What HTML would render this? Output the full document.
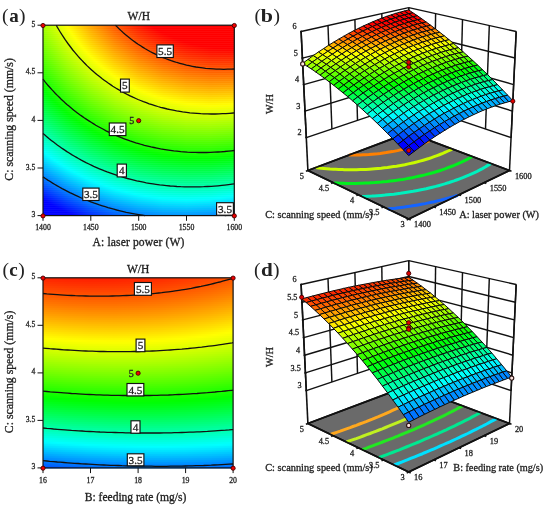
<!DOCTYPE html>
<html><head><meta charset="utf-8"><title>W/H response surfaces</title>
<style>html,body{margin:0;padding:0;background:#fff}svg{display:block}text{font-family:"Liberation Serif",serif;stroke:#222;stroke-width:.3px}text.p{stroke:none}</style>
</head><body>
<svg width="550" height="507" viewBox="0 0 550 507">
<defs><linearGradient id="ga1"><stop offset="0" stop-color="#a3ff00"/><stop offset="0.125" stop-color="#feff00"/><stop offset="0.1258" stop-color="#ffff00"/><stop offset="0.25" stop-color="#ffa600"/><stop offset="0.375" stop-color="#ff5a00"/><stop offset="0.5" stop-color="#ff1c00"/><stop offset="0.5667" stop-color="#ff0000"/><stop offset="0.625" stop-color="#ff0000"/><stop offset="0.75" stop-color="#ff0000"/><stop offset="0.875" stop-color="#ff0000"/><stop offset="1" stop-color="#ff0000"/></linearGradient><linearGradient id="ga2"><stop offset="0" stop-color="#9fff00"/><stop offset="0.125" stop-color="#faff00"/><stop offset="0.1323" stop-color="#ffff00"/><stop offset="0.25" stop-color="#ffab00"/><stop offset="0.375" stop-color="#ff6000"/><stop offset="0.5" stop-color="#ff2200"/><stop offset="0.5828" stop-color="#ff0000"/><stop offset="0.625" stop-color="#ff0000"/><stop offset="0.75" stop-color="#ff0000"/><stop offset="0.875" stop-color="#ff0000"/><stop offset="1" stop-color="#ff0000"/></linearGradient><linearGradient id="ga3"><stop offset="0" stop-color="#9bff00"/><stop offset="0.125" stop-color="#f6ff00"/><stop offset="0.139" stop-color="#ffff00"/><stop offset="0.25" stop-color="#ffb100"/><stop offset="0.375" stop-color="#ff6500"/><stop offset="0.5" stop-color="#ff2800"/><stop offset="0.6" stop-color="#ff0000"/><stop offset="0.625" stop-color="#ff0000"/><stop offset="0.75" stop-color="#ff0000"/><stop offset="0.875" stop-color="#ff0000"/><stop offset="1" stop-color="#ff0000"/></linearGradient><linearGradient id="ga4"><stop offset="0" stop-color="#97ff00"/><stop offset="0.125" stop-color="#f1ff00"/><stop offset="0.1459" stop-color="#ffff00"/><stop offset="0.25" stop-color="#ffb600"/><stop offset="0.375" stop-color="#ff6b00"/><stop offset="0.5" stop-color="#ff2e00"/><stop offset="0.6186" stop-color="#ff0000"/><stop offset="0.625" stop-color="#ff0000"/><stop offset="0.75" stop-color="#ff0000"/><stop offset="0.875" stop-color="#ff0000"/><stop offset="1" stop-color="#ff0000"/></linearGradient><linearGradient id="ga5"><stop offset="0" stop-color="#92ff00"/><stop offset="0.125" stop-color="#ecff00"/><stop offset="0.153" stop-color="#ffff00"/><stop offset="0.25" stop-color="#ffbc00"/><stop offset="0.375" stop-color="#ff7100"/><stop offset="0.5" stop-color="#ff3400"/><stop offset="0.625" stop-color="#ff0400"/><stop offset="0.6386" stop-color="#ff0000"/><stop offset="0.75" stop-color="#ff0000"/><stop offset="0.875" stop-color="#ff0000"/><stop offset="1" stop-color="#ff0000"/></linearGradient><linearGradient id="ga6"><stop offset="0" stop-color="#8eff00"/><stop offset="0.125" stop-color="#e8ff00"/><stop offset="0.1604" stop-color="#ffff00"/><stop offset="0.25" stop-color="#ffc100"/><stop offset="0.375" stop-color="#ff7700"/><stop offset="0.5" stop-color="#ff3a00"/><stop offset="0.625" stop-color="#ff0b00"/><stop offset="0.6604" stop-color="#ff0000"/><stop offset="0.75" stop-color="#ff0000"/><stop offset="0.875" stop-color="#ff0000"/><stop offset="1" stop-color="#ff0000"/></linearGradient><linearGradient id="ga7"><stop offset="0" stop-color="#8aff00"/><stop offset="0.125" stop-color="#e3ff00"/><stop offset="0.168" stop-color="#ffff00"/><stop offset="0.25" stop-color="#ffc700"/><stop offset="0.375" stop-color="#ff7d00"/><stop offset="0.5" stop-color="#ff4000"/><stop offset="0.625" stop-color="#ff1100"/><stop offset="0.6844" stop-color="#ff0000"/><stop offset="0.75" stop-color="#ff0000"/><stop offset="0.875" stop-color="#ff0000"/><stop offset="1" stop-color="#ff0000"/></linearGradient><linearGradient id="ga8"><stop offset="0" stop-color="#85ff00"/><stop offset="0.125" stop-color="#deff00"/><stop offset="0.1758" stop-color="#ffff00"/><stop offset="0.25" stop-color="#ffcd00"/><stop offset="0.375" stop-color="#ff8300"/><stop offset="0.5" stop-color="#ff4700"/><stop offset="0.625" stop-color="#ff1800"/><stop offset="0.7114" stop-color="#ff0000"/><stop offset="0.75" stop-color="#ff0000"/><stop offset="0.875" stop-color="#ff0000"/><stop offset="1" stop-color="#ff0000"/></linearGradient><linearGradient id="ga9"><stop offset="0" stop-color="#80ff00"/><stop offset="0.125" stop-color="#d9ff00"/><stop offset="0.1838" stop-color="#ffff00"/><stop offset="0.25" stop-color="#ffd300"/><stop offset="0.375" stop-color="#ff8900"/><stop offset="0.5" stop-color="#ff4d00"/><stop offset="0.625" stop-color="#ff1f00"/><stop offset="0.7422" stop-color="#ff0000"/><stop offset="0.75" stop-color="#ff0000"/><stop offset="0.875" stop-color="#ff0000"/><stop offset="1" stop-color="#ff0000"/></linearGradient><linearGradient id="ga10"><stop offset="0" stop-color="#7cff00"/><stop offset="0.125" stop-color="#d4ff00"/><stop offset="0.1921" stop-color="#ffff00"/><stop offset="0.25" stop-color="#ffd800"/><stop offset="0.375" stop-color="#ff8f00"/><stop offset="0.5" stop-color="#ff5400"/><stop offset="0.625" stop-color="#ff2600"/><stop offset="0.75" stop-color="#ff0600"/><stop offset="0.779" stop-color="#ff0000"/><stop offset="0.875" stop-color="#ff0000"/><stop offset="1" stop-color="#ff0000"/></linearGradient><linearGradient id="ga11"><stop offset="0" stop-color="#77ff00"/><stop offset="0.125" stop-color="#cfff00"/><stop offset="0.2007" stop-color="#ffff00"/><stop offset="0.25" stop-color="#ffdf00"/><stop offset="0.375" stop-color="#ff9600"/><stop offset="0.5" stop-color="#ff5a00"/><stop offset="0.625" stop-color="#ff2d00"/><stop offset="0.75" stop-color="#ff0d00"/><stop offset="0.8261" stop-color="#ff0000"/><stop offset="0.875" stop-color="#ff0000"/><stop offset="1" stop-color="#ff0000"/></linearGradient><linearGradient id="ga12"><stop offset="0" stop-color="#72ff00"/><stop offset="0.125" stop-color="#caff00"/><stop offset="0.2096" stop-color="#ffff00"/><stop offset="0.25" stop-color="#ffe500"/><stop offset="0.375" stop-color="#ff9c00"/><stop offset="0.5" stop-color="#ff6100"/><stop offset="0.625" stop-color="#ff3400"/><stop offset="0.75" stop-color="#ff1400"/><stop offset="0.875" stop-color="#ff0200"/><stop offset="0.9017" stop-color="#ff0000"/><stop offset="1" stop-color="#ff0000"/></linearGradient><linearGradient id="ga13"><stop offset="0" stop-color="#6dff00"/><stop offset="0.125" stop-color="#c5ff00"/><stop offset="0.2187" stop-color="#ffff00"/><stop offset="0.25" stop-color="#ffeb00"/><stop offset="0.375" stop-color="#ffa200"/><stop offset="0.5" stop-color="#ff6800"/><stop offset="0.625" stop-color="#ff3b00"/><stop offset="0.75" stop-color="#ff1c00"/><stop offset="0.875" stop-color="#ff0a00"/><stop offset="1" stop-color="#ff0600"/></linearGradient><linearGradient id="ga14"><stop offset="0" stop-color="#68ff00"/><stop offset="0.125" stop-color="#c0ff00"/><stop offset="0.2282" stop-color="#ffff00"/><stop offset="0.25" stop-color="#fff100"/><stop offset="0.375" stop-color="#ffa900"/><stop offset="0.5" stop-color="#ff6f00"/><stop offset="0.625" stop-color="#ff4200"/><stop offset="0.75" stop-color="#ff2300"/><stop offset="0.875" stop-color="#ff1200"/><stop offset="1" stop-color="#ff0e00"/></linearGradient><linearGradient id="ga15"><stop offset="0" stop-color="#63ff00"/><stop offset="0.125" stop-color="#baff00"/><stop offset="0.2379" stop-color="#ffff00"/><stop offset="0.25" stop-color="#fff700"/><stop offset="0.375" stop-color="#ffb000"/><stop offset="0.5" stop-color="#ff7600"/><stop offset="0.625" stop-color="#ff4900"/><stop offset="0.75" stop-color="#ff2b00"/><stop offset="0.875" stop-color="#ff1900"/><stop offset="1" stop-color="#ff1600"/></linearGradient><linearGradient id="ga16"><stop offset="0" stop-color="#5eff00"/><stop offset="0.125" stop-color="#b5ff00"/><stop offset="0.2481" stop-color="#ffff00"/><stop offset="0.25" stop-color="#fffe00"/><stop offset="0.375" stop-color="#ffb600"/><stop offset="0.5" stop-color="#ff7d00"/><stop offset="0.625" stop-color="#ff5100"/><stop offset="0.75" stop-color="#ff3200"/><stop offset="0.875" stop-color="#ff2100"/><stop offset="1" stop-color="#ff1e00"/></linearGradient><linearGradient id="ga17"><stop offset="0" stop-color="#59ff00"/><stop offset="0.125" stop-color="#b0ff00"/><stop offset="0.25" stop-color="#faff00"/><stop offset="0.2585" stop-color="#ffff00"/><stop offset="0.375" stop-color="#ffbd00"/><stop offset="0.5" stop-color="#ff8400"/><stop offset="0.625" stop-color="#ff5800"/><stop offset="0.75" stop-color="#ff3a00"/><stop offset="0.875" stop-color="#ff2900"/><stop offset="1" stop-color="#ff2700"/></linearGradient><linearGradient id="ga18"><stop offset="0" stop-color="#54ff00"/><stop offset="0.125" stop-color="#aaff00"/><stop offset="0.25" stop-color="#f5ff00"/><stop offset="0.2694" stop-color="#ffff00"/><stop offset="0.375" stop-color="#ffc400"/><stop offset="0.5" stop-color="#ff8b00"/><stop offset="0.625" stop-color="#ff6000"/><stop offset="0.75" stop-color="#ff4200"/><stop offset="0.875" stop-color="#ff3200"/><stop offset="1" stop-color="#ff2f00"/></linearGradient><linearGradient id="ga19"><stop offset="0" stop-color="#4eff00"/><stop offset="0.125" stop-color="#a4ff00"/><stop offset="0.25" stop-color="#efff00"/><stop offset="0.2806" stop-color="#ffff00"/><stop offset="0.375" stop-color="#ffcb00"/><stop offset="0.5" stop-color="#ff9200"/><stop offset="0.625" stop-color="#ff6700"/><stop offset="0.75" stop-color="#ff4a00"/><stop offset="0.875" stop-color="#ff3a00"/><stop offset="1" stop-color="#ff3800"/></linearGradient><linearGradient id="ga20"><stop offset="0" stop-color="#49ff00"/><stop offset="0.125" stop-color="#9fff00"/><stop offset="0.25" stop-color="#e9ff00"/><stop offset="0.2922" stop-color="#ffff00"/><stop offset="0.375" stop-color="#ffd200"/><stop offset="0.5" stop-color="#ff9a00"/><stop offset="0.625" stop-color="#ff6f00"/><stop offset="0.75" stop-color="#ff5200"/><stop offset="0.875" stop-color="#ff4200"/><stop offset="1" stop-color="#ff4000"/></linearGradient><linearGradient id="ga21"><stop offset="0" stop-color="#43ff00"/><stop offset="0.125" stop-color="#99ff00"/><stop offset="0.25" stop-color="#e3ff00"/><stop offset="0.3044" stop-color="#ffff00"/><stop offset="0.375" stop-color="#ffd900"/><stop offset="0.5" stop-color="#ffa100"/><stop offset="0.625" stop-color="#ff7700"/><stop offset="0.75" stop-color="#ff5a00"/><stop offset="0.875" stop-color="#ff4a00"/><stop offset="1" stop-color="#ff4900"/></linearGradient><linearGradient id="ga22"><stop offset="0" stop-color="#3eff00"/><stop offset="0.125" stop-color="#93ff00"/><stop offset="0.25" stop-color="#ddff00"/><stop offset="0.317" stop-color="#ffff00"/><stop offset="0.375" stop-color="#ffe000"/><stop offset="0.5" stop-color="#ffa900"/><stop offset="0.625" stop-color="#ff7e00"/><stop offset="0.75" stop-color="#ff6200"/><stop offset="0.875" stop-color="#ff5300"/><stop offset="1" stop-color="#ff5100"/></linearGradient><linearGradient id="ga23"><stop offset="0" stop-color="#38ff00"/><stop offset="0.125" stop-color="#8dff00"/><stop offset="0.25" stop-color="#d6ff00"/><stop offset="0.3301" stop-color="#ffff00"/><stop offset="0.375" stop-color="#ffe800"/><stop offset="0.5" stop-color="#ffb000"/><stop offset="0.625" stop-color="#ff8600"/><stop offset="0.75" stop-color="#ff6a00"/><stop offset="0.875" stop-color="#ff5b00"/><stop offset="1" stop-color="#ff5a00"/></linearGradient><linearGradient id="ga24"><stop offset="0" stop-color="#33ff00"/><stop offset="0.125" stop-color="#87ff00"/><stop offset="0.25" stop-color="#d0ff00"/><stop offset="0.3438" stop-color="#ffff00"/><stop offset="0.375" stop-color="#ffef00"/><stop offset="0.5" stop-color="#ffb800"/><stop offset="0.625" stop-color="#ff8e00"/><stop offset="0.75" stop-color="#ff7200"/><stop offset="0.875" stop-color="#ff6400"/><stop offset="1" stop-color="#ff6300"/></linearGradient><linearGradient id="ga25"><stop offset="0" stop-color="#2dff00"/><stop offset="0.125" stop-color="#81ff00"/><stop offset="0.25" stop-color="#caff00"/><stop offset="0.358" stop-color="#ffff00"/><stop offset="0.375" stop-color="#fff600"/><stop offset="0.5" stop-color="#ffc000"/><stop offset="0.625" stop-color="#ff9600"/><stop offset="0.75" stop-color="#ff7b00"/><stop offset="0.875" stop-color="#ff6d00"/><stop offset="1" stop-color="#ff6c00"/></linearGradient><linearGradient id="ga26"><stop offset="0" stop-color="#27ff00"/><stop offset="0.125" stop-color="#7bff00"/><stop offset="0.25" stop-color="#c4ff00"/><stop offset="0.373" stop-color="#ffff00"/><stop offset="0.375" stop-color="#fffe00"/><stop offset="0.5" stop-color="#ffc700"/><stop offset="0.625" stop-color="#ff9e00"/><stop offset="0.75" stop-color="#ff8300"/><stop offset="0.875" stop-color="#ff7500"/><stop offset="1" stop-color="#ff7500"/></linearGradient><linearGradient id="ga27"><stop offset="0" stop-color="#21ff00"/><stop offset="0.125" stop-color="#75ff00"/><stop offset="0.25" stop-color="#bdff00"/><stop offset="0.375" stop-color="#f9ff00"/><stop offset="0.3887" stop-color="#ffff00"/><stop offset="0.5" stop-color="#ffcf00"/><stop offset="0.625" stop-color="#ffa700"/><stop offset="0.75" stop-color="#ff8c00"/><stop offset="0.875" stop-color="#ff7e00"/><stop offset="1" stop-color="#ff7e00"/></linearGradient><linearGradient id="ga28"><stop offset="0" stop-color="#1bff00"/><stop offset="0.125" stop-color="#6fff00"/><stop offset="0.25" stop-color="#b7ff00"/><stop offset="0.375" stop-color="#f2ff00"/><stop offset="0.4052" stop-color="#ffff00"/><stop offset="0.5" stop-color="#ffd700"/><stop offset="0.625" stop-color="#ffaf00"/><stop offset="0.75" stop-color="#ff9400"/><stop offset="0.875" stop-color="#ff8700"/><stop offset="1" stop-color="#ff8800"/></linearGradient><linearGradient id="ga29"><stop offset="0" stop-color="#15ff00"/><stop offset="0.125" stop-color="#69ff00"/><stop offset="0.25" stop-color="#b0ff00"/><stop offset="0.375" stop-color="#ecff00"/><stop offset="0.4226" stop-color="#ffff00"/><stop offset="0.5" stop-color="#ffdf00"/><stop offset="0.625" stop-color="#ffb700"/><stop offset="0.75" stop-color="#ff9d00"/><stop offset="0.875" stop-color="#ff9000"/><stop offset="1" stop-color="#ff9100"/></linearGradient><linearGradient id="ga30"><stop offset="0" stop-color="#0fff00"/><stop offset="0.125" stop-color="#62ff00"/><stop offset="0.25" stop-color="#a9ff00"/><stop offset="0.375" stop-color="#e5ff00"/><stop offset="0.441" stop-color="#ffff00"/><stop offset="0.5" stop-color="#ffe700"/><stop offset="0.625" stop-color="#ffc000"/><stop offset="0.75" stop-color="#ffa600"/><stop offset="0.875" stop-color="#ff9900"/><stop offset="1" stop-color="#ff9a00"/></linearGradient><linearGradient id="ga31"><stop offset="0" stop-color="#09ff00"/><stop offset="0.125" stop-color="#5cff00"/><stop offset="0.25" stop-color="#a3ff00"/><stop offset="0.375" stop-color="#deff00"/><stop offset="0.4605" stop-color="#ffff00"/><stop offset="0.5" stop-color="#fff000"/><stop offset="0.625" stop-color="#ffc800"/><stop offset="0.75" stop-color="#ffae00"/><stop offset="0.875" stop-color="#ffa200"/><stop offset="1" stop-color="#ffa400"/></linearGradient><linearGradient id="ga32"><stop offset="0" stop-color="#03ff00"/><stop offset="0.125" stop-color="#55ff00"/><stop offset="0.25" stop-color="#9cff00"/><stop offset="0.375" stop-color="#d7ff00"/><stop offset="0.4814" stop-color="#ffff00"/><stop offset="0.5" stop-color="#fff800"/><stop offset="0.625" stop-color="#ffd100"/><stop offset="0.75" stop-color="#ffb700"/><stop offset="0.875" stop-color="#ffab00"/><stop offset="1" stop-color="#ffad00"/></linearGradient><linearGradient id="ga33"><stop offset="0" stop-color="#00ff04"/><stop offset="0.0052" stop-color="#00ff00"/><stop offset="0.125" stop-color="#4fff00"/><stop offset="0.25" stop-color="#95ff00"/><stop offset="0.375" stop-color="#cfff00"/><stop offset="0.5" stop-color="#feff00"/><stop offset="0.5038" stop-color="#ffff00"/><stop offset="0.625" stop-color="#ffda00"/><stop offset="0.75" stop-color="#ffc000"/><stop offset="0.875" stop-color="#ffb500"/><stop offset="1" stop-color="#ffb700"/></linearGradient><linearGradient id="ga34"><stop offset="0" stop-color="#00ff0b"/><stop offset="0.0144" stop-color="#00ff00"/><stop offset="0.125" stop-color="#48ff00"/><stop offset="0.25" stop-color="#8eff00"/><stop offset="0.375" stop-color="#c8ff00"/><stop offset="0.5" stop-color="#f6ff00"/><stop offset="0.5281" stop-color="#ffff00"/><stop offset="0.625" stop-color="#ffe200"/><stop offset="0.75" stop-color="#ffc900"/><stop offset="0.875" stop-color="#ffbe00"/><stop offset="1" stop-color="#ffc100"/></linearGradient><linearGradient id="ga35"><stop offset="0" stop-color="#00ff12"/><stop offset="0.0238" stop-color="#00ff00"/><stop offset="0.125" stop-color="#41ff00"/><stop offset="0.25" stop-color="#87ff00"/><stop offset="0.375" stop-color="#c1ff00"/><stop offset="0.5" stop-color="#efff00"/><stop offset="0.5547" stop-color="#ffff00"/><stop offset="0.625" stop-color="#ffeb00"/><stop offset="0.75" stop-color="#ffd300"/><stop offset="0.875" stop-color="#ffc800"/><stop offset="1" stop-color="#ffca00"/></linearGradient><linearGradient id="ga36"><stop offset="0" stop-color="#00ff19"/><stop offset="0.0335" stop-color="#00ff00"/><stop offset="0.125" stop-color="#3bff00"/><stop offset="0.25" stop-color="#80ff00"/><stop offset="0.375" stop-color="#baff00"/><stop offset="0.5" stop-color="#e7ff00"/><stop offset="0.5842" stop-color="#ffff00"/><stop offset="0.625" stop-color="#fff400"/><stop offset="0.75" stop-color="#ffdc00"/><stop offset="0.875" stop-color="#ffd100"/><stop offset="1" stop-color="#ffd400"/></linearGradient><linearGradient id="ga37"><stop offset="0" stop-color="#00ff21"/><stop offset="0.0435" stop-color="#00ff00"/><stop offset="0.125" stop-color="#34ff00"/><stop offset="0.25" stop-color="#79ff00"/><stop offset="0.375" stop-color="#b2ff00"/><stop offset="0.5" stop-color="#dfff00"/><stop offset="0.6175" stop-color="#ffff00"/><stop offset="0.625" stop-color="#fffd00"/><stop offset="0.75" stop-color="#ffe500"/><stop offset="0.875" stop-color="#ffdb00"/><stop offset="1" stop-color="#ffde00"/></linearGradient><linearGradient id="ga38"><stop offset="0" stop-color="#00ff28"/><stop offset="0.0537" stop-color="#00ff00"/><stop offset="0.125" stop-color="#2dff00"/><stop offset="0.25" stop-color="#72ff00"/><stop offset="0.375" stop-color="#abff00"/><stop offset="0.5" stop-color="#d8ff00"/><stop offset="0.625" stop-color="#f9ff00"/><stop offset="0.6563" stop-color="#ffff00"/><stop offset="0.75" stop-color="#ffef00"/><stop offset="0.875" stop-color="#ffe500"/><stop offset="1" stop-color="#ffe800"/></linearGradient><linearGradient id="ga39"><stop offset="0" stop-color="#00ff2f"/><stop offset="0.0643" stop-color="#00ff00"/><stop offset="0.125" stop-color="#26ff00"/><stop offset="0.25" stop-color="#6aff00"/><stop offset="0.375" stop-color="#a3ff00"/><stop offset="0.5" stop-color="#d0ff00"/><stop offset="0.625" stop-color="#f1ff00"/><stop offset="0.7042" stop-color="#ffff00"/><stop offset="0.75" stop-color="#fff800"/><stop offset="0.875" stop-color="#ffee00"/><stop offset="1" stop-color="#fff200"/></linearGradient><linearGradient id="ga40"><stop offset="0" stop-color="#00ff37"/><stop offset="0.0752" stop-color="#00ff00"/><stop offset="0.125" stop-color="#1fff00"/><stop offset="0.25" stop-color="#63ff00"/><stop offset="0.375" stop-color="#9cff00"/><stop offset="0.5" stop-color="#c8ff00"/><stop offset="0.625" stop-color="#e8ff00"/><stop offset="0.75" stop-color="#fdff00"/><stop offset="0.7715" stop-color="#ffff00"/><stop offset="0.875" stop-color="#fff800"/><stop offset="1" stop-color="#fffc00"/></linearGradient><linearGradient id="ga41"><stop offset="0" stop-color="#00ff3e"/><stop offset="0.0864" stop-color="#00ff00"/><stop offset="0.125" stop-color="#18ff00"/><stop offset="0.25" stop-color="#5cff00"/><stop offset="0.375" stop-color="#94ff00"/><stop offset="0.5" stop-color="#c0ff00"/><stop offset="0.625" stop-color="#e0ff00"/><stop offset="0.75" stop-color="#f4ff00"/><stop offset="0.875" stop-color="#fcff00"/><stop offset="1" stop-color="#f8ff00"/></linearGradient><linearGradient id="ga42"><stop offset="0" stop-color="#00ff46"/><stop offset="0.0979" stop-color="#00ff00"/><stop offset="0.125" stop-color="#10ff00"/><stop offset="0.25" stop-color="#54ff00"/><stop offset="0.375" stop-color="#8cff00"/><stop offset="0.5" stop-color="#b8ff00"/><stop offset="0.625" stop-color="#d8ff00"/><stop offset="0.75" stop-color="#ecff00"/><stop offset="0.875" stop-color="#f3ff00"/><stop offset="1" stop-color="#efff00"/></linearGradient><linearGradient id="ga43"><stop offset="0" stop-color="#00ff4e"/><stop offset="0.1099" stop-color="#00ff00"/><stop offset="0.125" stop-color="#09ff00"/><stop offset="0.25" stop-color="#4dff00"/><stop offset="0.375" stop-color="#84ff00"/><stop offset="0.5" stop-color="#b0ff00"/><stop offset="0.625" stop-color="#cfff00"/><stop offset="0.75" stop-color="#e3ff00"/><stop offset="0.875" stop-color="#eaff00"/><stop offset="1" stop-color="#e6ff00"/></linearGradient><linearGradient id="ga44"><stop offset="0" stop-color="#00ff55"/><stop offset="0.1222" stop-color="#00ff00"/><stop offset="0.125" stop-color="#02ff00"/><stop offset="0.25" stop-color="#45ff00"/><stop offset="0.375" stop-color="#7cff00"/><stop offset="0.5" stop-color="#a8ff00"/><stop offset="0.625" stop-color="#c7ff00"/><stop offset="0.75" stop-color="#daff00"/><stop offset="0.875" stop-color="#e1ff00"/><stop offset="1" stop-color="#ddff00"/></linearGradient><linearGradient id="ga45"><stop offset="0" stop-color="#00ff5d"/><stop offset="0.125" stop-color="#00ff06"/><stop offset="0.1349" stop-color="#00ff00"/><stop offset="0.25" stop-color="#3dff00"/><stop offset="0.375" stop-color="#74ff00"/><stop offset="0.5" stop-color="#9fff00"/><stop offset="0.625" stop-color="#bfff00"/><stop offset="0.75" stop-color="#d1ff00"/><stop offset="0.875" stop-color="#d8ff00"/><stop offset="1" stop-color="#d3ff00"/></linearGradient><linearGradient id="ga46"><stop offset="0" stop-color="#00ff65"/><stop offset="0.125" stop-color="#00ff0f"/><stop offset="0.1481" stop-color="#00ff00"/><stop offset="0.25" stop-color="#36ff00"/><stop offset="0.375" stop-color="#6cff00"/><stop offset="0.5" stop-color="#97ff00"/><stop offset="0.625" stop-color="#b6ff00"/><stop offset="0.75" stop-color="#c9ff00"/><stop offset="0.875" stop-color="#cfff00"/><stop offset="1" stop-color="#caff00"/></linearGradient><linearGradient id="ga47"><stop offset="0" stop-color="#00ff6d"/><stop offset="0.125" stop-color="#00ff17"/><stop offset="0.1618" stop-color="#00ff00"/><stop offset="0.25" stop-color="#2eff00"/><stop offset="0.375" stop-color="#64ff00"/><stop offset="0.5" stop-color="#8fff00"/><stop offset="0.625" stop-color="#adff00"/><stop offset="0.75" stop-color="#c0ff00"/><stop offset="0.875" stop-color="#c6ff00"/><stop offset="1" stop-color="#c0ff00"/></linearGradient><linearGradient id="ga48"><stop offset="0" stop-color="#00ff75"/><stop offset="0.125" stop-color="#00ff1f"/><stop offset="0.176" stop-color="#00ff00"/><stop offset="0.25" stop-color="#26ff00"/><stop offset="0.375" stop-color="#5cff00"/><stop offset="0.5" stop-color="#86ff00"/><stop offset="0.625" stop-color="#a5ff00"/><stop offset="0.75" stop-color="#b7ff00"/><stop offset="0.875" stop-color="#bdff00"/><stop offset="1" stop-color="#b7ff00"/></linearGradient><linearGradient id="ga49"><stop offset="0" stop-color="#00ff7d"/><stop offset="0.125" stop-color="#00ff28"/><stop offset="0.1907" stop-color="#00ff00"/><stop offset="0.25" stop-color="#1eff00"/><stop offset="0.375" stop-color="#54ff00"/><stop offset="0.5" stop-color="#7eff00"/><stop offset="0.625" stop-color="#9cff00"/><stop offset="0.75" stop-color="#aeff00"/><stop offset="0.875" stop-color="#b3ff00"/><stop offset="1" stop-color="#adff00"/></linearGradient><linearGradient id="ga50"><stop offset="0" stop-color="#00ff86"/><stop offset="0.125" stop-color="#00ff30"/><stop offset="0.206" stop-color="#00ff00"/><stop offset="0.25" stop-color="#16ff00"/><stop offset="0.375" stop-color="#4cff00"/><stop offset="0.5" stop-color="#75ff00"/><stop offset="0.625" stop-color="#93ff00"/><stop offset="0.75" stop-color="#a5ff00"/><stop offset="0.875" stop-color="#aaff00"/><stop offset="1" stop-color="#a4ff00"/></linearGradient><linearGradient id="ga51"><stop offset="0" stop-color="#00ff8e"/><stop offset="0.125" stop-color="#00ff39"/><stop offset="0.2219" stop-color="#00ff00"/><stop offset="0.25" stop-color="#0eff00"/><stop offset="0.375" stop-color="#43ff00"/><stop offset="0.5" stop-color="#6dff00"/><stop offset="0.625" stop-color="#8aff00"/><stop offset="0.75" stop-color="#9bff00"/><stop offset="0.875" stop-color="#a1ff00"/><stop offset="1" stop-color="#9aff00"/></linearGradient><linearGradient id="ga52"><stop offset="0" stop-color="#00ff96"/><stop offset="0.125" stop-color="#00ff42"/><stop offset="0.2386" stop-color="#00ff00"/><stop offset="0.25" stop-color="#05ff00"/><stop offset="0.375" stop-color="#3bff00"/><stop offset="0.5" stop-color="#64ff00"/><stop offset="0.625" stop-color="#81ff00"/><stop offset="0.75" stop-color="#92ff00"/><stop offset="0.875" stop-color="#97ff00"/><stop offset="1" stop-color="#90ff00"/></linearGradient><linearGradient id="ga53"><stop offset="0" stop-color="#00ff9f"/><stop offset="0.125" stop-color="#00ff4a"/><stop offset="0.25" stop-color="#00ff03"/><stop offset="0.256" stop-color="#00ff00"/><stop offset="0.375" stop-color="#32ff00"/><stop offset="0.5" stop-color="#5bff00"/><stop offset="0.625" stop-color="#78ff00"/><stop offset="0.75" stop-color="#89ff00"/><stop offset="0.875" stop-color="#8dff00"/><stop offset="1" stop-color="#86ff00"/></linearGradient><linearGradient id="ga54"><stop offset="0" stop-color="#00ffa7"/><stop offset="0.125" stop-color="#00ff53"/><stop offset="0.25" stop-color="#00ff0c"/><stop offset="0.2742" stop-color="#00ff00"/><stop offset="0.375" stop-color="#2aff00"/><stop offset="0.5" stop-color="#52ff00"/><stop offset="0.625" stop-color="#6fff00"/><stop offset="0.75" stop-color="#7fff00"/><stop offset="0.875" stop-color="#84ff00"/><stop offset="1" stop-color="#7cff00"/></linearGradient><linearGradient id="ga55"><stop offset="0" stop-color="#00ffb0"/><stop offset="0.125" stop-color="#00ff5c"/><stop offset="0.25" stop-color="#00ff15"/><stop offset="0.2934" stop-color="#00ff00"/><stop offset="0.375" stop-color="#21ff00"/><stop offset="0.5" stop-color="#49ff00"/><stop offset="0.625" stop-color="#65ff00"/><stop offset="0.75" stop-color="#76ff00"/><stop offset="0.875" stop-color="#7aff00"/><stop offset="1" stop-color="#72ff00"/></linearGradient><linearGradient id="ga56"><stop offset="0" stop-color="#00ffb9"/><stop offset="0.125" stop-color="#00ff65"/><stop offset="0.25" stop-color="#00ff1f"/><stop offset="0.3136" stop-color="#00ff00"/><stop offset="0.375" stop-color="#18ff00"/><stop offset="0.5" stop-color="#40ff00"/><stop offset="0.625" stop-color="#5cff00"/><stop offset="0.75" stop-color="#6cff00"/><stop offset="0.875" stop-color="#70ff00"/><stop offset="1" stop-color="#68ff00"/></linearGradient><linearGradient id="ga57"><stop offset="0" stop-color="#00ffc1"/><stop offset="0.125" stop-color="#00ff6e"/><stop offset="0.25" stop-color="#00ff28"/><stop offset="0.335" stop-color="#00ff00"/><stop offset="0.375" stop-color="#0fff00"/><stop offset="0.5" stop-color="#37ff00"/><stop offset="0.625" stop-color="#53ff00"/><stop offset="0.75" stop-color="#63ff00"/><stop offset="0.875" stop-color="#66ff00"/><stop offset="1" stop-color="#5eff00"/></linearGradient><linearGradient id="ga58"><stop offset="0" stop-color="#00ffca"/><stop offset="0.125" stop-color="#00ff77"/><stop offset="0.25" stop-color="#00ff32"/><stop offset="0.3578" stop-color="#00ff00"/><stop offset="0.375" stop-color="#06ff00"/><stop offset="0.5" stop-color="#2eff00"/><stop offset="0.625" stop-color="#49ff00"/><stop offset="0.75" stop-color="#59ff00"/><stop offset="0.875" stop-color="#5cff00"/><stop offset="1" stop-color="#54ff00"/></linearGradient><linearGradient id="ga59"><stop offset="0" stop-color="#00ffd3"/><stop offset="0.125" stop-color="#00ff81"/><stop offset="0.25" stop-color="#00ff3b"/><stop offset="0.375" stop-color="#00ff03"/><stop offset="0.3822" stop-color="#00ff00"/><stop offset="0.5" stop-color="#25ff00"/><stop offset="0.625" stop-color="#40ff00"/><stop offset="0.75" stop-color="#4fff00"/><stop offset="0.875" stop-color="#52ff00"/><stop offset="1" stop-color="#49ff00"/></linearGradient><linearGradient id="ga60"><stop offset="0" stop-color="#00ffdc"/><stop offset="0.125" stop-color="#00ff8a"/><stop offset="0.25" stop-color="#00ff45"/><stop offset="0.375" stop-color="#00ff0d"/><stop offset="0.4084" stop-color="#00ff00"/><stop offset="0.5" stop-color="#1bff00"/><stop offset="0.625" stop-color="#36ff00"/><stop offset="0.75" stop-color="#45ff00"/><stop offset="0.875" stop-color="#48ff00"/><stop offset="1" stop-color="#3fff00"/></linearGradient><linearGradient id="ga61"><stop offset="0" stop-color="#00ffe5"/><stop offset="0.125" stop-color="#00ff93"/><stop offset="0.25" stop-color="#00ff4e"/><stop offset="0.375" stop-color="#00ff17"/><stop offset="0.437" stop-color="#00ff00"/><stop offset="0.5" stop-color="#12ff00"/><stop offset="0.625" stop-color="#2dff00"/><stop offset="0.75" stop-color="#3bff00"/><stop offset="0.875" stop-color="#3eff00"/><stop offset="1" stop-color="#34ff00"/></linearGradient><linearGradient id="ga62"><stop offset="0" stop-color="#00ffee"/><stop offset="0.125" stop-color="#00ff9d"/><stop offset="0.25" stop-color="#00ff58"/><stop offset="0.375" stop-color="#00ff21"/><stop offset="0.4684" stop-color="#00ff00"/><stop offset="0.5" stop-color="#09ff00"/><stop offset="0.625" stop-color="#23ff00"/><stop offset="0.75" stop-color="#31ff00"/><stop offset="0.875" stop-color="#34ff00"/><stop offset="1" stop-color="#2aff00"/></linearGradient><linearGradient id="ga63"><stop offset="0" stop-color="#00fff8"/><stop offset="0.125" stop-color="#00ffa6"/><stop offset="0.25" stop-color="#00ff62"/><stop offset="0.375" stop-color="#00ff2b"/><stop offset="0.5" stop-color="#00ff01"/><stop offset="0.5037" stop-color="#00ff00"/><stop offset="0.625" stop-color="#19ff00"/><stop offset="0.75" stop-color="#27ff00"/><stop offset="0.875" stop-color="#29ff00"/><stop offset="1" stop-color="#1fff00"/></linearGradient><linearGradient id="ga64"><stop offset="0" stop-color="#00fdff"/><stop offset="0.0029" stop-color="#00ffff"/><stop offset="0.125" stop-color="#00ffb0"/><stop offset="0.25" stop-color="#00ff6c"/><stop offset="0.375" stop-color="#00ff35"/><stop offset="0.5" stop-color="#00ff0c"/><stop offset="0.5442" stop-color="#00ff00"/><stop offset="0.625" stop-color="#0fff00"/><stop offset="0.75" stop-color="#1dff00"/><stop offset="0.875" stop-color="#1fff00"/><stop offset="1" stop-color="#15ff00"/></linearGradient><linearGradient id="ga65"><stop offset="0" stop-color="#00f3ff"/><stop offset="0.0165" stop-color="#00ffff"/><stop offset="0.125" stop-color="#00ffba"/><stop offset="0.25" stop-color="#00ff76"/><stop offset="0.375" stop-color="#00ff3f"/><stop offset="0.5" stop-color="#00ff16"/><stop offset="0.5929" stop-color="#00ff00"/><stop offset="0.625" stop-color="#05ff00"/><stop offset="0.75" stop-color="#13ff00"/><stop offset="0.875" stop-color="#14ff00"/><stop offset="1" stop-color="#0aff00"/></linearGradient><linearGradient id="ga66"><stop offset="0" stop-color="#00e9ff"/><stop offset="0.0305" stop-color="#00ffff"/><stop offset="0.125" stop-color="#00ffc3"/><stop offset="0.25" stop-color="#00ff80"/><stop offset="0.375" stop-color="#00ff4a"/><stop offset="0.5" stop-color="#00ff21"/><stop offset="0.625" stop-color="#00ff05"/><stop offset="0.6572" stop-color="#00ff00"/><stop offset="0.75" stop-color="#09ff00"/><stop offset="0.875" stop-color="#0aff00"/><stop offset="0.9936" stop-color="#00ff00"/><stop offset="1" stop-color="#00ff01"/></linearGradient><linearGradient id="ga67"><stop offset="0" stop-color="#00e0ff"/><stop offset="0.045" stop-color="#00ffff"/><stop offset="0.125" stop-color="#00ffcd"/><stop offset="0.25" stop-color="#00ff8a"/><stop offset="0.375" stop-color="#00ff54"/><stop offset="0.5" stop-color="#00ff2c"/><stop offset="0.625" stop-color="#00ff10"/><stop offset="0.75" stop-color="#00ff02"/><stop offset="0.7905" stop-color="#00ff00"/><stop offset="0.8547" stop-color="#00ff00"/><stop offset="0.875" stop-color="#00ff01"/><stop offset="1" stop-color="#00ff0d"/></linearGradient><linearGradient id="ga68"><stop offset="0" stop-color="#00d6ff"/><stop offset="0.06" stop-color="#00ffff"/><stop offset="0.125" stop-color="#00ffd7"/><stop offset="0.25" stop-color="#00ff94"/><stop offset="0.375" stop-color="#00ff5f"/><stop offset="0.5" stop-color="#00ff36"/><stop offset="0.625" stop-color="#00ff1b"/><stop offset="0.75" stop-color="#00ff0d"/><stop offset="0.875" stop-color="#00ff0c"/><stop offset="1" stop-color="#00ff19"/></linearGradient><linearGradient id="ga69"><stop offset="0" stop-color="#00ccff"/><stop offset="0.0756" stop-color="#00ffff"/><stop offset="0.125" stop-color="#00ffe1"/><stop offset="0.25" stop-color="#00ff9f"/><stop offset="0.375" stop-color="#00ff69"/><stop offset="0.5" stop-color="#00ff41"/><stop offset="0.625" stop-color="#00ff26"/><stop offset="0.75" stop-color="#00ff19"/><stop offset="0.875" stop-color="#00ff18"/><stop offset="1" stop-color="#00ff25"/></linearGradient><linearGradient id="ga70"><stop offset="0" stop-color="#00c1ff"/><stop offset="0.0917" stop-color="#00ffff"/><stop offset="0.125" stop-color="#00ffeb"/><stop offset="0.25" stop-color="#00ffa9"/><stop offset="0.375" stop-color="#00ff74"/><stop offset="0.5" stop-color="#00ff4c"/><stop offset="0.625" stop-color="#00ff32"/><stop offset="0.75" stop-color="#00ff24"/><stop offset="0.875" stop-color="#00ff24"/><stop offset="1" stop-color="#00ff31"/></linearGradient><linearGradient id="ga71"><stop offset="0" stop-color="#00b7ff"/><stop offset="0.1085" stop-color="#00ffff"/><stop offset="0.125" stop-color="#00fff5"/><stop offset="0.25" stop-color="#00ffb3"/><stop offset="0.375" stop-color="#00ff7f"/><stop offset="0.5" stop-color="#00ff57"/><stop offset="0.625" stop-color="#00ff3d"/><stop offset="0.75" stop-color="#00ff30"/><stop offset="0.875" stop-color="#00ff30"/><stop offset="1" stop-color="#00ff3d"/></linearGradient><linearGradient id="ga72"><stop offset="0" stop-color="#00adff"/><stop offset="0.125" stop-color="#00feff"/><stop offset="0.126" stop-color="#00ffff"/><stop offset="0.25" stop-color="#00ffbe"/><stop offset="0.375" stop-color="#00ff8a"/><stop offset="0.5" stop-color="#00ff62"/><stop offset="0.625" stop-color="#00ff48"/><stop offset="0.75" stop-color="#00ff3c"/><stop offset="0.875" stop-color="#00ff3c"/><stop offset="1" stop-color="#00ff4a"/></linearGradient><linearGradient id="ga73"><stop offset="0" stop-color="#00a3ff"/><stop offset="0.125" stop-color="#00f4ff"/><stop offset="0.1442" stop-color="#00ffff"/><stop offset="0.25" stop-color="#00ffc9"/><stop offset="0.375" stop-color="#00ff94"/><stop offset="0.5" stop-color="#00ff6e"/><stop offset="0.625" stop-color="#00ff54"/><stop offset="0.75" stop-color="#00ff47"/><stop offset="0.875" stop-color="#00ff48"/><stop offset="1" stop-color="#00ff56"/></linearGradient><linearGradient id="ga74"><stop offset="0" stop-color="#0098ff"/><stop offset="0.125" stop-color="#00e9ff"/><stop offset="0.1632" stop-color="#00ffff"/><stop offset="0.25" stop-color="#00ffd3"/><stop offset="0.375" stop-color="#00ff9f"/><stop offset="0.5" stop-color="#00ff79"/><stop offset="0.625" stop-color="#00ff5f"/><stop offset="0.75" stop-color="#00ff53"/><stop offset="0.875" stop-color="#00ff54"/><stop offset="1" stop-color="#00ff63"/></linearGradient><linearGradient id="ga75"><stop offset="0" stop-color="#008eff"/><stop offset="0.125" stop-color="#00deff"/><stop offset="0.1831" stop-color="#00ffff"/><stop offset="0.25" stop-color="#00ffde"/><stop offset="0.375" stop-color="#00ffab"/><stop offset="0.5" stop-color="#00ff84"/><stop offset="0.625" stop-color="#00ff6b"/><stop offset="0.75" stop-color="#00ff5f"/><stop offset="0.875" stop-color="#00ff61"/><stop offset="1" stop-color="#00ff6f"/></linearGradient><linearGradient id="ga76"><stop offset="0" stop-color="#0083ff"/><stop offset="0.125" stop-color="#00d3ff"/><stop offset="0.204" stop-color="#00ffff"/><stop offset="0.25" stop-color="#00ffe9"/><stop offset="0.375" stop-color="#00ffb6"/><stop offset="0.5" stop-color="#00ff90"/><stop offset="0.625" stop-color="#00ff77"/><stop offset="0.75" stop-color="#00ff6b"/><stop offset="0.875" stop-color="#00ff6d"/><stop offset="1" stop-color="#00ff7c"/></linearGradient><linearGradient id="ga77"><stop offset="0" stop-color="#0078ff"/><stop offset="0.125" stop-color="#00c8ff"/><stop offset="0.2261" stop-color="#00ffff"/><stop offset="0.25" stop-color="#00fff4"/><stop offset="0.375" stop-color="#00ffc1"/><stop offset="0.5" stop-color="#00ff9b"/><stop offset="0.625" stop-color="#00ff83"/><stop offset="0.75" stop-color="#00ff77"/><stop offset="0.875" stop-color="#00ff79"/><stop offset="1" stop-color="#00ff88"/></linearGradient><linearGradient id="ga78"><stop offset="0" stop-color="#006eff"/><stop offset="0.125" stop-color="#00bdff"/><stop offset="0.2495" stop-color="#00ffff"/><stop offset="0.25" stop-color="#00ffff"/><stop offset="0.375" stop-color="#00ffcc"/><stop offset="0.5" stop-color="#00ffa7"/><stop offset="0.625" stop-color="#00ff8f"/><stop offset="0.75" stop-color="#00ff84"/><stop offset="0.875" stop-color="#00ff86"/><stop offset="1" stop-color="#00ff95"/></linearGradient><linearGradient id="ga79"><stop offset="0" stop-color="#0063ff"/><stop offset="0.125" stop-color="#00b2ff"/><stop offset="0.25" stop-color="#00f4ff"/><stop offset="0.2744" stop-color="#00ffff"/><stop offset="0.375" stop-color="#00ffd8"/><stop offset="0.5" stop-color="#00ffb2"/><stop offset="0.625" stop-color="#00ff9b"/><stop offset="0.75" stop-color="#00ff90"/><stop offset="0.875" stop-color="#00ff92"/><stop offset="1" stop-color="#00ffa2"/></linearGradient><linearGradient id="ga80"><stop offset="0" stop-color="#0058ff"/><stop offset="0.125" stop-color="#00a7ff"/><stop offset="0.25" stop-color="#00e8ff"/><stop offset="0.301" stop-color="#00ffff"/><stop offset="0.375" stop-color="#00ffe3"/><stop offset="0.5" stop-color="#00ffbe"/><stop offset="0.625" stop-color="#00ffa7"/><stop offset="0.75" stop-color="#00ff9c"/><stop offset="0.875" stop-color="#00ff9f"/><stop offset="1" stop-color="#00ffaf"/></linearGradient><linearGradient id="ga81"><stop offset="0" stop-color="#004dff"/><stop offset="0.125" stop-color="#009cff"/><stop offset="0.25" stop-color="#00ddff"/><stop offset="0.3297" stop-color="#00ffff"/><stop offset="0.375" stop-color="#00ffef"/><stop offset="0.5" stop-color="#00ffca"/><stop offset="0.625" stop-color="#00ffb3"/><stop offset="0.75" stop-color="#00ffa9"/><stop offset="0.875" stop-color="#00ffac"/><stop offset="1" stop-color="#00ffbc"/></linearGradient><linearGradient id="ga82"><stop offset="0" stop-color="#0042ff"/><stop offset="0.125" stop-color="#0090ff"/><stop offset="0.25" stop-color="#00d1ff"/><stop offset="0.361" stop-color="#00ffff"/><stop offset="0.375" stop-color="#00fffa"/><stop offset="0.5" stop-color="#00ffd6"/><stop offset="0.625" stop-color="#00ffbf"/><stop offset="0.75" stop-color="#00ffb5"/><stop offset="0.875" stop-color="#00ffb9"/><stop offset="1" stop-color="#00ffc9"/></linearGradient><linearGradient id="ga83"><stop offset="0" stop-color="#0037ff"/><stop offset="0.125" stop-color="#0085ff"/><stop offset="0.25" stop-color="#00c5ff"/><stop offset="0.375" stop-color="#00f8ff"/><stop offset="0.3955" stop-color="#00ffff"/><stop offset="0.5" stop-color="#00ffe2"/><stop offset="0.625" stop-color="#00ffcb"/><stop offset="0.75" stop-color="#00ffc2"/><stop offset="0.875" stop-color="#00ffc5"/><stop offset="1" stop-color="#00ffd6"/></linearGradient><linearGradient id="ga84"><stop offset="0" stop-color="#002cff"/><stop offset="0.125" stop-color="#0079ff"/><stop offset="0.25" stop-color="#00b9ff"/><stop offset="0.375" stop-color="#00ecff"/><stop offset="0.4344" stop-color="#00ffff"/><stop offset="0.5" stop-color="#00ffee"/><stop offset="0.625" stop-color="#00ffd8"/><stop offset="0.75" stop-color="#00ffce"/><stop offset="0.875" stop-color="#00ffd2"/><stop offset="1" stop-color="#00ffe4"/></linearGradient><linearGradient id="ga85"><stop offset="0" stop-color="#0020ff"/><stop offset="0.125" stop-color="#006eff"/><stop offset="0.25" stop-color="#00adff"/><stop offset="0.375" stop-color="#00e0ff"/><stop offset="0.4793" stop-color="#00ffff"/><stop offset="0.5" stop-color="#00fffa"/><stop offset="0.625" stop-color="#00ffe4"/><stop offset="0.75" stop-color="#00ffdb"/><stop offset="0.875" stop-color="#00ffdf"/><stop offset="1" stop-color="#00fff1"/></linearGradient><linearGradient id="ga86"><stop offset="0" stop-color="#0015ff"/><stop offset="0.125" stop-color="#0062ff"/><stop offset="0.25" stop-color="#00a1ff"/><stop offset="0.375" stop-color="#00d3ff"/><stop offset="0.5" stop-color="#00f7ff"/><stop offset="0.5342" stop-color="#00ffff"/><stop offset="0.625" stop-color="#00fff0"/><stop offset="0.75" stop-color="#00ffe8"/><stop offset="0.875" stop-color="#00ffec"/><stop offset="1" stop-color="#00fffe"/></linearGradient><linearGradient id="ga87"><stop offset="0" stop-color="#0009ff"/><stop offset="0.125" stop-color="#0056ff"/><stop offset="0.25" stop-color="#0095ff"/><stop offset="0.375" stop-color="#00c7ff"/><stop offset="0.5" stop-color="#00ebff"/><stop offset="0.6095" stop-color="#00ffff"/><stop offset="0.625" stop-color="#00fffd"/><stop offset="0.75" stop-color="#00fff5"/><stop offset="0.875" stop-color="#00fffa"/><stop offset="0.9229" stop-color="#00ffff"/><stop offset="1" stop-color="#00f2ff"/></linearGradient><linearGradient id="ga88"><stop offset="0" stop-color="#0000ff"/><stop offset="0.0032" stop-color="#0000ff"/><stop offset="0.125" stop-color="#004aff"/><stop offset="0.25" stop-color="#0089ff"/><stop offset="0.375" stop-color="#00baff"/><stop offset="0.5" stop-color="#00deff"/><stop offset="0.625" stop-color="#00f4ff"/><stop offset="0.75" stop-color="#00fcff"/><stop offset="0.875" stop-color="#00f7ff"/><stop offset="1" stop-color="#00e4ff"/></linearGradient><linearGradient id="ga89"><stop offset="0" stop-color="#0000ff"/><stop offset="0.021" stop-color="#0000ff"/><stop offset="0.125" stop-color="#003eff"/><stop offset="0.25" stop-color="#007dff"/><stop offset="0.375" stop-color="#00aeff"/><stop offset="0.5" stop-color="#00d1ff"/><stop offset="0.625" stop-color="#00e7ff"/><stop offset="0.75" stop-color="#00efff"/><stop offset="0.875" stop-color="#00e9ff"/><stop offset="1" stop-color="#00d6ff"/></linearGradient><linearGradient id="ga90"><stop offset="0" stop-color="#0000ff"/><stop offset="0.0395" stop-color="#0000ff"/><stop offset="0.125" stop-color="#0032ff"/><stop offset="0.25" stop-color="#0071ff"/><stop offset="0.375" stop-color="#00a1ff"/><stop offset="0.5" stop-color="#00c4ff"/><stop offset="0.625" stop-color="#00daff"/><stop offset="0.75" stop-color="#00e1ff"/><stop offset="0.875" stop-color="#00dbff"/><stop offset="1" stop-color="#00c8ff"/></linearGradient><linearGradient id="ga91"><stop offset="0" stop-color="#0000ff"/><stop offset="0.0588" stop-color="#0000ff"/><stop offset="0.125" stop-color="#0026ff"/><stop offset="0.25" stop-color="#0064ff"/><stop offset="0.375" stop-color="#0095ff"/><stop offset="0.5" stop-color="#00b7ff"/><stop offset="0.625" stop-color="#00ccff"/><stop offset="0.75" stop-color="#00d4ff"/><stop offset="0.875" stop-color="#00cdff"/><stop offset="1" stop-color="#00b9ff"/></linearGradient><linearGradient id="ga92"><stop offset="0" stop-color="#0000ff"/><stop offset="0.0789" stop-color="#0000ff"/><stop offset="0.125" stop-color="#001aff"/><stop offset="0.25" stop-color="#0058ff"/><stop offset="0.375" stop-color="#0088ff"/><stop offset="0.5" stop-color="#00aaff"/><stop offset="0.625" stop-color="#00bfff"/><stop offset="0.75" stop-color="#00c6ff"/><stop offset="0.875" stop-color="#00bfff"/><stop offset="1" stop-color="#00abff"/></linearGradient><linearGradient id="ga93"><stop offset="0" stop-color="#0000ff"/><stop offset="0.1" stop-color="#0000ff"/><stop offset="0.125" stop-color="#000eff"/><stop offset="0.25" stop-color="#004bff"/><stop offset="0.375" stop-color="#007bff"/><stop offset="0.5" stop-color="#009dff"/><stop offset="0.625" stop-color="#00b1ff"/><stop offset="0.75" stop-color="#00b8ff"/><stop offset="0.875" stop-color="#00b1ff"/><stop offset="1" stop-color="#009dff"/></linearGradient><linearGradient id="ga94"><stop offset="0" stop-color="#0000ff"/><stop offset="0.1221" stop-color="#0000ff"/><stop offset="0.125" stop-color="#0002ff"/><stop offset="0.25" stop-color="#003fff"/><stop offset="0.375" stop-color="#006eff"/><stop offset="0.5" stop-color="#0090ff"/><stop offset="0.625" stop-color="#00a4ff"/><stop offset="0.75" stop-color="#00aaff"/><stop offset="0.875" stop-color="#00a3ff"/><stop offset="1" stop-color="#008eff"/></linearGradient><linearGradient id="ga95"><stop offset="0" stop-color="#0000ff"/><stop offset="0.125" stop-color="#0000ff"/><stop offset="0.1454" stop-color="#0000ff"/><stop offset="0.25" stop-color="#0032ff"/><stop offset="0.375" stop-color="#0061ff"/><stop offset="0.5" stop-color="#0082ff"/><stop offset="0.625" stop-color="#0096ff"/><stop offset="0.75" stop-color="#009cff"/><stop offset="0.875" stop-color="#0095ff"/><stop offset="1" stop-color="#0080ff"/></linearGradient><linearGradient id="ga96"><stop offset="0" stop-color="#0000ff"/><stop offset="0.125" stop-color="#0000ff"/><stop offset="0.16" stop-color="#0000ff"/><stop offset="0.25" stop-color="#002aff"/><stop offset="0.375" stop-color="#0059ff"/><stop offset="0.5" stop-color="#007aff"/><stop offset="0.625" stop-color="#008eff"/><stop offset="0.75" stop-color="#0094ff"/><stop offset="0.875" stop-color="#008cff"/><stop offset="1" stop-color="#0077ff"/></linearGradient><linearGradient id="gc97"><stop offset="0" stop-color="#ff2600"/><stop offset="0.125" stop-color="#ff2100"/><stop offset="0.25" stop-color="#ff1f00"/><stop offset="0.375" stop-color="#ff2100"/><stop offset="0.5" stop-color="#ff2500"/><stop offset="0.625" stop-color="#ff2d00"/><stop offset="0.75" stop-color="#ff3700"/><stop offset="0.875" stop-color="#ff4500"/><stop offset="1" stop-color="#ff5600"/></linearGradient><linearGradient id="gc98"><stop offset="0" stop-color="#ff2c00"/><stop offset="0.125" stop-color="#ff2700"/><stop offset="0.25" stop-color="#ff2500"/><stop offset="0.375" stop-color="#ff2600"/><stop offset="0.5" stop-color="#ff2b00"/><stop offset="0.625" stop-color="#ff3200"/><stop offset="0.75" stop-color="#ff3d00"/><stop offset="0.875" stop-color="#ff4b00"/><stop offset="1" stop-color="#ff5c00"/></linearGradient><linearGradient id="gc99"><stop offset="0" stop-color="#ff3300"/><stop offset="0.125" stop-color="#ff2d00"/><stop offset="0.25" stop-color="#ff2b00"/><stop offset="0.375" stop-color="#ff2c00"/><stop offset="0.5" stop-color="#ff3000"/><stop offset="0.625" stop-color="#ff3800"/><stop offset="0.75" stop-color="#ff4200"/><stop offset="0.875" stop-color="#ff5000"/><stop offset="1" stop-color="#ff6100"/></linearGradient><linearGradient id="gc100"><stop offset="0" stop-color="#ff3900"/><stop offset="0.125" stop-color="#ff3300"/><stop offset="0.25" stop-color="#ff3100"/><stop offset="0.375" stop-color="#ff3200"/><stop offset="0.5" stop-color="#ff3600"/><stop offset="0.625" stop-color="#ff3e00"/><stop offset="0.75" stop-color="#ff4800"/><stop offset="0.875" stop-color="#ff5600"/><stop offset="1" stop-color="#ff6700"/></linearGradient><linearGradient id="gc101"><stop offset="0" stop-color="#ff3f00"/><stop offset="0.125" stop-color="#ff3a00"/><stop offset="0.25" stop-color="#ff3700"/><stop offset="0.375" stop-color="#ff3800"/><stop offset="0.5" stop-color="#ff3c00"/><stop offset="0.625" stop-color="#ff4300"/><stop offset="0.75" stop-color="#ff4e00"/><stop offset="0.875" stop-color="#ff5b00"/><stop offset="1" stop-color="#ff6c00"/></linearGradient><linearGradient id="gc102"><stop offset="0" stop-color="#ff4600"/><stop offset="0.125" stop-color="#ff4000"/><stop offset="0.25" stop-color="#ff3e00"/><stop offset="0.375" stop-color="#ff3e00"/><stop offset="0.5" stop-color="#ff4200"/><stop offset="0.625" stop-color="#ff4900"/><stop offset="0.75" stop-color="#ff5400"/><stop offset="0.875" stop-color="#ff6100"/><stop offset="1" stop-color="#ff7200"/></linearGradient><linearGradient id="gc103"><stop offset="0" stop-color="#ff4c00"/><stop offset="0.125" stop-color="#ff4600"/><stop offset="0.25" stop-color="#ff4400"/><stop offset="0.375" stop-color="#ff4400"/><stop offset="0.5" stop-color="#ff4800"/><stop offset="0.625" stop-color="#ff4f00"/><stop offset="0.75" stop-color="#ff5a00"/><stop offset="0.875" stop-color="#ff6700"/><stop offset="1" stop-color="#ff7800"/></linearGradient><linearGradient id="gc104"><stop offset="0" stop-color="#ff5300"/><stop offset="0.125" stop-color="#ff4d00"/><stop offset="0.25" stop-color="#ff4a00"/><stop offset="0.375" stop-color="#ff4b00"/><stop offset="0.5" stop-color="#ff4f00"/><stop offset="0.625" stop-color="#ff5500"/><stop offset="0.75" stop-color="#ff6000"/><stop offset="0.875" stop-color="#ff6d00"/><stop offset="1" stop-color="#ff7d00"/></linearGradient><linearGradient id="gc105"><stop offset="0" stop-color="#ff5900"/><stop offset="0.125" stop-color="#ff5300"/><stop offset="0.25" stop-color="#ff5100"/><stop offset="0.375" stop-color="#ff5100"/><stop offset="0.5" stop-color="#ff5500"/><stop offset="0.625" stop-color="#ff5c00"/><stop offset="0.75" stop-color="#ff6600"/><stop offset="0.875" stop-color="#ff7300"/><stop offset="1" stop-color="#ff8300"/></linearGradient><linearGradient id="gc106"><stop offset="0" stop-color="#ff6000"/><stop offset="0.125" stop-color="#ff5a00"/><stop offset="0.25" stop-color="#ff5700"/><stop offset="0.375" stop-color="#ff5800"/><stop offset="0.5" stop-color="#ff5b00"/><stop offset="0.625" stop-color="#ff6200"/><stop offset="0.75" stop-color="#ff6c00"/><stop offset="0.875" stop-color="#ff7900"/><stop offset="1" stop-color="#ff8900"/></linearGradient><linearGradient id="gc107"><stop offset="0" stop-color="#ff6700"/><stop offset="0.125" stop-color="#ff6100"/><stop offset="0.25" stop-color="#ff5e00"/><stop offset="0.375" stop-color="#ff5e00"/><stop offset="0.5" stop-color="#ff6200"/><stop offset="0.625" stop-color="#ff6800"/><stop offset="0.75" stop-color="#ff7200"/><stop offset="0.875" stop-color="#ff7f00"/><stop offset="1" stop-color="#ff8f00"/></linearGradient><linearGradient id="gc108"><stop offset="0" stop-color="#ff6e00"/><stop offset="0.125" stop-color="#ff6800"/><stop offset="0.25" stop-color="#ff6500"/><stop offset="0.375" stop-color="#ff6500"/><stop offset="0.5" stop-color="#ff6800"/><stop offset="0.625" stop-color="#ff6f00"/><stop offset="0.75" stop-color="#ff7800"/><stop offset="0.875" stop-color="#ff8500"/><stop offset="1" stop-color="#ff9500"/></linearGradient><linearGradient id="gc109"><stop offset="0" stop-color="#ff7500"/><stop offset="0.125" stop-color="#ff6e00"/><stop offset="0.25" stop-color="#ff6b00"/><stop offset="0.375" stop-color="#ff6b00"/><stop offset="0.5" stop-color="#ff6f00"/><stop offset="0.625" stop-color="#ff7500"/><stop offset="0.75" stop-color="#ff7f00"/><stop offset="0.875" stop-color="#ff8c00"/><stop offset="1" stop-color="#ff9c00"/></linearGradient><linearGradient id="gc110"><stop offset="0" stop-color="#ff7c00"/><stop offset="0.125" stop-color="#ff7500"/><stop offset="0.25" stop-color="#ff7200"/><stop offset="0.375" stop-color="#ff7200"/><stop offset="0.5" stop-color="#ff7500"/><stop offset="0.625" stop-color="#ff7c00"/><stop offset="0.75" stop-color="#ff8500"/><stop offset="0.875" stop-color="#ff9200"/><stop offset="1" stop-color="#ffa200"/></linearGradient><linearGradient id="gc111"><stop offset="0" stop-color="#ff8300"/><stop offset="0.125" stop-color="#ff7c00"/><stop offset="0.25" stop-color="#ff7900"/><stop offset="0.375" stop-color="#ff7900"/><stop offset="0.5" stop-color="#ff7c00"/><stop offset="0.625" stop-color="#ff8200"/><stop offset="0.75" stop-color="#ff8c00"/><stop offset="0.875" stop-color="#ff9900"/><stop offset="1" stop-color="#ffa800"/></linearGradient><linearGradient id="gc112"><stop offset="0" stop-color="#ff8a00"/><stop offset="0.125" stop-color="#ff8400"/><stop offset="0.25" stop-color="#ff8000"/><stop offset="0.375" stop-color="#ff8000"/><stop offset="0.5" stop-color="#ff8300"/><stop offset="0.625" stop-color="#ff8900"/><stop offset="0.75" stop-color="#ff9300"/><stop offset="0.875" stop-color="#ff9f00"/><stop offset="1" stop-color="#ffaf00"/></linearGradient><linearGradient id="gc113"><stop offset="0" stop-color="#ff9200"/><stop offset="0.125" stop-color="#ff8b00"/><stop offset="0.25" stop-color="#ff8700"/><stop offset="0.375" stop-color="#ff8700"/><stop offset="0.5" stop-color="#ff8a00"/><stop offset="0.625" stop-color="#ff9000"/><stop offset="0.75" stop-color="#ff9900"/><stop offset="0.875" stop-color="#ffa600"/><stop offset="1" stop-color="#ffb500"/></linearGradient><linearGradient id="gc114"><stop offset="0" stop-color="#ff9900"/><stop offset="0.125" stop-color="#ff9200"/><stop offset="0.25" stop-color="#ff8f00"/><stop offset="0.375" stop-color="#ff8e00"/><stop offset="0.5" stop-color="#ff9100"/><stop offset="0.625" stop-color="#ff9700"/><stop offset="0.75" stop-color="#ffa000"/><stop offset="0.875" stop-color="#ffac00"/><stop offset="1" stop-color="#ffbc00"/></linearGradient><linearGradient id="gc115"><stop offset="0" stop-color="#ffa000"/><stop offset="0.125" stop-color="#ff9a00"/><stop offset="0.25" stop-color="#ff9600"/><stop offset="0.375" stop-color="#ff9500"/><stop offset="0.5" stop-color="#ff9800"/><stop offset="0.625" stop-color="#ff9e00"/><stop offset="0.75" stop-color="#ffa700"/><stop offset="0.875" stop-color="#ffb300"/><stop offset="1" stop-color="#ffc300"/></linearGradient><linearGradient id="gc116"><stop offset="0" stop-color="#ffa800"/><stop offset="0.125" stop-color="#ffa100"/><stop offset="0.25" stop-color="#ff9d00"/><stop offset="0.375" stop-color="#ff9d00"/><stop offset="0.5" stop-color="#ff9f00"/><stop offset="0.625" stop-color="#ffa500"/><stop offset="0.75" stop-color="#ffae00"/><stop offset="0.875" stop-color="#ffba00"/><stop offset="1" stop-color="#ffca00"/></linearGradient><linearGradient id="gc117"><stop offset="0" stop-color="#ffb000"/><stop offset="0.125" stop-color="#ffa900"/><stop offset="0.25" stop-color="#ffa500"/><stop offset="0.375" stop-color="#ffa400"/><stop offset="0.5" stop-color="#ffa700"/><stop offset="0.625" stop-color="#ffac00"/><stop offset="0.75" stop-color="#ffb500"/><stop offset="0.875" stop-color="#ffc100"/><stop offset="1" stop-color="#ffd000"/></linearGradient><linearGradient id="gc118"><stop offset="0" stop-color="#ffb700"/><stop offset="0.125" stop-color="#ffb000"/><stop offset="0.25" stop-color="#ffac00"/><stop offset="0.375" stop-color="#ffac00"/><stop offset="0.5" stop-color="#ffae00"/><stop offset="0.625" stop-color="#ffb400"/><stop offset="0.75" stop-color="#ffbc00"/><stop offset="0.875" stop-color="#ffc800"/><stop offset="1" stop-color="#ffd700"/></linearGradient><linearGradient id="gc119"><stop offset="0" stop-color="#ffbf00"/><stop offset="0.125" stop-color="#ffb800"/><stop offset="0.25" stop-color="#ffb400"/><stop offset="0.375" stop-color="#ffb300"/><stop offset="0.5" stop-color="#ffb500"/><stop offset="0.625" stop-color="#ffbb00"/><stop offset="0.75" stop-color="#ffc400"/><stop offset="0.875" stop-color="#ffcf00"/><stop offset="1" stop-color="#ffdf00"/></linearGradient><linearGradient id="gc120"><stop offset="0" stop-color="#ffc700"/><stop offset="0.125" stop-color="#ffc000"/><stop offset="0.25" stop-color="#ffbc00"/><stop offset="0.375" stop-color="#ffbb00"/><stop offset="0.5" stop-color="#ffbd00"/><stop offset="0.625" stop-color="#ffc200"/><stop offset="0.75" stop-color="#ffcb00"/><stop offset="0.875" stop-color="#ffd700"/><stop offset="1" stop-color="#ffe600"/></linearGradient><linearGradient id="gc121"><stop offset="0" stop-color="#ffcf00"/><stop offset="0.125" stop-color="#ffc800"/><stop offset="0.25" stop-color="#ffc400"/><stop offset="0.375" stop-color="#ffc200"/><stop offset="0.5" stop-color="#ffc500"/><stop offset="0.625" stop-color="#ffca00"/><stop offset="0.75" stop-color="#ffd200"/><stop offset="0.875" stop-color="#ffde00"/><stop offset="1" stop-color="#ffed00"/></linearGradient><linearGradient id="gc122"><stop offset="0" stop-color="#ffd700"/><stop offset="0.125" stop-color="#ffd000"/><stop offset="0.25" stop-color="#ffcb00"/><stop offset="0.375" stop-color="#ffca00"/><stop offset="0.5" stop-color="#ffcc00"/><stop offset="0.625" stop-color="#ffd200"/><stop offset="0.75" stop-color="#ffda00"/><stop offset="0.875" stop-color="#ffe500"/><stop offset="1" stop-color="#fff400"/></linearGradient><linearGradient id="gc123"><stop offset="0" stop-color="#ffdf00"/><stop offset="0.125" stop-color="#ffd800"/><stop offset="0.25" stop-color="#ffd300"/><stop offset="0.375" stop-color="#ffd200"/><stop offset="0.5" stop-color="#ffd400"/><stop offset="0.625" stop-color="#ffd900"/><stop offset="0.75" stop-color="#ffe200"/><stop offset="0.875" stop-color="#ffed00"/><stop offset="1" stop-color="#fffc00"/></linearGradient><linearGradient id="gc124"><stop offset="0" stop-color="#ffe800"/><stop offset="0.125" stop-color="#ffe000"/><stop offset="0.25" stop-color="#ffdb00"/><stop offset="0.375" stop-color="#ffda00"/><stop offset="0.5" stop-color="#ffdc00"/><stop offset="0.625" stop-color="#ffe100"/><stop offset="0.75" stop-color="#ffe900"/><stop offset="0.875" stop-color="#fff500"/><stop offset="0.9671" stop-color="#ffff00"/><stop offset="1" stop-color="#fbff00"/></linearGradient><linearGradient id="gc125"><stop offset="0" stop-color="#fff000"/><stop offset="0.125" stop-color="#ffe800"/><stop offset="0.25" stop-color="#ffe400"/><stop offset="0.375" stop-color="#ffe200"/><stop offset="0.5" stop-color="#ffe400"/><stop offset="0.625" stop-color="#ffe900"/><stop offset="0.75" stop-color="#fff100"/><stop offset="0.875" stop-color="#fffc00"/><stop offset="0.9011" stop-color="#ffff00"/><stop offset="1" stop-color="#f5ff00"/></linearGradient><linearGradient id="gc126"><stop offset="0" stop-color="#fff800"/><stop offset="0.125" stop-color="#fff100"/><stop offset="0.25" stop-color="#ffec00"/><stop offset="0.375" stop-color="#ffea00"/><stop offset="0.5" stop-color="#ffec00"/><stop offset="0.625" stop-color="#fff100"/><stop offset="0.75" stop-color="#fff900"/><stop offset="0.8234" stop-color="#ffff00"/><stop offset="0.875" stop-color="#fbff00"/><stop offset="1" stop-color="#eeff00"/></linearGradient><linearGradient id="gc127"><stop offset="0" stop-color="#fdff00"/><stop offset="0.0268" stop-color="#ffff00"/><stop offset="0.125" stop-color="#fff900"/><stop offset="0.25" stop-color="#fff400"/><stop offset="0.375" stop-color="#fff300"/><stop offset="0.5" stop-color="#fff400"/><stop offset="0.625" stop-color="#fff900"/><stop offset="0.7263" stop-color="#ffff00"/><stop offset="0.75" stop-color="#fdff00"/><stop offset="0.875" stop-color="#f4ff00"/><stop offset="1" stop-color="#e7ff00"/></linearGradient><linearGradient id="gc128"><stop offset="0" stop-color="#f6ff00"/><stop offset="0.125" stop-color="#fdff00"/><stop offset="0.1784" stop-color="#ffff00"/><stop offset="0.25" stop-color="#fffd00"/><stop offset="0.375" stop-color="#fffb00"/><stop offset="0.5" stop-color="#fffc00"/><stop offset="0.5821" stop-color="#ffff00"/><stop offset="0.625" stop-color="#fdff00"/><stop offset="0.75" stop-color="#f6ff00"/><stop offset="0.875" stop-color="#edff00"/><stop offset="1" stop-color="#e0ff00"/></linearGradient><linearGradient id="gc129"><stop offset="0" stop-color="#eeff00"/><stop offset="0.125" stop-color="#f5ff00"/><stop offset="0.25" stop-color="#faff00"/><stop offset="0.375" stop-color="#fbff00"/><stop offset="0.5" stop-color="#faff00"/><stop offset="0.625" stop-color="#f6ff00"/><stop offset="0.75" stop-color="#efff00"/><stop offset="0.875" stop-color="#e6ff00"/><stop offset="1" stop-color="#d9ff00"/></linearGradient><linearGradient id="gc130"><stop offset="0" stop-color="#e6ff00"/><stop offset="0.125" stop-color="#eeff00"/><stop offset="0.25" stop-color="#f2ff00"/><stop offset="0.375" stop-color="#f4ff00"/><stop offset="0.5" stop-color="#f3ff00"/><stop offset="0.625" stop-color="#efff00"/><stop offset="0.75" stop-color="#e8ff00"/><stop offset="0.875" stop-color="#deff00"/><stop offset="1" stop-color="#d2ff00"/></linearGradient><linearGradient id="gc131"><stop offset="0" stop-color="#deff00"/><stop offset="0.125" stop-color="#e6ff00"/><stop offset="0.25" stop-color="#eaff00"/><stop offset="0.375" stop-color="#ecff00"/><stop offset="0.5" stop-color="#ebff00"/><stop offset="0.625" stop-color="#e7ff00"/><stop offset="0.75" stop-color="#e1ff00"/><stop offset="0.875" stop-color="#d7ff00"/><stop offset="1" stop-color="#cbff00"/></linearGradient><linearGradient id="gc132"><stop offset="0" stop-color="#d7ff00"/><stop offset="0.125" stop-color="#deff00"/><stop offset="0.25" stop-color="#e3ff00"/><stop offset="0.375" stop-color="#e5ff00"/><stop offset="0.5" stop-color="#e4ff00"/><stop offset="0.625" stop-color="#e0ff00"/><stop offset="0.75" stop-color="#d9ff00"/><stop offset="0.875" stop-color="#d0ff00"/><stop offset="1" stop-color="#c4ff00"/></linearGradient><linearGradient id="gc133"><stop offset="0" stop-color="#cfff00"/><stop offset="0.125" stop-color="#d6ff00"/><stop offset="0.25" stop-color="#dbff00"/><stop offset="0.375" stop-color="#ddff00"/><stop offset="0.5" stop-color="#dcff00"/><stop offset="0.625" stop-color="#d8ff00"/><stop offset="0.75" stop-color="#d2ff00"/><stop offset="0.875" stop-color="#c9ff00"/><stop offset="1" stop-color="#bcff00"/></linearGradient><linearGradient id="gc134"><stop offset="0" stop-color="#c7ff00"/><stop offset="0.125" stop-color="#ceff00"/><stop offset="0.25" stop-color="#d3ff00"/><stop offset="0.375" stop-color="#d5ff00"/><stop offset="0.5" stop-color="#d4ff00"/><stop offset="0.625" stop-color="#d1ff00"/><stop offset="0.75" stop-color="#caff00"/><stop offset="0.875" stop-color="#c1ff00"/><stop offset="1" stop-color="#b5ff00"/></linearGradient><linearGradient id="gc135"><stop offset="0" stop-color="#bfff00"/><stop offset="0.125" stop-color="#c6ff00"/><stop offset="0.25" stop-color="#cbff00"/><stop offset="0.375" stop-color="#cdff00"/><stop offset="0.5" stop-color="#cdff00"/><stop offset="0.625" stop-color="#c9ff00"/><stop offset="0.75" stop-color="#c3ff00"/><stop offset="0.875" stop-color="#baff00"/><stop offset="1" stop-color="#aeff00"/></linearGradient><linearGradient id="gc136"><stop offset="0" stop-color="#b6ff00"/><stop offset="0.125" stop-color="#beff00"/><stop offset="0.25" stop-color="#c3ff00"/><stop offset="0.375" stop-color="#c5ff00"/><stop offset="0.5" stop-color="#c5ff00"/><stop offset="0.625" stop-color="#c1ff00"/><stop offset="0.75" stop-color="#bbff00"/><stop offset="0.875" stop-color="#b2ff00"/><stop offset="1" stop-color="#a6ff00"/></linearGradient><linearGradient id="gc137"><stop offset="0" stop-color="#aeff00"/><stop offset="0.125" stop-color="#b6ff00"/><stop offset="0.25" stop-color="#bbff00"/><stop offset="0.375" stop-color="#bdff00"/><stop offset="0.5" stop-color="#bdff00"/><stop offset="0.625" stop-color="#b9ff00"/><stop offset="0.75" stop-color="#b3ff00"/><stop offset="0.875" stop-color="#aaff00"/><stop offset="1" stop-color="#9fff00"/></linearGradient><linearGradient id="gc138"><stop offset="0" stop-color="#a6ff00"/><stop offset="0.125" stop-color="#aeff00"/><stop offset="0.25" stop-color="#b3ff00"/><stop offset="0.375" stop-color="#b5ff00"/><stop offset="0.5" stop-color="#b5ff00"/><stop offset="0.625" stop-color="#b2ff00"/><stop offset="0.75" stop-color="#acff00"/><stop offset="0.875" stop-color="#a3ff00"/><stop offset="1" stop-color="#97ff00"/></linearGradient><linearGradient id="gc139"><stop offset="0" stop-color="#9dff00"/><stop offset="0.125" stop-color="#a5ff00"/><stop offset="0.25" stop-color="#abff00"/><stop offset="0.375" stop-color="#adff00"/><stop offset="0.5" stop-color="#adff00"/><stop offset="0.625" stop-color="#aaff00"/><stop offset="0.75" stop-color="#a4ff00"/><stop offset="0.875" stop-color="#9bff00"/><stop offset="1" stop-color="#8fff00"/></linearGradient><linearGradient id="gc140"><stop offset="0" stop-color="#95ff00"/><stop offset="0.125" stop-color="#9dff00"/><stop offset="0.25" stop-color="#a2ff00"/><stop offset="0.375" stop-color="#a5ff00"/><stop offset="0.5" stop-color="#a5ff00"/><stop offset="0.625" stop-color="#a2ff00"/><stop offset="0.75" stop-color="#9cff00"/><stop offset="0.875" stop-color="#93ff00"/><stop offset="1" stop-color="#87ff00"/></linearGradient><linearGradient id="gc141"><stop offset="0" stop-color="#8cff00"/><stop offset="0.125" stop-color="#95ff00"/><stop offset="0.25" stop-color="#9aff00"/><stop offset="0.375" stop-color="#9dff00"/><stop offset="0.5" stop-color="#9cff00"/><stop offset="0.625" stop-color="#99ff00"/><stop offset="0.75" stop-color="#94ff00"/><stop offset="0.875" stop-color="#8bff00"/><stop offset="1" stop-color="#80ff00"/></linearGradient><linearGradient id="gc142"><stop offset="0" stop-color="#84ff00"/><stop offset="0.125" stop-color="#8cff00"/><stop offset="0.25" stop-color="#92ff00"/><stop offset="0.375" stop-color="#94ff00"/><stop offset="0.5" stop-color="#94ff00"/><stop offset="0.625" stop-color="#91ff00"/><stop offset="0.75" stop-color="#8bff00"/><stop offset="0.875" stop-color="#83ff00"/><stop offset="1" stop-color="#78ff00"/></linearGradient><linearGradient id="gc143"><stop offset="0" stop-color="#7bff00"/><stop offset="0.125" stop-color="#83ff00"/><stop offset="0.25" stop-color="#89ff00"/><stop offset="0.375" stop-color="#8cff00"/><stop offset="0.5" stop-color="#8cff00"/><stop offset="0.625" stop-color="#89ff00"/><stop offset="0.75" stop-color="#83ff00"/><stop offset="0.875" stop-color="#7bff00"/><stop offset="1" stop-color="#70ff00"/></linearGradient><linearGradient id="gc144"><stop offset="0" stop-color="#72ff00"/><stop offset="0.125" stop-color="#7bff00"/><stop offset="0.25" stop-color="#80ff00"/><stop offset="0.375" stop-color="#83ff00"/><stop offset="0.5" stop-color="#83ff00"/><stop offset="0.625" stop-color="#81ff00"/><stop offset="0.75" stop-color="#7bff00"/><stop offset="0.875" stop-color="#73ff00"/><stop offset="1" stop-color="#67ff00"/></linearGradient><linearGradient id="gc145"><stop offset="0" stop-color="#69ff00"/><stop offset="0.125" stop-color="#72ff00"/><stop offset="0.25" stop-color="#78ff00"/><stop offset="0.375" stop-color="#7bff00"/><stop offset="0.5" stop-color="#7bff00"/><stop offset="0.625" stop-color="#78ff00"/><stop offset="0.75" stop-color="#73ff00"/><stop offset="0.875" stop-color="#6aff00"/><stop offset="1" stop-color="#5fff00"/></linearGradient><linearGradient id="gc146"><stop offset="0" stop-color="#60ff00"/><stop offset="0.125" stop-color="#69ff00"/><stop offset="0.25" stop-color="#6fff00"/><stop offset="0.375" stop-color="#72ff00"/><stop offset="0.5" stop-color="#72ff00"/><stop offset="0.625" stop-color="#70ff00"/><stop offset="0.75" stop-color="#6aff00"/><stop offset="0.875" stop-color="#62ff00"/><stop offset="1" stop-color="#57ff00"/></linearGradient><linearGradient id="gc147"><stop offset="0" stop-color="#57ff00"/><stop offset="0.125" stop-color="#60ff00"/><stop offset="0.25" stop-color="#66ff00"/><stop offset="0.375" stop-color="#69ff00"/><stop offset="0.5" stop-color="#6aff00"/><stop offset="0.625" stop-color="#67ff00"/><stop offset="0.75" stop-color="#62ff00"/><stop offset="0.875" stop-color="#5aff00"/><stop offset="1" stop-color="#4fff00"/></linearGradient><linearGradient id="gc148"><stop offset="0" stop-color="#4eff00"/><stop offset="0.125" stop-color="#57ff00"/><stop offset="0.25" stop-color="#5dff00"/><stop offset="0.375" stop-color="#60ff00"/><stop offset="0.5" stop-color="#61ff00"/><stop offset="0.625" stop-color="#5eff00"/><stop offset="0.75" stop-color="#59ff00"/><stop offset="0.875" stop-color="#51ff00"/><stop offset="1" stop-color="#46ff00"/></linearGradient><linearGradient id="gc149"><stop offset="0" stop-color="#45ff00"/><stop offset="0.125" stop-color="#4eff00"/><stop offset="0.25" stop-color="#54ff00"/><stop offset="0.375" stop-color="#58ff00"/><stop offset="0.5" stop-color="#58ff00"/><stop offset="0.625" stop-color="#56ff00"/><stop offset="0.75" stop-color="#51ff00"/><stop offset="0.875" stop-color="#49ff00"/><stop offset="1" stop-color="#3eff00"/></linearGradient><linearGradient id="gc150"><stop offset="0" stop-color="#3cff00"/><stop offset="0.125" stop-color="#45ff00"/><stop offset="0.25" stop-color="#4bff00"/><stop offset="0.375" stop-color="#4fff00"/><stop offset="0.5" stop-color="#4fff00"/><stop offset="0.625" stop-color="#4dff00"/><stop offset="0.75" stop-color="#48ff00"/><stop offset="0.875" stop-color="#40ff00"/><stop offset="1" stop-color="#35ff00"/></linearGradient><linearGradient id="gc151"><stop offset="0" stop-color="#33ff00"/><stop offset="0.125" stop-color="#3cff00"/><stop offset="0.25" stop-color="#42ff00"/><stop offset="0.375" stop-color="#45ff00"/><stop offset="0.5" stop-color="#46ff00"/><stop offset="0.625" stop-color="#44ff00"/><stop offset="0.75" stop-color="#3fff00"/><stop offset="0.875" stop-color="#37ff00"/><stop offset="1" stop-color="#2dff00"/></linearGradient><linearGradient id="gc152"><stop offset="0" stop-color="#29ff00"/><stop offset="0.125" stop-color="#32ff00"/><stop offset="0.25" stop-color="#39ff00"/><stop offset="0.375" stop-color="#3cff00"/><stop offset="0.5" stop-color="#3dff00"/><stop offset="0.625" stop-color="#3bff00"/><stop offset="0.75" stop-color="#36ff00"/><stop offset="0.875" stop-color="#2eff00"/><stop offset="1" stop-color="#24ff00"/></linearGradient><linearGradient id="gc153"><stop offset="0" stop-color="#20ff00"/><stop offset="0.125" stop-color="#29ff00"/><stop offset="0.25" stop-color="#30ff00"/><stop offset="0.375" stop-color="#33ff00"/><stop offset="0.5" stop-color="#34ff00"/><stop offset="0.625" stop-color="#32ff00"/><stop offset="0.75" stop-color="#2dff00"/><stop offset="0.875" stop-color="#26ff00"/><stop offset="1" stop-color="#1bff00"/></linearGradient><linearGradient id="gc154"><stop offset="0" stop-color="#16ff00"/><stop offset="0.125" stop-color="#20ff00"/><stop offset="0.25" stop-color="#26ff00"/><stop offset="0.375" stop-color="#2aff00"/><stop offset="0.5" stop-color="#2bff00"/><stop offset="0.625" stop-color="#29ff00"/><stop offset="0.75" stop-color="#24ff00"/><stop offset="0.875" stop-color="#1dff00"/><stop offset="1" stop-color="#12ff00"/></linearGradient><linearGradient id="gc155"><stop offset="0" stop-color="#0dff00"/><stop offset="0.125" stop-color="#16ff00"/><stop offset="0.25" stop-color="#1dff00"/><stop offset="0.375" stop-color="#21ff00"/><stop offset="0.5" stop-color="#22ff00"/><stop offset="0.625" stop-color="#20ff00"/><stop offset="0.75" stop-color="#1bff00"/><stop offset="0.875" stop-color="#14ff00"/><stop offset="1" stop-color="#09ff00"/></linearGradient><linearGradient id="gc156"><stop offset="0" stop-color="#03ff00"/><stop offset="0.125" stop-color="#0dff00"/><stop offset="0.25" stop-color="#13ff00"/><stop offset="0.375" stop-color="#17ff00"/><stop offset="0.5" stop-color="#18ff00"/><stop offset="0.625" stop-color="#16ff00"/><stop offset="0.75" stop-color="#12ff00"/><stop offset="0.875" stop-color="#0bff00"/><stop offset="1" stop-color="#00ff00"/></linearGradient><linearGradient id="gc157"><stop offset="0" stop-color="#00ff07"/><stop offset="0.0828" stop-color="#00ff00"/><stop offset="0.125" stop-color="#03ff00"/><stop offset="0.25" stop-color="#0aff00"/><stop offset="0.375" stop-color="#0eff00"/><stop offset="0.5" stop-color="#0fff00"/><stop offset="0.625" stop-color="#0dff00"/><stop offset="0.75" stop-color="#09ff00"/><stop offset="0.875" stop-color="#01ff00"/><stop offset="0.8954" stop-color="#00ff00"/><stop offset="1" stop-color="#00ff09"/></linearGradient><linearGradient id="gc158"><stop offset="0" stop-color="#00ff12"/><stop offset="0.125" stop-color="#00ff07"/><stop offset="0.249" stop-color="#00ff00"/><stop offset="0.25" stop-color="#00ff00"/><stop offset="0.375" stop-color="#04ff00"/><stop offset="0.5" stop-color="#05ff00"/><stop offset="0.625" stop-color="#04ff00"/><stop offset="0.7367" stop-color="#00ff00"/><stop offset="0.75" stop-color="#00ff01"/><stop offset="0.875" stop-color="#00ff09"/><stop offset="1" stop-color="#00ff13"/></linearGradient><linearGradient id="gc159"><stop offset="0" stop-color="#00ff1d"/><stop offset="0.125" stop-color="#00ff12"/><stop offset="0.25" stop-color="#00ff0b"/><stop offset="0.375" stop-color="#00ff06"/><stop offset="0.5" stop-color="#00ff05"/><stop offset="0.625" stop-color="#00ff06"/><stop offset="0.75" stop-color="#00ff0b"/><stop offset="0.875" stop-color="#00ff13"/><stop offset="1" stop-color="#00ff1e"/></linearGradient><linearGradient id="gc160"><stop offset="0" stop-color="#00ff28"/><stop offset="0.125" stop-color="#00ff1d"/><stop offset="0.25" stop-color="#00ff15"/><stop offset="0.375" stop-color="#00ff11"/><stop offset="0.5" stop-color="#00ff0f"/><stop offset="0.625" stop-color="#00ff11"/><stop offset="0.75" stop-color="#00ff15"/><stop offset="0.875" stop-color="#00ff1d"/><stop offset="1" stop-color="#00ff28"/></linearGradient><linearGradient id="gc161"><stop offset="0" stop-color="#00ff33"/><stop offset="0.125" stop-color="#00ff28"/><stop offset="0.25" stop-color="#00ff20"/><stop offset="0.375" stop-color="#00ff1b"/><stop offset="0.5" stop-color="#00ff1a"/><stop offset="0.625" stop-color="#00ff1b"/><stop offset="0.75" stop-color="#00ff20"/><stop offset="0.875" stop-color="#00ff27"/><stop offset="1" stop-color="#00ff32"/></linearGradient><linearGradient id="gc162"><stop offset="0" stop-color="#00ff3e"/><stop offset="0.125" stop-color="#00ff33"/><stop offset="0.25" stop-color="#00ff2b"/><stop offset="0.375" stop-color="#00ff26"/><stop offset="0.5" stop-color="#00ff25"/><stop offset="0.625" stop-color="#00ff26"/><stop offset="0.75" stop-color="#00ff2a"/><stop offset="0.875" stop-color="#00ff32"/><stop offset="1" stop-color="#00ff3c"/></linearGradient><linearGradient id="gc163"><stop offset="0" stop-color="#00ff49"/><stop offset="0.125" stop-color="#00ff3e"/><stop offset="0.25" stop-color="#00ff36"/><stop offset="0.375" stop-color="#00ff31"/><stop offset="0.5" stop-color="#00ff2f"/><stop offset="0.625" stop-color="#00ff31"/><stop offset="0.75" stop-color="#00ff35"/><stop offset="0.875" stop-color="#00ff3c"/><stop offset="1" stop-color="#00ff47"/></linearGradient><linearGradient id="gc164"><stop offset="0" stop-color="#00ff54"/><stop offset="0.125" stop-color="#00ff49"/><stop offset="0.25" stop-color="#00ff41"/><stop offset="0.375" stop-color="#00ff3c"/><stop offset="0.5" stop-color="#00ff3a"/><stop offset="0.625" stop-color="#00ff3b"/><stop offset="0.75" stop-color="#00ff40"/><stop offset="0.875" stop-color="#00ff47"/><stop offset="1" stop-color="#00ff51"/></linearGradient><linearGradient id="gc165"><stop offset="0" stop-color="#00ff60"/><stop offset="0.125" stop-color="#00ff54"/><stop offset="0.25" stop-color="#00ff4c"/><stop offset="0.375" stop-color="#00ff47"/><stop offset="0.5" stop-color="#00ff45"/><stop offset="0.625" stop-color="#00ff46"/><stop offset="0.75" stop-color="#00ff4a"/><stop offset="0.875" stop-color="#00ff52"/><stop offset="1" stop-color="#00ff5c"/></linearGradient><linearGradient id="gc166"><stop offset="0" stop-color="#00ff6b"/><stop offset="0.125" stop-color="#00ff60"/><stop offset="0.25" stop-color="#00ff58"/><stop offset="0.375" stop-color="#00ff52"/><stop offset="0.5" stop-color="#00ff50"/><stop offset="0.625" stop-color="#00ff51"/><stop offset="0.75" stop-color="#00ff55"/><stop offset="0.875" stop-color="#00ff5c"/><stop offset="1" stop-color="#00ff67"/></linearGradient><linearGradient id="gc167"><stop offset="0" stop-color="#00ff77"/><stop offset="0.125" stop-color="#00ff6b"/><stop offset="0.25" stop-color="#00ff63"/><stop offset="0.375" stop-color="#00ff5e"/><stop offset="0.5" stop-color="#00ff5b"/><stop offset="0.625" stop-color="#00ff5c"/><stop offset="0.75" stop-color="#00ff60"/><stop offset="0.875" stop-color="#00ff67"/><stop offset="1" stop-color="#00ff71"/></linearGradient><linearGradient id="gc168"><stop offset="0" stop-color="#00ff82"/><stop offset="0.125" stop-color="#00ff77"/><stop offset="0.25" stop-color="#00ff6e"/><stop offset="0.375" stop-color="#00ff69"/><stop offset="0.5" stop-color="#00ff67"/><stop offset="0.625" stop-color="#00ff67"/><stop offset="0.75" stop-color="#00ff6b"/><stop offset="0.875" stop-color="#00ff72"/><stop offset="1" stop-color="#00ff7c"/></linearGradient><linearGradient id="gc169"><stop offset="0" stop-color="#00ff8e"/><stop offset="0.125" stop-color="#00ff82"/><stop offset="0.25" stop-color="#00ff7a"/><stop offset="0.375" stop-color="#00ff74"/><stop offset="0.5" stop-color="#00ff72"/><stop offset="0.625" stop-color="#00ff73"/><stop offset="0.75" stop-color="#00ff76"/><stop offset="0.875" stop-color="#00ff7d"/><stop offset="1" stop-color="#00ff87"/></linearGradient><linearGradient id="gc170"><stop offset="0" stop-color="#00ff9a"/><stop offset="0.125" stop-color="#00ff8e"/><stop offset="0.25" stop-color="#00ff85"/><stop offset="0.375" stop-color="#00ff80"/><stop offset="0.5" stop-color="#00ff7d"/><stop offset="0.625" stop-color="#00ff7e"/><stop offset="0.75" stop-color="#00ff82"/><stop offset="0.875" stop-color="#00ff88"/><stop offset="1" stop-color="#00ff92"/></linearGradient><linearGradient id="gc171"><stop offset="0" stop-color="#00ffa6"/><stop offset="0.125" stop-color="#00ff9a"/><stop offset="0.25" stop-color="#00ff91"/><stop offset="0.375" stop-color="#00ff8b"/><stop offset="0.5" stop-color="#00ff89"/><stop offset="0.625" stop-color="#00ff89"/><stop offset="0.75" stop-color="#00ff8d"/><stop offset="0.875" stop-color="#00ff94"/><stop offset="1" stop-color="#00ff9d"/></linearGradient><linearGradient id="gc172"><stop offset="0" stop-color="#00ffb1"/><stop offset="0.125" stop-color="#00ffa6"/><stop offset="0.25" stop-color="#00ff9d"/><stop offset="0.375" stop-color="#00ff97"/><stop offset="0.5" stop-color="#00ff94"/><stop offset="0.625" stop-color="#00ff95"/><stop offset="0.75" stop-color="#00ff98"/><stop offset="0.875" stop-color="#00ff9f"/><stop offset="1" stop-color="#00ffa8"/></linearGradient><linearGradient id="gc173"><stop offset="0" stop-color="#00ffbd"/><stop offset="0.125" stop-color="#00ffb1"/><stop offset="0.25" stop-color="#00ffa9"/><stop offset="0.375" stop-color="#00ffa3"/><stop offset="0.5" stop-color="#00ffa0"/><stop offset="0.625" stop-color="#00ffa0"/><stop offset="0.75" stop-color="#00ffa4"/><stop offset="0.875" stop-color="#00ffaa"/><stop offset="1" stop-color="#00ffb4"/></linearGradient><linearGradient id="gc174"><stop offset="0" stop-color="#00ffc9"/><stop offset="0.125" stop-color="#00ffbd"/><stop offset="0.25" stop-color="#00ffb4"/><stop offset="0.375" stop-color="#00ffae"/><stop offset="0.5" stop-color="#00ffac"/><stop offset="0.625" stop-color="#00ffac"/><stop offset="0.75" stop-color="#00ffaf"/><stop offset="0.875" stop-color="#00ffb6"/><stop offset="1" stop-color="#00ffbf"/></linearGradient><linearGradient id="gc175"><stop offset="0" stop-color="#00ffd6"/><stop offset="0.125" stop-color="#00ffc9"/><stop offset="0.25" stop-color="#00ffc0"/><stop offset="0.375" stop-color="#00ffba"/><stop offset="0.5" stop-color="#00ffb7"/><stop offset="0.625" stop-color="#00ffb8"/><stop offset="0.75" stop-color="#00ffbb"/><stop offset="0.875" stop-color="#00ffc1"/><stop offset="1" stop-color="#00ffca"/></linearGradient><linearGradient id="gc176"><stop offset="0" stop-color="#00ffe2"/><stop offset="0.125" stop-color="#00ffd6"/><stop offset="0.25" stop-color="#00ffcc"/><stop offset="0.375" stop-color="#00ffc6"/><stop offset="0.5" stop-color="#00ffc3"/><stop offset="0.625" stop-color="#00ffc3"/><stop offset="0.75" stop-color="#00ffc6"/><stop offset="0.875" stop-color="#00ffcd"/><stop offset="1" stop-color="#00ffd6"/></linearGradient><linearGradient id="gc177"><stop offset="0" stop-color="#00ffee"/><stop offset="0.125" stop-color="#00ffe2"/><stop offset="0.25" stop-color="#00ffd9"/><stop offset="0.375" stop-color="#00ffd2"/><stop offset="0.5" stop-color="#00ffcf"/><stop offset="0.625" stop-color="#00ffcf"/><stop offset="0.75" stop-color="#00ffd2"/><stop offset="0.875" stop-color="#00ffd8"/><stop offset="1" stop-color="#00ffe2"/></linearGradient><linearGradient id="gc178"><stop offset="0" stop-color="#00fffb"/><stop offset="0.125" stop-color="#00ffee"/><stop offset="0.25" stop-color="#00ffe5"/><stop offset="0.375" stop-color="#00ffdf"/><stop offset="0.5" stop-color="#00ffdb"/><stop offset="0.625" stop-color="#00ffdb"/><stop offset="0.75" stop-color="#00ffde"/><stop offset="0.875" stop-color="#00ffe4"/><stop offset="1" stop-color="#00ffed"/></linearGradient><linearGradient id="gc179"><stop offset="0" stop-color="#00f7ff"/><stop offset="0.0771" stop-color="#00ffff"/><stop offset="0.125" stop-color="#00fffb"/><stop offset="0.25" stop-color="#00fff1"/><stop offset="0.375" stop-color="#00ffeb"/><stop offset="0.5" stop-color="#00ffe7"/><stop offset="0.625" stop-color="#00ffe7"/><stop offset="0.75" stop-color="#00ffea"/><stop offset="0.875" stop-color="#00fff0"/><stop offset="1" stop-color="#00fff9"/></linearGradient><linearGradient id="gc180"><stop offset="0" stop-color="#00eaff"/><stop offset="0.125" stop-color="#00f7ff"/><stop offset="0.227" stop-color="#00ffff"/><stop offset="0.25" stop-color="#00fffd"/><stop offset="0.375" stop-color="#00fff7"/><stop offset="0.5" stop-color="#00fff4"/><stop offset="0.625" stop-color="#00fff3"/><stop offset="0.75" stop-color="#00fff6"/><stop offset="0.875" stop-color="#00fffc"/><stop offset="0.9238" stop-color="#00ffff"/><stop offset="1" stop-color="#00f9ff"/></linearGradient><linearGradient id="gc181"><stop offset="0" stop-color="#00ddff"/><stop offset="0.125" stop-color="#00eaff"/><stop offset="0.25" stop-color="#00f4ff"/><stop offset="0.375" stop-color="#00faff"/><stop offset="0.5" stop-color="#00feff"/><stop offset="0.625" stop-color="#00ffff"/><stop offset="0.75" stop-color="#00fcff"/><stop offset="0.875" stop-color="#00f6ff"/><stop offset="1" stop-color="#00edff"/></linearGradient><linearGradient id="gc182"><stop offset="0" stop-color="#00cfff"/><stop offset="0.125" stop-color="#00ddff"/><stop offset="0.25" stop-color="#00e7ff"/><stop offset="0.375" stop-color="#00eeff"/><stop offset="0.5" stop-color="#00f1ff"/><stop offset="0.625" stop-color="#00f2ff"/><stop offset="0.75" stop-color="#00efff"/><stop offset="0.875" stop-color="#00e9ff"/><stop offset="1" stop-color="#00e0ff"/></linearGradient><linearGradient id="gc183"><stop offset="0" stop-color="#00c2ff"/><stop offset="0.125" stop-color="#00d0ff"/><stop offset="0.25" stop-color="#00daff"/><stop offset="0.375" stop-color="#00e1ff"/><stop offset="0.5" stop-color="#00e4ff"/><stop offset="0.625" stop-color="#00e5ff"/><stop offset="0.75" stop-color="#00e3ff"/><stop offset="0.875" stop-color="#00ddff"/><stop offset="1" stop-color="#00d4ff"/></linearGradient><linearGradient id="gc184"><stop offset="0" stop-color="#00b5ff"/><stop offset="0.125" stop-color="#00c2ff"/><stop offset="0.25" stop-color="#00cdff"/><stop offset="0.375" stop-color="#00d4ff"/><stop offset="0.5" stop-color="#00d8ff"/><stop offset="0.625" stop-color="#00d8ff"/><stop offset="0.75" stop-color="#00d6ff"/><stop offset="0.875" stop-color="#00d0ff"/><stop offset="1" stop-color="#00c7ff"/></linearGradient><linearGradient id="gc185"><stop offset="0" stop-color="#00a7ff"/><stop offset="0.125" stop-color="#00b5ff"/><stop offset="0.25" stop-color="#00bfff"/><stop offset="0.375" stop-color="#00c7ff"/><stop offset="0.5" stop-color="#00caff"/><stop offset="0.625" stop-color="#00cbff"/><stop offset="0.75" stop-color="#00c9ff"/><stop offset="0.875" stop-color="#00c3ff"/><stop offset="1" stop-color="#00bbff"/></linearGradient><linearGradient id="gc186"><stop offset="0" stop-color="#009aff"/><stop offset="0.125" stop-color="#00a8ff"/><stop offset="0.25" stop-color="#00b2ff"/><stop offset="0.375" stop-color="#00b9ff"/><stop offset="0.5" stop-color="#00bdff"/><stop offset="0.625" stop-color="#00beff"/><stop offset="0.75" stop-color="#00bcff"/><stop offset="0.875" stop-color="#00b7ff"/><stop offset="1" stop-color="#00aeff"/></linearGradient><linearGradient id="gc187"><stop offset="0" stop-color="#008cff"/><stop offset="0.125" stop-color="#009aff"/><stop offset="0.25" stop-color="#00a5ff"/><stop offset="0.375" stop-color="#00acff"/><stop offset="0.5" stop-color="#00b0ff"/><stop offset="0.625" stop-color="#00b1ff"/><stop offset="0.75" stop-color="#00afff"/><stop offset="0.875" stop-color="#00aaff"/><stop offset="1" stop-color="#00a1ff"/></linearGradient><linearGradient id="gc188"><stop offset="0" stop-color="#007fff"/><stop offset="0.125" stop-color="#008dff"/><stop offset="0.25" stop-color="#0097ff"/><stop offset="0.375" stop-color="#009fff"/><stop offset="0.5" stop-color="#00a3ff"/><stop offset="0.625" stop-color="#00a4ff"/><stop offset="0.75" stop-color="#00a2ff"/><stop offset="0.875" stop-color="#009dff"/><stop offset="1" stop-color="#0094ff"/></linearGradient><linearGradient id="gc189"><stop offset="0" stop-color="#0071ff"/><stop offset="0.125" stop-color="#007fff"/><stop offset="0.25" stop-color="#008aff"/><stop offset="0.375" stop-color="#0091ff"/><stop offset="0.5" stop-color="#0096ff"/><stop offset="0.625" stop-color="#0097ff"/><stop offset="0.75" stop-color="#0095ff"/><stop offset="0.875" stop-color="#0090ff"/><stop offset="1" stop-color="#0087ff"/></linearGradient><linearGradient id="gc190"><stop offset="0" stop-color="#0063ff"/><stop offset="0.125" stop-color="#0071ff"/><stop offset="0.25" stop-color="#007cff"/><stop offset="0.375" stop-color="#0084ff"/><stop offset="0.5" stop-color="#0088ff"/><stop offset="0.625" stop-color="#0089ff"/><stop offset="0.75" stop-color="#0087ff"/><stop offset="0.875" stop-color="#0082ff"/><stop offset="1" stop-color="#007aff"/></linearGradient><linearGradient id="gc191"><stop offset="0" stop-color="#0055ff"/><stop offset="0.125" stop-color="#0063ff"/><stop offset="0.25" stop-color="#006eff"/><stop offset="0.375" stop-color="#0076ff"/><stop offset="0.5" stop-color="#007bff"/><stop offset="0.625" stop-color="#007cff"/><stop offset="0.75" stop-color="#007aff"/><stop offset="0.875" stop-color="#0075ff"/><stop offset="1" stop-color="#006dff"/></linearGradient><linearGradient id="gc192"><stop offset="0" stop-color="#004eff"/><stop offset="0.125" stop-color="#005cff"/><stop offset="0.25" stop-color="#0067ff"/><stop offset="0.375" stop-color="#006fff"/><stop offset="0.5" stop-color="#0073ff"/><stop offset="0.625" stop-color="#0075ff"/><stop offset="0.75" stop-color="#0073ff"/><stop offset="0.875" stop-color="#006eff"/><stop offset="1" stop-color="#0066ff"/></linearGradient></defs>
<rect width="550" height="507" fill="#fff"/>
<rect x="43" y="25.2" width="191.3" height="2.6" fill="url(#ga1)"/>
<rect x="43" y="27.2" width="191.3" height="2.6" fill="url(#ga2)"/>
<rect x="43" y="29.2" width="191.3" height="2.6" fill="url(#ga3)"/>
<rect x="43" y="31.2" width="191.3" height="2.6" fill="url(#ga4)"/>
<rect x="43" y="33.2" width="191.3" height="2.6" fill="url(#ga5)"/>
<rect x="43" y="35.2" width="191.3" height="2.6" fill="url(#ga6)"/>
<rect x="43" y="37.2" width="191.3" height="2.6" fill="url(#ga7)"/>
<rect x="43" y="39.2" width="191.3" height="2.6" fill="url(#ga8)"/>
<rect x="43" y="41.2" width="191.3" height="2.6" fill="url(#ga9)"/>
<rect x="43" y="43.2" width="191.3" height="2.6" fill="url(#ga10)"/>
<rect x="43" y="45.2" width="191.3" height="2.6" fill="url(#ga11)"/>
<rect x="43" y="47.2" width="191.3" height="2.6" fill="url(#ga12)"/>
<rect x="43" y="49.2" width="191.3" height="2.6" fill="url(#ga13)"/>
<rect x="43" y="51.2" width="191.3" height="2.6" fill="url(#ga14)"/>
<rect x="43" y="53.2" width="191.3" height="2.6" fill="url(#ga15)"/>
<rect x="43" y="55.2" width="191.3" height="2.6" fill="url(#ga16)"/>
<rect x="43" y="57.2" width="191.3" height="2.6" fill="url(#ga17)"/>
<rect x="43" y="59.2" width="191.3" height="2.6" fill="url(#ga18)"/>
<rect x="43" y="61.2" width="191.3" height="2.6" fill="url(#ga19)"/>
<rect x="43" y="63.2" width="191.3" height="2.6" fill="url(#ga20)"/>
<rect x="43" y="65.2" width="191.3" height="2.6" fill="url(#ga21)"/>
<rect x="43" y="67.2" width="191.3" height="2.6" fill="url(#ga22)"/>
<rect x="43" y="69.2" width="191.3" height="2.6" fill="url(#ga23)"/>
<rect x="43" y="71.2" width="191.3" height="2.6" fill="url(#ga24)"/>
<rect x="43" y="73.2" width="191.3" height="2.6" fill="url(#ga25)"/>
<rect x="43" y="75.2" width="191.3" height="2.6" fill="url(#ga26)"/>
<rect x="43" y="77.2" width="191.3" height="2.6" fill="url(#ga27)"/>
<rect x="43" y="79.2" width="191.3" height="2.6" fill="url(#ga28)"/>
<rect x="43" y="81.2" width="191.3" height="2.6" fill="url(#ga29)"/>
<rect x="43" y="83.2" width="191.3" height="2.6" fill="url(#ga30)"/>
<rect x="43" y="85.2" width="191.3" height="2.6" fill="url(#ga31)"/>
<rect x="43" y="87.2" width="191.3" height="2.6" fill="url(#ga32)"/>
<rect x="43" y="89.2" width="191.3" height="2.6" fill="url(#ga33)"/>
<rect x="43" y="91.2" width="191.3" height="2.6" fill="url(#ga34)"/>
<rect x="43" y="93.2" width="191.3" height="2.6" fill="url(#ga35)"/>
<rect x="43" y="95.2" width="191.3" height="2.6" fill="url(#ga36)"/>
<rect x="43" y="97.2" width="191.3" height="2.6" fill="url(#ga37)"/>
<rect x="43" y="99.2" width="191.3" height="2.6" fill="url(#ga38)"/>
<rect x="43" y="101.2" width="191.3" height="2.6" fill="url(#ga39)"/>
<rect x="43" y="103.2" width="191.3" height="2.6" fill="url(#ga40)"/>
<rect x="43" y="105.2" width="191.3" height="2.6" fill="url(#ga41)"/>
<rect x="43" y="107.2" width="191.3" height="2.6" fill="url(#ga42)"/>
<rect x="43" y="109.2" width="191.3" height="2.6" fill="url(#ga43)"/>
<rect x="43" y="111.2" width="191.3" height="2.6" fill="url(#ga44)"/>
<rect x="43" y="113.2" width="191.3" height="2.6" fill="url(#ga45)"/>
<rect x="43" y="115.2" width="191.3" height="2.6" fill="url(#ga46)"/>
<rect x="43" y="117.2" width="191.3" height="2.6" fill="url(#ga47)"/>
<rect x="43" y="119.2" width="191.3" height="2.6" fill="url(#ga48)"/>
<rect x="43" y="121.2" width="191.3" height="2.6" fill="url(#ga49)"/>
<rect x="43" y="123.2" width="191.3" height="2.6" fill="url(#ga50)"/>
<rect x="43" y="125.2" width="191.3" height="2.6" fill="url(#ga51)"/>
<rect x="43" y="127.2" width="191.3" height="2.6" fill="url(#ga52)"/>
<rect x="43" y="129.2" width="191.3" height="2.6" fill="url(#ga53)"/>
<rect x="43" y="131.2" width="191.3" height="2.6" fill="url(#ga54)"/>
<rect x="43" y="133.2" width="191.3" height="2.6" fill="url(#ga55)"/>
<rect x="43" y="135.2" width="191.3" height="2.6" fill="url(#ga56)"/>
<rect x="43" y="137.2" width="191.3" height="2.6" fill="url(#ga57)"/>
<rect x="43" y="139.2" width="191.3" height="2.6" fill="url(#ga58)"/>
<rect x="43" y="141.2" width="191.3" height="2.6" fill="url(#ga59)"/>
<rect x="43" y="143.2" width="191.3" height="2.6" fill="url(#ga60)"/>
<rect x="43" y="145.2" width="191.3" height="2.6" fill="url(#ga61)"/>
<rect x="43" y="147.2" width="191.3" height="2.6" fill="url(#ga62)"/>
<rect x="43" y="149.2" width="191.3" height="2.6" fill="url(#ga63)"/>
<rect x="43" y="151.2" width="191.3" height="2.6" fill="url(#ga64)"/>
<rect x="43" y="153.2" width="191.3" height="2.6" fill="url(#ga65)"/>
<rect x="43" y="155.2" width="191.3" height="2.6" fill="url(#ga66)"/>
<rect x="43" y="157.2" width="191.3" height="2.6" fill="url(#ga67)"/>
<rect x="43" y="159.2" width="191.3" height="2.6" fill="url(#ga68)"/>
<rect x="43" y="161.2" width="191.3" height="2.6" fill="url(#ga69)"/>
<rect x="43" y="163.2" width="191.3" height="2.6" fill="url(#ga70)"/>
<rect x="43" y="165.2" width="191.3" height="2.6" fill="url(#ga71)"/>
<rect x="43" y="167.2" width="191.3" height="2.6" fill="url(#ga72)"/>
<rect x="43" y="169.2" width="191.3" height="2.6" fill="url(#ga73)"/>
<rect x="43" y="171.2" width="191.3" height="2.6" fill="url(#ga74)"/>
<rect x="43" y="173.2" width="191.3" height="2.6" fill="url(#ga75)"/>
<rect x="43" y="175.2" width="191.3" height="2.6" fill="url(#ga76)"/>
<rect x="43" y="177.2" width="191.3" height="2.6" fill="url(#ga77)"/>
<rect x="43" y="179.2" width="191.3" height="2.6" fill="url(#ga78)"/>
<rect x="43" y="181.2" width="191.3" height="2.6" fill="url(#ga79)"/>
<rect x="43" y="183.2" width="191.3" height="2.6" fill="url(#ga80)"/>
<rect x="43" y="185.2" width="191.3" height="2.6" fill="url(#ga81)"/>
<rect x="43" y="187.2" width="191.3" height="2.6" fill="url(#ga82)"/>
<rect x="43" y="189.2" width="191.3" height="2.6" fill="url(#ga83)"/>
<rect x="43" y="191.2" width="191.3" height="2.6" fill="url(#ga84)"/>
<rect x="43" y="193.2" width="191.3" height="2.6" fill="url(#ga85)"/>
<rect x="43" y="195.2" width="191.3" height="2.6" fill="url(#ga86)"/>
<rect x="43" y="197.2" width="191.3" height="2.6" fill="url(#ga87)"/>
<rect x="43" y="199.2" width="191.3" height="2.6" fill="url(#ga88)"/>
<rect x="43" y="201.2" width="191.3" height="2.6" fill="url(#ga89)"/>
<rect x="43" y="203.2" width="191.3" height="2.6" fill="url(#ga90)"/>
<rect x="43" y="205.2" width="191.3" height="2.6" fill="url(#ga91)"/>
<rect x="43" y="207.2" width="191.3" height="2.6" fill="url(#ga92)"/>
<rect x="43" y="209.2" width="191.3" height="2.6" fill="url(#ga93)"/>
<rect x="43" y="211.2" width="191.3" height="2.6" fill="url(#ga94)"/>
<rect x="43" y="213.2" width="191.3" height="2.6" fill="url(#ga95)"/>
<rect x="43" y="215.2" width="191.3" height="0.4" fill="url(#ga96)"/>
<path d="M224.8 215.6 228.6 215.1 231.5 214.6 234.3 214.2" fill="none" stroke="#111" stroke-width="1.3"/>
<path d="M43.0 176.9 45.4 178.5 47.8 180.1 49.8 181.3 52.6 183.1 54.5 184.2 57.3 185.9 59.3 187.0 62.1 188.6 64.6 189.9 66.9 191.1 69.8 192.6 72.1 193.7 74.6 194.9 77.4 196.2 80.3 197.5 82.6 198.5 85.1 199.5 88.0 200.7 90.8 201.8 93.7 202.9 96.6 203.9 99.4 204.9 102.3 205.8 105.2 206.7 108.0 207.6 110.9 208.4 113.8 209.2 116.7 210.0 120.1 210.8 123.3 211.6 126.2 212.3 129.1 212.9 132.9 213.6 135.8 214.1 138.8 214.6 142.5 215.2 145.0 215.6" fill="none" stroke="#111" stroke-width="1.3"/>
<path d="M43.0 133.5 44.9 135.1 46.8 136.7 48.9 138.5 51.3 140.4 53.5 142.1 55.4 143.6 57.6 145.2 60.2 147.0 62.1 148.4 64.4 149.9 66.9 151.6 68.8 152.8 71.7 154.6 73.6 155.7 76.5 157.4 78.4 158.5 81.3 160.1 83.6 161.3 86.0 162.6 88.9 164.0 91.3 165.1 93.7 166.3 96.6 167.6 99.4 168.8 102.1 169.9 104.5 170.9 107.1 171.9 110.0 172.9 112.8 173.9 115.7 174.9 118.6 175.9 121.4 176.7 124.3 177.6 127.5 178.5 131.0 179.4 133.9 180.1 136.7 180.8 139.6 181.4 143.4 182.2 146.3 182.8 149.2 183.3 153.0 183.9 155.9 184.3 159.7 184.9 162.6 185.2 166.4 185.6 170.2 186.0 173.1 186.2 176.9 186.5 180.7 186.7 184.6 186.8 188.4 186.9 192.2 186.9 196.0 186.9 199.9 186.8 203.7 186.7 207.5 186.5 211.3 186.3 214.3 186.1 218.0 185.8 221.9 185.4 224.7 185.1 228.6 184.6 232.0 184.2 234.3 183.9" fill="none" stroke="#111" stroke-width="1.3"/>
<path d="M43.0 79.2 44.7 81.4 46.3 83.3 47.9 85.2 49.7 87.2 51.6 89.4 53.5 91.4 55.4 93.5 57.3 95.4 59.3 97.3 61.2 99.2 63.1 100.9 65.0 102.7 66.9 104.4 68.9 106.1 71.2 108.0 73.5 109.9 75.5 111.5 77.4 112.9 79.8 114.7 82.2 116.4 84.1 117.8 86.6 119.4 88.9 120.9 91.1 122.3 93.7 123.9 95.8 125.2 98.5 126.7 100.9 128.0 103.3 129.3 106.1 130.8 108.2 131.8 110.9 133.1 113.8 134.4 116.5 135.6 118.8 136.6 121.4 137.7 124.3 138.8 127.2 139.9 130.0 140.9 132.9 141.8 135.8 142.8 138.7 143.6 141.5 144.5 144.4 145.3 147.7 146.1 151.1 146.9 154.0 147.5 156.8 148.1 160.6 148.9 163.5 149.4 166.8 149.9 170.2 150.4 173.8 150.9 176.9 151.2 180.7 151.6 183.6 151.8 187.4 152.1 191.3 152.3 195.1 152.4 198.9 152.5 202.7 152.5 206.6 152.5 210.4 152.4 214.2 152.2 218.0 152.0 220.9 151.8 224.7 151.5 228.6 151.1 231.4 150.8 234.3 150.5" fill="none" stroke="#111" stroke-width="1.3"/>
<path d="M56.3 25.2 57.3 27.1 59.0 30.0 60.2 32.0 61.9 34.7 63.2 36.6 65.0 39.4 66.4 41.4 67.9 43.5 69.8 46.0 71.3 48.0 72.8 50.0 74.6 52.1 76.5 54.4 78.4 56.6 80.1 58.5 81.9 60.4 83.7 62.3 85.6 64.2 87.5 66.1 89.5 68.0 91.6 69.9 93.7 71.8 95.6 73.4 97.5 75.0 99.5 76.6 101.9 78.5 104.2 80.2 106.1 81.6 108.5 83.3 110.9 84.9 112.8 86.2 115.7 88.0 117.6 89.1 120.5 90.8 122.4 91.9 125.3 93.4 127.7 94.7 130.0 95.8 132.9 97.2 135.8 98.5 138.0 99.5 140.6 100.5 143.4 101.7 146.3 102.7 149.2 103.8 152.0 104.7 154.9 105.6 157.8 106.5 160.6 107.3 163.5 108.0 167.3 109.0 170.2 109.6 173.1 110.2 176.6 110.9 179.8 111.4 182.6 111.9 186.5 112.4 189.9 112.8 193.2 113.1 197.0 113.4 200.8 113.7 203.7 113.8 207.5 113.9 211.3 114.0 215.2 114.0 219.0 113.9 222.5 113.7 225.7 113.6 229.5 113.3 233.3 113.0 234.3 112.9" fill="none" stroke="#111" stroke-width="1.3"/>
<path d="M115.5 25.2 117.4 27.1 119.3 29.0 121.3 30.9 123.3 32.8 125.3 34.4 127.2 36.0 129.1 37.6 131.5 39.5 133.9 41.2 135.8 42.6 138.1 44.2 140.6 45.8 142.6 47.1 145.3 48.8 147.4 50.0 150.1 51.5 152.7 52.8 154.9 53.9 157.8 55.3 160.6 56.6 163.0 57.6 165.4 58.5 168.3 59.6 171.2 60.7 174.0 61.6 176.9 62.5 179.8 63.3 183.1 64.2 186.5 65.1 189.3 65.7 192.2 66.3 196.0 67.0 198.9 67.4 202.7 67.9 205.6 68.3 209.4 68.6 213.3 68.9 216.1 69.1 220.0 69.2 223.8 69.3 227.6 69.2 231.4 69.1 234.3 69.0" fill="none" stroke="#111" stroke-width="1.3"/>
<rect x="43" y="25.2" width="191.3" height="190.4" fill="none" stroke="#111" stroke-width="1.2"/>
<line x1="37.5" y1="25.2" x2="43.0" y2="25.2" stroke="#111" stroke-width="1"/>
<text x="35.3" y="26.7" font-size="7.6" text-anchor="end" fill="#333">5</text>
<line x1="43.0" y1="215.6" x2="43.0" y2="220.8" stroke="#111" stroke-width="1"/>
<text x="43.0" y="229.9" font-size="7.8" text-anchor="middle" fill="#333">1400</text>
<line x1="37.5" y1="72.8" x2="43.0" y2="72.8" stroke="#111" stroke-width="1"/>
<text x="35.3" y="74.3" font-size="7.6" text-anchor="end" fill="#333">4.5</text>
<line x1="90.8" y1="215.6" x2="90.8" y2="220.8" stroke="#111" stroke-width="1"/>
<text x="90.8" y="229.9" font-size="7.8" text-anchor="middle" fill="#333">1450</text>
<line x1="37.5" y1="120.4" x2="43.0" y2="120.4" stroke="#111" stroke-width="1"/>
<text x="35.3" y="121.9" font-size="7.6" text-anchor="end" fill="#333">4</text>
<line x1="138.7" y1="215.6" x2="138.7" y2="220.8" stroke="#111" stroke-width="1"/>
<text x="138.7" y="229.9" font-size="7.8" text-anchor="middle" fill="#333">1500</text>
<line x1="37.5" y1="168.0" x2="43.0" y2="168.0" stroke="#111" stroke-width="1"/>
<text x="35.3" y="169.5" font-size="7.6" text-anchor="end" fill="#333">3.5</text>
<line x1="186.5" y1="215.6" x2="186.5" y2="220.8" stroke="#111" stroke-width="1"/>
<text x="186.5" y="229.9" font-size="7.8" text-anchor="middle" fill="#333">1550</text>
<line x1="37.5" y1="215.6" x2="43.0" y2="215.6" stroke="#111" stroke-width="1"/>
<text x="35.3" y="217.1" font-size="7.6" text-anchor="end" fill="#333">3</text>
<line x1="234.3" y1="215.6" x2="234.3" y2="220.8" stroke="#111" stroke-width="1"/>
<text x="234.3" y="229.9" font-size="7.8" text-anchor="middle" fill="#333">1600</text>
<rect x="156.9" y="44.9" width="16.4" height="12.6" fill="#fff" stroke="#111" stroke-width="1.15"/>
<text x="165.1" y="55.0" font-size="11.2" text-anchor="middle" fill="#222">5.5</text>
<rect x="120.5" y="79.1" width="8.8" height="13.0" fill="#fff" stroke="#111" stroke-width="1.15"/>
<text x="124.9" y="89.4" font-size="11.2" text-anchor="middle" fill="#222">5</text>
<rect x="109.3" y="123.0" width="16.6" height="12.6" fill="#fff" stroke="#111" stroke-width="1.15"/>
<text x="117.6" y="133.1" font-size="11.2" text-anchor="middle" fill="#222">4.5</text>
<rect x="117.2" y="164.1" width="9.2" height="12.8" fill="#fff" stroke="#111" stroke-width="1.15"/>
<text x="121.8" y="174.3" font-size="11.2" text-anchor="middle" fill="#222">4</text>
<rect x="82.8" y="188.1" width="16.2" height="12.4" fill="#fff" stroke="#111" stroke-width="1.15"/>
<text x="90.9" y="198.1" font-size="11.2" text-anchor="middle" fill="#222">3.5</text>
<rect x="216.6" y="202.7" width="16.8" height="12.5" fill="#fff" stroke="#111" stroke-width="1.15"/>
<text x="225.0" y="212.7" font-size="11.2" text-anchor="middle" fill="#222">3.5</text>
<circle cx="43.0" cy="25.5" r="2.1" fill="#f00000" stroke="#400" stroke-width="0.9"/>
<circle cx="234.3" cy="25.5" r="2.1" fill="#f00000" stroke="#400" stroke-width="0.9"/>
<circle cx="43.0" cy="215.9" r="2.1" fill="#f00000" stroke="#400" stroke-width="0.9"/>
<circle cx="234.3" cy="215.9" r="2.1" fill="#f00000" stroke="#400" stroke-width="0.9"/>
<circle cx="138.7" cy="120.7" r="2.1" fill="#f00000" stroke="#400" stroke-width="0.9"/>
<text x="131.8" y="124.0" font-size="10" text-anchor="middle" fill="#222">5</text>
<text x="138.8" y="20.3" font-size="11.5" text-anchor="middle" fill="#222">W/H</text>
<text x="92.6" y="245.6" font-size="11.6" fill="#222" textLength="91.8">A: laser power (W)</text>
<text transform="translate(13 119.4) rotate(-90)" font-size="11.8" text-anchor="middle" fill="#222" textLength="122.5">C: scanning speed (mm/s)</text>
<rect x="43" y="277.8" width="190.1" height="2.6" fill="url(#gc97)"/>
<rect x="43" y="279.8" width="190.1" height="2.6" fill="url(#gc98)"/>
<rect x="43" y="281.8" width="190.1" height="2.6" fill="url(#gc99)"/>
<rect x="43" y="283.8" width="190.1" height="2.6" fill="url(#gc100)"/>
<rect x="43" y="285.8" width="190.1" height="2.6" fill="url(#gc101)"/>
<rect x="43" y="287.8" width="190.1" height="2.6" fill="url(#gc102)"/>
<rect x="43" y="289.8" width="190.1" height="2.6" fill="url(#gc103)"/>
<rect x="43" y="291.8" width="190.1" height="2.6" fill="url(#gc104)"/>
<rect x="43" y="293.8" width="190.1" height="2.6" fill="url(#gc105)"/>
<rect x="43" y="295.8" width="190.1" height="2.6" fill="url(#gc106)"/>
<rect x="43" y="297.8" width="190.1" height="2.6" fill="url(#gc107)"/>
<rect x="43" y="299.8" width="190.1" height="2.6" fill="url(#gc108)"/>
<rect x="43" y="301.8" width="190.1" height="2.6" fill="url(#gc109)"/>
<rect x="43" y="303.8" width="190.1" height="2.6" fill="url(#gc110)"/>
<rect x="43" y="305.8" width="190.1" height="2.6" fill="url(#gc111)"/>
<rect x="43" y="307.8" width="190.1" height="2.6" fill="url(#gc112)"/>
<rect x="43" y="309.8" width="190.1" height="2.6" fill="url(#gc113)"/>
<rect x="43" y="311.8" width="190.1" height="2.6" fill="url(#gc114)"/>
<rect x="43" y="313.8" width="190.1" height="2.6" fill="url(#gc115)"/>
<rect x="43" y="315.8" width="190.1" height="2.6" fill="url(#gc116)"/>
<rect x="43" y="317.8" width="190.1" height="2.6" fill="url(#gc117)"/>
<rect x="43" y="319.8" width="190.1" height="2.6" fill="url(#gc118)"/>
<rect x="43" y="321.8" width="190.1" height="2.6" fill="url(#gc119)"/>
<rect x="43" y="323.8" width="190.1" height="2.6" fill="url(#gc120)"/>
<rect x="43" y="325.8" width="190.1" height="2.6" fill="url(#gc121)"/>
<rect x="43" y="327.8" width="190.1" height="2.6" fill="url(#gc122)"/>
<rect x="43" y="329.8" width="190.1" height="2.6" fill="url(#gc123)"/>
<rect x="43" y="331.8" width="190.1" height="2.6" fill="url(#gc124)"/>
<rect x="43" y="333.8" width="190.1" height="2.6" fill="url(#gc125)"/>
<rect x="43" y="335.8" width="190.1" height="2.6" fill="url(#gc126)"/>
<rect x="43" y="337.8" width="190.1" height="2.6" fill="url(#gc127)"/>
<rect x="43" y="339.8" width="190.1" height="2.6" fill="url(#gc128)"/>
<rect x="43" y="341.8" width="190.1" height="2.6" fill="url(#gc129)"/>
<rect x="43" y="343.8" width="190.1" height="2.6" fill="url(#gc130)"/>
<rect x="43" y="345.8" width="190.1" height="2.6" fill="url(#gc131)"/>
<rect x="43" y="347.8" width="190.1" height="2.6" fill="url(#gc132)"/>
<rect x="43" y="349.8" width="190.1" height="2.6" fill="url(#gc133)"/>
<rect x="43" y="351.8" width="190.1" height="2.6" fill="url(#gc134)"/>
<rect x="43" y="353.8" width="190.1" height="2.6" fill="url(#gc135)"/>
<rect x="43" y="355.8" width="190.1" height="2.6" fill="url(#gc136)"/>
<rect x="43" y="357.8" width="190.1" height="2.6" fill="url(#gc137)"/>
<rect x="43" y="359.8" width="190.1" height="2.6" fill="url(#gc138)"/>
<rect x="43" y="361.8" width="190.1" height="2.6" fill="url(#gc139)"/>
<rect x="43" y="363.8" width="190.1" height="2.6" fill="url(#gc140)"/>
<rect x="43" y="365.8" width="190.1" height="2.6" fill="url(#gc141)"/>
<rect x="43" y="367.8" width="190.1" height="2.6" fill="url(#gc142)"/>
<rect x="43" y="369.8" width="190.1" height="2.6" fill="url(#gc143)"/>
<rect x="43" y="371.8" width="190.1" height="2.6" fill="url(#gc144)"/>
<rect x="43" y="373.8" width="190.1" height="2.6" fill="url(#gc145)"/>
<rect x="43" y="375.8" width="190.1" height="2.6" fill="url(#gc146)"/>
<rect x="43" y="377.8" width="190.1" height="2.6" fill="url(#gc147)"/>
<rect x="43" y="379.8" width="190.1" height="2.6" fill="url(#gc148)"/>
<rect x="43" y="381.8" width="190.1" height="2.6" fill="url(#gc149)"/>
<rect x="43" y="383.8" width="190.1" height="2.6" fill="url(#gc150)"/>
<rect x="43" y="385.8" width="190.1" height="2.6" fill="url(#gc151)"/>
<rect x="43" y="387.8" width="190.1" height="2.6" fill="url(#gc152)"/>
<rect x="43" y="389.8" width="190.1" height="2.6" fill="url(#gc153)"/>
<rect x="43" y="391.8" width="190.1" height="2.6" fill="url(#gc154)"/>
<rect x="43" y="393.8" width="190.1" height="2.6" fill="url(#gc155)"/>
<rect x="43" y="395.8" width="190.1" height="2.6" fill="url(#gc156)"/>
<rect x="43" y="397.8" width="190.1" height="2.6" fill="url(#gc157)"/>
<rect x="43" y="399.8" width="190.1" height="2.6" fill="url(#gc158)"/>
<rect x="43" y="401.8" width="190.1" height="2.6" fill="url(#gc159)"/>
<rect x="43" y="403.8" width="190.1" height="2.6" fill="url(#gc160)"/>
<rect x="43" y="405.8" width="190.1" height="2.6" fill="url(#gc161)"/>
<rect x="43" y="407.8" width="190.1" height="2.6" fill="url(#gc162)"/>
<rect x="43" y="409.8" width="190.1" height="2.6" fill="url(#gc163)"/>
<rect x="43" y="411.8" width="190.1" height="2.6" fill="url(#gc164)"/>
<rect x="43" y="413.8" width="190.1" height="2.6" fill="url(#gc165)"/>
<rect x="43" y="415.8" width="190.1" height="2.6" fill="url(#gc166)"/>
<rect x="43" y="417.8" width="190.1" height="2.6" fill="url(#gc167)"/>
<rect x="43" y="419.8" width="190.1" height="2.6" fill="url(#gc168)"/>
<rect x="43" y="421.8" width="190.1" height="2.6" fill="url(#gc169)"/>
<rect x="43" y="423.8" width="190.1" height="2.6" fill="url(#gc170)"/>
<rect x="43" y="425.8" width="190.1" height="2.6" fill="url(#gc171)"/>
<rect x="43" y="427.8" width="190.1" height="2.6" fill="url(#gc172)"/>
<rect x="43" y="429.8" width="190.1" height="2.6" fill="url(#gc173)"/>
<rect x="43" y="431.8" width="190.1" height="2.6" fill="url(#gc174)"/>
<rect x="43" y="433.8" width="190.1" height="2.6" fill="url(#gc175)"/>
<rect x="43" y="435.8" width="190.1" height="2.6" fill="url(#gc176)"/>
<rect x="43" y="437.8" width="190.1" height="2.6" fill="url(#gc177)"/>
<rect x="43" y="439.8" width="190.1" height="2.6" fill="url(#gc178)"/>
<rect x="43" y="441.8" width="190.1" height="2.6" fill="url(#gc179)"/>
<rect x="43" y="443.8" width="190.1" height="2.6" fill="url(#gc180)"/>
<rect x="43" y="445.8" width="190.1" height="2.6" fill="url(#gc181)"/>
<rect x="43" y="447.8" width="190.1" height="2.6" fill="url(#gc182)"/>
<rect x="43" y="449.8" width="190.1" height="2.6" fill="url(#gc183)"/>
<rect x="43" y="451.8" width="190.1" height="2.6" fill="url(#gc184)"/>
<rect x="43" y="453.8" width="190.1" height="2.6" fill="url(#gc185)"/>
<rect x="43" y="455.8" width="190.1" height="2.6" fill="url(#gc186)"/>
<rect x="43" y="457.8" width="190.1" height="2.6" fill="url(#gc187)"/>
<rect x="43" y="459.8" width="190.1" height="2.6" fill="url(#gc188)"/>
<rect x="43" y="461.8" width="190.1" height="2.6" fill="url(#gc189)"/>
<rect x="43" y="463.8" width="190.1" height="2.6" fill="url(#gc190)"/>
<rect x="43" y="465.8" width="190.1" height="2.6" fill="url(#gc191)"/>
<rect x="43" y="467.8" width="190.1" height="0.1" fill="url(#gc192)"/>
<path d="M43.0 460.7 46.8 461.0 49.7 461.3 53.5 461.6 57.3 462.0 60.2 462.2 63.9 462.5 67.7 462.8 71.5 463.1 74.4 463.3 78.2 463.5 82.0 463.8 85.8 464.0 88.6 464.2 92.4 464.4 96.2 464.6 100.0 464.8 103.8 465.0 106.7 465.1 110.5 465.3 114.3 465.4 118.1 465.5 121.9 465.7 125.7 465.8 129.5 465.9 133.3 466.0 136.1 466.0 140.0 466.1 143.8 466.2 147.6 466.2 151.4 466.2 155.2 466.3 159.0 466.3 162.8 466.3 166.6 466.3 170.4 466.2 174.2 466.2 178.0 466.1 181.8 466.1 185.5 466.0 188.4 465.9 192.2 465.8 196.0 465.7 199.8 465.6 203.6 465.5 207.4 465.3 211.2 465.2 214.1 465.0 217.9 464.8 221.7 464.6 225.5 464.4 229.3 464.2 232.1 464.0 233.1 464.0" fill="none" stroke="#111" stroke-width="1.3"/>
<path d="M43.0 428.0 46.8 428.4 50.6 428.7 53.5 429.0 57.3 429.3 61.1 429.6 64.9 429.9 67.7 430.1 71.5 430.4 75.3 430.6 78.7 430.8 82.0 431.0 85.8 431.3 89.6 431.5 93.4 431.7 96.2 431.8 100.0 432.0 103.8 432.1 107.6 432.3 111.4 432.4 115.2 432.5 119.0 432.6 122.6 432.7 125.7 432.8 129.5 432.9 133.3 432.9 137.1 433.0 140.9 433.0 144.7 433.0 148.5 433.0 152.3 433.0 156.1 433.0 159.9 433.0 163.7 432.9 167.5 432.9 171.3 432.8 174.2 432.7 178.0 432.6 181.8 432.5 185.6 432.4 189.4 432.2 193.2 432.1 197.0 431.9 199.8 431.8 203.6 431.6 207.4 431.4 211.2 431.1 215.0 430.9 217.9 430.7 221.7 430.4 225.5 430.2 229.2 429.9 232.1 429.6 233.1 429.6" fill="none" stroke="#111" stroke-width="1.3"/>
<path d="M43.0 391.2 46.8 391.5 50.3 391.9 53.5 392.1 57.3 392.4 61.1 392.7 63.9 392.9 67.7 393.2 71.5 393.5 75.3 393.7 78.2 393.9 82.0 394.1 85.8 394.3 89.6 394.5 93.4 394.7 96.2 394.8 100.0 394.9 103.8 395.1 107.6 395.2 111.4 395.3 115.2 395.4 119.0 395.4 122.8 395.5 126.6 395.5 130.4 395.6 134.2 395.6 138.1 395.6 141.9 395.5 145.7 395.5 149.5 395.5 153.3 395.4 157.1 395.3 160.9 395.2 164.7 395.1 168.5 395.0 172.3 394.8 175.1 394.7 178.9 394.5 182.7 394.3 186.5 394.1 190.3 393.9 193.2 393.7 197.0 393.5 200.8 393.2 204.6 392.9 207.4 392.7 211.2 392.3 215.0 392.0 217.9 391.7 221.7 391.4 225.5 391.0 228.3 390.7 232.1 390.3 233.1 390.2" fill="none" stroke="#111" stroke-width="1.3"/>
<path d="M43.0 348.1 45.9 348.3 49.7 348.7 53.5 349.0 56.3 349.2 60.1 349.5 63.9 349.8 67.7 350.0 70.6 350.2 74.4 350.4 78.2 350.6 82.0 350.8 85.8 351.0 88.6 351.1 92.4 351.2 96.2 351.4 100.0 351.5 103.8 351.5 107.6 351.6 111.4 351.7 115.2 351.7 119.0 351.7 122.8 351.7 126.6 351.7 130.4 351.6 134.2 351.5 138.1 351.5 141.9 351.4 145.7 351.2 149.5 351.1 152.3 351.0 156.1 350.8 159.9 350.6 163.7 350.4 167.5 350.2 170.4 350.0 174.2 349.7 178.0 349.4 181.8 349.1 184.6 348.8 188.4 348.5 192.0 348.1 195.1 347.8 198.9 347.4 201.7 347.1 205.5 346.6 208.9 346.2 212.2 345.8 216.0 345.3 218.8 344.9 222.6 344.3 225.5 343.9 228.9 343.4 232.1 342.9 233.1 342.7" fill="none" stroke="#111" stroke-width="1.3"/>
<path d="M43.0 293.5 46.8 293.9 49.7 294.1 53.5 294.4 57.3 294.7 60.4 294.9 63.9 295.1 67.7 295.3 71.5 295.5 75.3 295.7 79.1 295.8 82.0 295.9 85.8 296.0 89.6 296.1 93.4 296.2 97.2 296.2 101.0 296.2 104.8 296.2 108.6 296.1 112.4 296.0 116.2 295.9 119.0 295.9 122.8 295.7 126.6 295.5 130.4 295.3 134.2 295.1 137.4 294.9 140.9 294.7 144.7 294.4 148.5 294.0 151.4 293.8 155.2 293.4 158.7 293.0 161.8 292.7 165.6 292.2 168.5 291.8 172.3 291.3 175.1 290.9 178.9 290.3 181.8 289.9 185.6 289.3 188.4 288.8 191.3 288.3 195.1 287.5 197.9 287.0 201.0 286.4 204.6 285.6 207.4 285.0 210.3 284.3 213.7 283.5 216.9 282.7 219.8 282.0 222.6 281.2 225.5 280.4 228.3 279.6 231.4 278.8 233.1 278.2" fill="none" stroke="#111" stroke-width="1.3"/>
<rect x="43" y="277.8" width="190.1" height="190.1" fill="none" stroke="#111" stroke-width="1.2"/>
<line x1="37.5" y1="277.8" x2="43.0" y2="277.8" stroke="#111" stroke-width="1"/>
<text x="35.3" y="279.3" font-size="7.6" text-anchor="end" fill="#333">5</text>
<line x1="43.0" y1="467.9" x2="43.0" y2="473.1" stroke="#111" stroke-width="1"/>
<text x="43.0" y="482.9" font-size="7.8" text-anchor="middle" fill="#333">16</text>
<line x1="37.5" y1="325.3" x2="43.0" y2="325.3" stroke="#111" stroke-width="1"/>
<text x="35.3" y="326.8" font-size="7.6" text-anchor="end" fill="#333">4.5</text>
<line x1="90.5" y1="467.9" x2="90.5" y2="473.1" stroke="#111" stroke-width="1"/>
<text x="90.5" y="482.9" font-size="7.8" text-anchor="middle" fill="#333">17</text>
<line x1="37.5" y1="372.9" x2="43.0" y2="372.9" stroke="#111" stroke-width="1"/>
<text x="35.3" y="374.4" font-size="7.6" text-anchor="end" fill="#333">4</text>
<line x1="138.1" y1="467.9" x2="138.1" y2="473.1" stroke="#111" stroke-width="1"/>
<text x="138.1" y="482.9" font-size="7.8" text-anchor="middle" fill="#333">18</text>
<line x1="37.5" y1="420.4" x2="43.0" y2="420.4" stroke="#111" stroke-width="1"/>
<text x="35.3" y="421.9" font-size="7.6" text-anchor="end" fill="#333">3.5</text>
<line x1="185.6" y1="467.9" x2="185.6" y2="473.1" stroke="#111" stroke-width="1"/>
<text x="185.6" y="482.9" font-size="7.8" text-anchor="middle" fill="#333">19</text>
<line x1="37.5" y1="467.9" x2="43.0" y2="467.9" stroke="#111" stroke-width="1"/>
<text x="35.3" y="469.4" font-size="7.6" text-anchor="end" fill="#333">3</text>
<line x1="233.1" y1="467.9" x2="233.1" y2="473.1" stroke="#111" stroke-width="1"/>
<text x="233.1" y="482.9" font-size="7.8" text-anchor="middle" fill="#333">20</text>
<rect x="134.4" y="282.5" width="17.0" height="12.8" fill="#fff" stroke="#111" stroke-width="1.15"/>
<text x="142.9" y="292.7" font-size="11.2" text-anchor="middle" fill="#222">5.5</text>
<rect x="136.1" y="339.1" width="8.8" height="12.6" fill="#fff" stroke="#111" stroke-width="1.15"/>
<text x="140.5" y="349.2" font-size="11.2" text-anchor="middle" fill="#222">5</text>
<rect x="127.0" y="383.5" width="16.8" height="12.4" fill="#fff" stroke="#111" stroke-width="1.15"/>
<text x="135.4" y="393.5" font-size="11.2" text-anchor="middle" fill="#222">4.5</text>
<rect x="131.0" y="420.8" width="9.0" height="12.4" fill="#fff" stroke="#111" stroke-width="1.15"/>
<text x="135.5" y="430.8" font-size="11.2" text-anchor="middle" fill="#222">4</text>
<rect x="127.3" y="453.8" width="16.6" height="12.0" fill="#fff" stroke="#111" stroke-width="1.15"/>
<text x="135.6" y="463.6" font-size="11.2" text-anchor="middle" fill="#222">3.5</text>
<circle cx="43.0" cy="278.1" r="2.1" fill="#f00000" stroke="#400" stroke-width="0.9"/>
<circle cx="233.1" cy="278.1" r="2.1" fill="#f00000" stroke="#400" stroke-width="0.9"/>
<circle cx="43.0" cy="468.2" r="2.1" fill="#f00000" stroke="#400" stroke-width="0.9"/>
<circle cx="233.1" cy="468.2" r="2.1" fill="#f00000" stroke="#400" stroke-width="0.9"/>
<circle cx="138.1" cy="373.2" r="2.1" fill="#f00000" stroke="#400" stroke-width="0.9"/>
<text x="131.2" y="376.5" font-size="10" text-anchor="middle" fill="#222">5</text>
<text x="138.2" y="272.9" font-size="11.5" text-anchor="middle" fill="#222">W/H</text>
<text x="84.8" y="501.2" font-size="11.6" fill="#222" textLength="101.5">B: feeding rate (mg/s)</text>
<text transform="translate(13 371.9) rotate(-90)" font-size="11.8" text-anchor="middle" fill="#222" textLength="122.5">C: scanning speed (mm/s)</text>
<line x1="306.3" y1="137.6" x2="301.1" y2="31.5" stroke="#111" stroke-width="1.45"/>
<line x1="408.7" y1="103.1" x2="408.7" y2="7.6" stroke="#111" stroke-width="1.45"/>
<line x1="331.9" y1="129.0" x2="328.0" y2="25.6" stroke="#111" stroke-width="1.45"/>
<line x1="434.3" y1="111.7" x2="435.6" y2="13.6" stroke="#111" stroke-width="1.45"/>
<line x1="357.5" y1="120.3" x2="354.9" y2="19.6" stroke="#111" stroke-width="1.45"/>
<line x1="459.9" y1="120.3" x2="462.5" y2="19.6" stroke="#111" stroke-width="1.45"/>
<line x1="383.1" y1="111.7" x2="381.8" y2="13.6" stroke="#111" stroke-width="1.45"/>
<line x1="485.5" y1="129.0" x2="489.3" y2="25.6" stroke="#111" stroke-width="1.45"/>
<line x1="408.7" y1="103.1" x2="408.7" y2="7.6" stroke="#111" stroke-width="1.45"/>
<line x1="511.1" y1="137.6" x2="516.2" y2="31.5" stroke="#111" stroke-width="1.45"/>
<line x1="306.3" y1="137.6" x2="408.7" y2="103.1" stroke="#111" stroke-width="1.45"/>
<line x1="408.7" y1="103.1" x2="511.1" y2="137.6" stroke="#111" stroke-width="1.45"/>
<line x1="305.0" y1="111.1" x2="408.7" y2="79.2" stroke="#111" stroke-width="1.45"/>
<line x1="408.7" y1="79.2" x2="512.4" y2="111.1" stroke="#111" stroke-width="1.45"/>
<line x1="303.7" y1="84.6" x2="408.7" y2="55.3" stroke="#111" stroke-width="1.45"/>
<line x1="408.7" y1="55.3" x2="513.7" y2="84.6" stroke="#111" stroke-width="1.45"/>
<line x1="302.4" y1="58.1" x2="408.7" y2="31.5" stroke="#111" stroke-width="1.45"/>
<line x1="408.7" y1="31.5" x2="515.0" y2="58.0" stroke="#111" stroke-width="1.45"/>
<line x1="301.1" y1="31.5" x2="408.7" y2="7.6" stroke="#111" stroke-width="1.45"/>
<line x1="408.7" y1="7.6" x2="516.2" y2="31.5" stroke="#111" stroke-width="1.45"/>
<polygon points="307.9 170.5 408.7 219.0 509.5 170.5 408.7 132.6" fill="#6a6a6a" stroke="#111" stroke-width="1.7" stroke-linejoin="round"/>
<path d="M387.8 208.9 391.5 208.5 395.2 208.2 398.4 207.8 401.5 207.4 404.6 207.0 407.8 206.5 411.1 206.1 414.4 205.5 417.9 204.9 421.5 204.3 425.2 203.6 428.4 202.9 431.4 202.3 434.3 201.7 437.4 200.9 441.4 200.0 444.2 199.2 446.9 198.5 450.9 197.4 453.5 196.7 457.2 195.5 457.8 195.3" fill="none" stroke="#1464ff" stroke-width="3"/>
<path d="M362.0 196.5 364.6 196.4 368.0 196.2 371.9 196.1 374.4 195.9 377.6 195.7 381.3 195.4 384.9 195.1 387.7 194.8 390.5 194.5 393.8 194.2 397.2 193.7 400.5 193.3 403.8 192.8 407.0 192.3 410.1 191.8 413.2 191.3 416.2 190.7 419.8 190.0 423.5 189.3 426.3 188.7 429.1 188.0 432.4 187.2 435.8 186.4 438.4 185.7 442.2 184.6 444.7 183.9 448.3 182.8 450.6 182.0 454.1 180.9 456.5 180.0 459.6 178.9 462.8 177.7 465.8 176.4 468.8 175.2 471.7 173.9 474.5 172.6 477.2 171.3 479.9 169.9 482.4 168.6 484.8 167.2 487.0 165.9 488.7 164.9 491.0 163.5" fill="none" stroke="#00f0be" stroke-width="3"/>
<path d="M333.9 183.0 336.9 183.1 340.7 183.3 343.0 183.3 346.7 183.4 349.5 183.4 352.9 183.4 355.7 183.4 359.4 183.3 361.7 183.3 365.6 183.1 368.6 183.0 371.2 182.8 374.8 182.6 378.4 182.3 381.2 182.1 383.8 181.8 387.0 181.5 390.3 181.1 393.6 180.7 396.7 180.3 399.8 179.8 402.9 179.4 405.8 178.9 408.8 178.3 412.2 177.7 415.8 176.9 418.5 176.3 421.2 175.7 424.8 174.9 427.6 174.1 430.1 173.5 433.7 172.5 436.0 171.8 439.5 170.7 442.8 169.6 445.0 168.9 448.1 167.7 451.2 166.5 454.2 165.4 457.0 164.2 459.8 162.9 462.5 161.7 465.1 160.4 467.6 159.1 470.0 157.8 471.5 157.0 472.3 156.5" fill="none" stroke="#00f01e" stroke-width="3"/>
<path d="M315.7 167.6 318.5 167.9 321.1 168.2 323.7 168.4 326.7 168.7 330.0 169.0 333.3 169.2 335.6 169.3 338.7 169.5 342.3 169.6 344.4 169.7 348.2 169.7 350.6 169.7 354.2 169.7 356.5 169.7 360.3 169.6 362.8 169.5 365.9 169.4 369.4 169.2 372.1 169.0 374.6 168.8 378.0 168.5 381.2 168.2 384.4 167.8 387.5 167.5 390.6 167.0 393.6 166.6 396.5 166.2 399.3 165.7 402.1 165.2 404.8 164.7 408.4 163.9 411.3 163.3 413.9 162.7 417.5 161.8 419.9 161.1 423.2 160.2 425.6 159.5 428.9 158.5 431.0 157.8 434.1 156.7 437.1 155.6 440.0 154.5 442.8 153.4 445.5 152.2 448.1 151.0 450.6 149.8 452.2 149.0" fill="none" stroke="#c8fa00" stroke-width="3"/>
<path d="M348.9 155.1 351.0 155.1 354.7 155.1 356.7 155.0 360.3 154.9 363.1 154.8 365.5 154.7 368.8 154.5 372.0 154.2 375.0 153.9 377.6 153.7 380.3 153.4 383.2 153.0 386.2 152.6 389.3 152.1 392.4 151.6 395.0 151.1 397.5 150.6 400.5 149.9 403.6 149.2 406.0 148.6 409.4 147.7 411.6 147.1 414.8 146.2 417.8 145.2 420.4 144.3 422.7 143.5 425.5 142.4 428.1 141.3 429.8 140.6" fill="none" stroke="#ff8000" stroke-width="3"/>
<polygon points="307.9 170.5 408.7 219.0 509.5 170.5 408.7 132.6" fill="none" stroke="#111" stroke-width="1.7" stroke-linejoin="round"/>
<line x1="307.9" y1="170.5" x2="305.9" y2="171.2" stroke="#111" stroke-width="1.6"/>
<text x="303.9" y="178.7" font-size="8.4" text-anchor="end" fill="#222">5</text>
<line x1="408.7" y1="219.0" x2="410.7" y2="219.9" stroke="#111" stroke-width="1.6"/>
<text x="414.1" y="227.2" font-size="8.4" text-anchor="start" fill="#222">1400</text>
<line x1="333.1" y1="182.6" x2="331.1" y2="183.4" stroke="#111" stroke-width="1.6"/>
<text x="329.1" y="190.8" font-size="8.4" text-anchor="end" fill="#222">4.5</text>
<line x1="433.9" y1="206.8" x2="435.9" y2="207.7" stroke="#111" stroke-width="1.6"/>
<text x="439.3" y="215.0" font-size="8.4" text-anchor="start" fill="#222">1450</text>
<line x1="358.3" y1="194.7" x2="356.3" y2="195.6" stroke="#111" stroke-width="1.6"/>
<text x="354.3" y="202.9" font-size="8.4" text-anchor="end" fill="#222">4</text>
<line x1="459.1" y1="194.7" x2="461.1" y2="195.6" stroke="#111" stroke-width="1.6"/>
<text x="464.5" y="202.9" font-size="8.4" text-anchor="start" fill="#222">1500</text>
<line x1="383.5" y1="206.8" x2="381.5" y2="207.8" stroke="#111" stroke-width="1.6"/>
<text x="379.5" y="215.0" font-size="8.4" text-anchor="end" fill="#222">3.5</text>
<line x1="484.3" y1="182.6" x2="486.3" y2="183.4" stroke="#111" stroke-width="1.6"/>
<text x="489.7" y="190.8" font-size="8.4" text-anchor="start" fill="#222">1550</text>
<line x1="408.7" y1="219.0" x2="406.7" y2="219.9" stroke="#111" stroke-width="1.6"/>
<text x="404.7" y="227.2" font-size="8.4" text-anchor="end" fill="#222">3</text>
<line x1="509.5" y1="170.5" x2="511.5" y2="171.2" stroke="#111" stroke-width="1.6"/>
<text x="514.9" y="178.7" font-size="8.4" text-anchor="start" fill="#222">1600</text>
<line x1="307.9" y1="170.5" x2="301.1" y2="31.5" stroke="#111" stroke-width="1.6"/>
<line x1="509.5" y1="170.5" x2="516.2" y2="31.5" stroke="#111" stroke-width="1.5"/>
<circle cx="306.3" cy="137.6" r="1.1" fill="#111"/>
<text x="301.7" y="135.2" font-size="8.2" text-anchor="end" fill="#222">2</text>
<circle cx="305.0" cy="111.1" r="1.1" fill="#111"/>
<text x="300.4" y="108.7" font-size="8.2" text-anchor="end" fill="#222">3</text>
<circle cx="303.7" cy="84.6" r="1.1" fill="#111"/>
<text x="299.1" y="82.2" font-size="8.2" text-anchor="end" fill="#222">4</text>
<circle cx="302.4" cy="58.1" r="1.1" fill="#111"/>
<text x="297.8" y="55.7" font-size="8.2" text-anchor="end" fill="#222">5</text>
<circle cx="301.1" cy="31.5" r="1.1" fill="#111"/>
<text x="296.5" y="29.1" font-size="8.2" text-anchor="end" fill="#222">6</text>
<g stroke="#0a0a0a" stroke-width="1" stroke-linejoin="round">
<polygon points="408.7 13.8 413.0 12.8 408.7 9.9 404.3 11.0" fill="#ff0000"/>
<polygon points="404.3 15.0 408.7 13.8 404.3 11.0 399.9 12.2" fill="#ff0000"/>
<polygon points="413.0 16.8 417.4 15.7 413.0 12.8 408.7 13.8" fill="#ff0000"/>
<polygon points="399.8 16.3 404.3 15.0 399.9 12.2 395.5 13.4" fill="#ff0000"/>
<polygon points="417.5 19.8 421.8 18.8 417.4 15.7 413.0 16.8" fill="#ff0000"/>
<polygon points="408.7 17.9 413.0 16.8 408.7 13.8 404.3 15.0" fill="#ff0000"/>
<polygon points="395.4 17.7 399.8 16.3 395.5 13.4 391.0 14.9" fill="#ff0000"/>
<polygon points="421.9 23.0 426.2 22.0 421.8 18.8 417.5 19.8" fill="#ff1b00"/>
<polygon points="404.2 19.2 408.7 17.9 404.3 15.0 399.8 16.3" fill="#ff0000"/>
<polygon points="413.1 21.0 417.5 19.8 413.0 16.8 408.7 17.9" fill="#ff0000"/>
<polygon points="390.9 19.2 395.4 17.7 391.0 14.9 386.5 16.4" fill="#ff0000"/>
<polygon points="399.8 20.6 404.2 19.2 399.8 16.3 395.4 17.7" fill="#ff0000"/>
<polygon points="408.7 22.2 413.1 21.0 408.7 17.9 404.2 19.2" fill="#ff0000"/>
<polygon points="417.5 24.1 421.9 23.0 417.5 19.8 413.1 21.0" fill="#ff1b00"/>
<polygon points="426.4 26.3 430.7 25.3 426.2 22.0 421.9 23.0" fill="#ff3f00"/>
<polygon points="386.3 20.9 390.9 19.2 386.5 16.4 381.9 18.1" fill="#ff0000"/>
<polygon points="404.2 23.6 408.7 22.2 404.2 19.2 399.8 20.6" fill="#ff0000"/>
<polygon points="413.1 25.4 417.5 24.1 413.1 21.0 408.7 22.2" fill="#ff1e00"/>
<polygon points="430.9 29.7 435.2 28.7 430.7 25.3 426.4 26.3" fill="#ff6500"/>
<polygon points="395.2 22.1 399.8 20.6 395.4 17.7 390.9 19.2" fill="#ff0000"/>
<polygon points="422.0 27.4 426.4 26.3 421.9 23.0 417.5 24.1" fill="#ff3f00"/>
<polygon points="408.7 26.8 413.1 25.4 408.7 22.2 404.2 23.6" fill="#ff2200"/>
<polygon points="381.7 22.7 386.3 20.9 381.9 18.1 377.3 19.9" fill="#ff0000"/>
<polygon points="390.7 23.8 395.2 22.1 390.9 19.2 386.3 20.9" fill="#ff0000"/>
<polygon points="399.7 25.2 404.2 23.6 399.8 20.6 395.2 22.1" fill="#ff0700"/>
<polygon points="417.6 28.7 422.0 27.4 417.5 24.1 413.1 25.4" fill="#ff4100"/>
<polygon points="426.6 30.9 430.9 29.7 426.4 26.3 422.0 27.4" fill="#ff6500"/>
<polygon points="435.5 33.3 439.8 32.3 435.2 28.7 430.9 29.7" fill="#ff8c00"/>
<polygon points="377.0 24.6 381.7 22.7 377.3 19.9 372.7 21.8" fill="#ff0000"/>
<polygon points="395.1 26.8 399.7 25.2 395.2 22.1 390.7 23.8" fill="#ff0f00"/>
<polygon points="404.2 28.3 408.7 26.8 404.2 23.6 399.7 25.2" fill="#ff2800"/>
<polygon points="413.2 30.1 417.6 28.7 413.1 25.4 408.7 26.8" fill="#ff4500"/>
<polygon points="422.2 32.1 426.6 30.9 422.0 27.4 417.6 28.7" fill="#ff6600"/>
<polygon points="440.1 36.9 444.4 35.9 439.8 32.3 435.5 33.3" fill="#ffb500"/>
<polygon points="386.1 25.6 390.7 23.8 386.3 20.9 381.7 22.7" fill="#ff0000"/>
<polygon points="431.2 34.4 435.5 33.3 430.9 29.7 426.6 30.9" fill="#ff8b00"/>
<polygon points="372.3 26.6 377.0 24.6 372.7 21.8 368.0 23.9" fill="#ff0000"/>
<polygon points="399.6 30.0 404.2 28.3 399.7 25.2 395.1 26.8" fill="#ff2f00"/>
<polygon points="417.7 33.5 422.2 32.1 417.6 28.7 413.2 30.1" fill="#ff6900"/>
<polygon points="444.8 40.7 449.1 39.7 444.4 35.9 440.1 36.9" fill="#ffdf00"/>
<polygon points="381.4 27.5 386.1 25.6 381.7 22.7 377.0 24.6" fill="#ff0700"/>
<polygon points="390.5 28.6 395.1 26.8 390.7 23.8 386.1 25.6" fill="#ff1900"/>
<polygon points="408.7 31.6 413.2 30.1 408.7 26.8 404.2 28.3" fill="#ff4a00"/>
<polygon points="426.8 35.6 431.2 34.4 426.6 30.9 422.2 32.1" fill="#ff8c00"/>
<polygon points="435.8 38.1 440.1 36.9 435.5 33.3 431.2 34.4" fill="#ffb400"/>
<polygon points="367.6 28.8 372.3 26.6 368.0 23.9 363.2 26.0" fill="#ff0a00"/>
<polygon points="376.7 29.5 381.4 27.5 377.0 24.6 372.3 26.6" fill="#ff1500"/>
<polygon points="385.9 30.5 390.5 28.6 386.1 25.6 381.4 27.5" fill="#ff2500"/>
<polygon points="395.0 31.7 399.6 30.0 395.1 26.8 390.5 28.6" fill="#ff3900"/>
<polygon points="404.1 33.2 408.7 31.6 404.2 28.3 399.6 30.0" fill="#ff5100"/>
<polygon points="413.2 35.0 417.7 33.5 413.2 30.1 408.7 31.6" fill="#ff6e00"/>
<polygon points="422.3 37.0 426.8 35.6 422.2 32.1 417.7 33.5" fill="#ff8f00"/>
<polygon points="431.4 39.3 435.8 38.1 431.2 34.4 426.8 35.6" fill="#ffb400"/>
<polygon points="440.4 41.8 444.8 40.7 440.1 36.9 435.8 38.1" fill="#ffdd00"/>
<polygon points="449.5 44.6 453.7 43.6 449.1 39.7 444.8 40.7" fill="#f4ff00"/>
<polygon points="362.8 31.1 367.6 28.8 363.2 26.0 358.4 28.4" fill="#ff1c00"/>
<polygon points="381.1 32.5 385.9 30.5 381.4 27.5 376.7 29.5" fill="#ff3300"/>
<polygon points="390.3 33.6 395.0 31.7 390.5 28.6 385.9 30.5" fill="#ff4400"/>
<polygon points="408.7 36.6 413.2 35.0 408.7 31.6 404.1 33.2" fill="#ff7500"/>
<polygon points="426.9 40.7 431.4 39.3 426.8 35.6 422.3 37.0" fill="#ffb600"/>
<polygon points="436.1 43.1 440.4 41.8 435.8 38.1 431.4 39.3" fill="#ffdd00"/>
<polygon points="454.2 48.7 458.5 47.7 453.7 43.6 449.5 44.6" fill="#ccff00"/>
<polygon points="372.0 31.7 376.7 29.5 372.3 26.6 367.6 28.8" fill="#ff2500"/>
<polygon points="399.5 35.0 404.1 33.2 399.6 30.0 395.0 31.7" fill="#ff5a00"/>
<polygon points="417.8 38.5 422.3 37.0 417.7 33.5 413.2 35.0" fill="#ff9300"/>
<polygon points="445.1 45.8 449.5 44.6 444.8 40.7 440.4 41.8" fill="#f6ff00"/>
<polygon points="385.6 35.7 390.3 33.6 385.9 30.5 381.1 32.5" fill="#ff5100"/>
<polygon points="431.6 44.5 436.1 43.1 431.4 39.3 426.9 40.7" fill="#ffdf00"/>
<polygon points="357.9 33.6 362.8 31.1 358.4 28.4 353.6 30.8" fill="#ff3000"/>
<polygon points="459.0 52.8 463.2 51.9 458.5 47.7 454.2 48.7" fill="#a3ff00"/>
<polygon points="367.2 34.0 372.0 31.7 367.6 28.8 362.8 31.1" fill="#ff3700"/>
<polygon points="376.4 34.7 381.1 32.5 376.7 29.5 372.0 31.7" fill="#ff4200"/>
<polygon points="394.9 36.9 399.5 35.0 395.0 31.7 390.3 33.6" fill="#ff6500"/>
<polygon points="404.1 38.4 408.7 36.6 404.1 33.2 399.5 35.0" fill="#ff7d00"/>
<polygon points="413.3 40.1 417.8 38.5 413.2 35.0 408.7 36.6" fill="#ff9a00"/>
<polygon points="422.5 42.2 426.9 40.7 422.3 37.0 417.8 38.5" fill="#ffba00"/>
<polygon points="440.8 47.0 445.1 45.8 440.4 41.8 436.1 43.1" fill="#f7ff00"/>
<polygon points="449.9 49.8 454.2 48.7 449.5 44.6 445.1 45.8" fill="#cfff00"/>
<polygon points="353.0 36.2 357.9 33.6 353.6 30.8 348.7 33.4" fill="#ff4600"/>
<polygon points="463.8 57.1 468.0 56.2 463.2 51.9 459.0 52.8" fill="#79ff00"/>
<polygon points="371.6 37.0 376.4 34.7 372.0 31.7 367.2 34.0" fill="#ff5300"/>
<polygon points="380.9 37.8 385.6 35.7 381.1 32.5 376.4 34.7" fill="#ff6000"/>
<polygon points="390.2 38.9 394.9 36.9 390.3 33.6 385.6 35.7" fill="#ff7200"/>
<polygon points="399.4 40.3 404.1 38.4 399.5 35.0 394.9 36.9" fill="#ff8800"/>
<polygon points="417.9 43.8 422.5 42.2 417.8 38.5 413.3 40.1" fill="#ffc000"/>
<polygon points="427.1 45.9 431.6 44.5 426.9 40.7 422.5 42.2" fill="#ffe200"/>
<polygon points="436.3 48.4 440.8 47.0 436.1 43.1 431.6 44.5" fill="#f6ff00"/>
<polygon points="445.5 51.0 449.9 49.8 445.1 45.8 440.8 47.0" fill="#d0ff00"/>
<polygon points="362.3 36.5 367.2 34.0 362.8 31.1 357.9 33.6" fill="#ff4a00"/>
<polygon points="454.7 54.0 459.0 52.8 454.2 48.7 449.9 49.8" fill="#a6ff00"/>
<polygon points="408.7 41.9 413.3 40.1 408.7 36.6 404.1 38.4" fill="#ffa200"/>
<polygon points="348.1 38.9 353.0 36.2 348.7 33.4 343.8 36.2" fill="#ff5d00"/>
<polygon points="376.1 40.2 380.9 37.8 376.4 34.7 371.6 37.0" fill="#ff7100"/>
<polygon points="394.7 42.3 399.4 40.3 394.9 36.9 390.2 38.9" fill="#ff9400"/>
<polygon points="422.6 47.6 427.1 45.9 422.5 42.2 417.9 43.8" fill="#ffe800"/>
<polygon points="441.1 52.4 445.5 51.0 440.8 47.0 436.3 48.4" fill="#cfff00"/>
<polygon points="468.6 61.6 472.9 60.6 468.0 56.2 463.8 57.1" fill="#4dff00"/>
<polygon points="357.4 39.1 362.3 36.5 357.9 33.6 353.0 36.2" fill="#ff6000"/>
<polygon points="366.7 39.5 371.6 37.0 367.2 34.0 362.3 36.5" fill="#ff6600"/>
<polygon points="450.3 55.2 454.7 54.0 449.9 49.8 445.5 51.0" fill="#a8ff00"/>
<polygon points="459.5 58.2 463.8 57.1 459.0 52.8 454.7 54.0" fill="#7cff00"/>
<polygon points="385.4 41.1 390.2 38.9 385.6 35.7 380.9 37.8" fill="#ff8000"/>
<polygon points="404.0 43.8 408.7 41.9 404.1 38.4 399.4 40.3" fill="#ffac00"/>
<polygon points="413.3 45.6 417.9 43.8 413.3 40.1 408.7 41.9" fill="#ffc800"/>
<polygon points="431.9 49.8 436.3 48.4 431.6 44.5 427.1 45.9" fill="#f3ff00"/>
<polygon points="343.1 41.8 348.1 38.9 343.8 36.2 338.8 39.1" fill="#ff7700"/>
<polygon points="361.9 42.1 366.7 39.5 362.3 36.5 357.4 39.1" fill="#ff7b00"/>
<polygon points="371.2 42.6 376.1 40.2 371.6 37.0 366.7 39.5" fill="#ff8400"/>
<polygon points="445.9 56.6 450.3 55.2 445.5 51.0 441.1 52.4" fill="#a7ff00"/>
<polygon points="455.1 59.5 459.5 58.2 454.7 54.0 450.3 55.2" fill="#7eff00"/>
<polygon points="473.5 66.1 477.7 65.1 472.9 60.6 468.6 61.6" fill="#1fff00"/>
<polygon points="352.5 41.8 357.4 39.1 353.0 36.2 348.1 38.9" fill="#ff7700"/>
<polygon points="380.6 43.4 385.4 41.1 380.9 37.8 376.1 40.2" fill="#ff9100"/>
<polygon points="390.0 44.5 394.7 42.3 390.2 38.9 385.4 41.1" fill="#ffa200"/>
<polygon points="399.3 45.8 404.0 43.8 399.4 40.3 394.7 42.3" fill="#ffb700"/>
<polygon points="408.7 47.4 413.3 45.6 408.7 41.9 404.0 43.8" fill="#ffd100"/>
<polygon points="418.0 49.3 422.6 47.6 417.9 43.8 413.3 45.6" fill="#ffef00"/>
<polygon points="427.3 51.5 431.9 49.8 427.1 45.9 422.6 47.6" fill="#efff00"/>
<polygon points="436.6 53.9 441.1 52.4 436.3 48.4 431.9 49.8" fill="#cdff00"/>
<polygon points="464.3 62.7 468.6 61.6 463.8 57.1 459.5 58.2" fill="#51ff00"/>
<polygon points="366.3 45.2 371.2 42.6 366.7 39.5 361.9 42.1" fill="#ff9800"/>
<polygon points="450.7 60.8 455.1 59.5 450.3 55.2 445.9 56.6" fill="#7eff00"/>
<polygon points="338.1 44.8 343.1 41.8 338.8 39.1 333.8 42.1" fill="#ff9200"/>
<polygon points="356.9 44.8 361.9 42.1 357.4 39.1 352.5 41.8" fill="#ff9200"/>
<polygon points="385.2 46.8 390.0 44.5 385.4 41.1 380.6 43.4" fill="#ffb200"/>
<polygon points="404.0 49.5 408.7 47.4 404.0 43.8 399.3 45.8" fill="#ffdc00"/>
<polygon points="413.4 51.2 418.0 49.3 413.3 45.6 408.7 47.4" fill="#fff800"/>
<polygon points="432.1 55.5 436.6 53.9 431.9 49.8 427.3 51.5" fill="#c9ff00"/>
<polygon points="460.0 63.9 464.3 62.7 459.5 58.2 455.1 59.5" fill="#53ff00"/>
<polygon points="478.4 70.8 482.6 69.8 477.7 65.1 473.5 66.1" fill="#00ff11"/>
<polygon points="347.5 44.7 352.5 41.8 348.1 38.9 343.1 41.8" fill="#ff9000"/>
<polygon points="375.8 45.9 380.6 43.4 376.1 40.2 371.2 42.6" fill="#ffa300"/>
<polygon points="441.4 58.0 445.9 56.6 441.1 52.4 436.6 53.9" fill="#a5ff00"/>
<polygon points="469.2 67.2 473.5 66.1 468.6 61.6 464.3 62.7" fill="#24ff00"/>
<polygon points="394.6 48.0 399.3 45.8 394.7 42.3 390.0 44.5" fill="#ffc500"/>
<polygon points="422.7 53.2 427.3 51.5 422.6 47.6 418.0 49.3" fill="#e9ff00"/>
<polygon points="333.0 48.0 338.1 44.8 333.8 42.1 328.7 45.2" fill="#ffaf00"/>
<polygon points="361.4 47.9 366.3 45.2 361.9 42.1 356.9 44.8" fill="#ffae00"/>
<polygon points="408.7 53.2 413.4 51.2 408.7 47.4 404.0 49.5" fill="#fcff00"/>
<polygon points="455.6 65.3 460.0 63.9 455.1 59.5 450.7 60.8" fill="#53ff00"/>
<polygon points="483.4 75.6 487.6 74.6 482.6 69.8 478.4 70.8" fill="#00ff45"/>
<polygon points="351.9 47.7 356.9 44.8 352.5 41.8 347.5 44.7" fill="#ffaa00"/>
<polygon points="370.9 48.4 375.8 45.9 371.2 42.6 366.3 45.2" fill="#ffb700"/>
<polygon points="380.3 49.2 385.2 46.8 380.6 43.4 375.8 45.9" fill="#ffc300"/>
<polygon points="436.9 59.7 441.4 58.0 436.6 53.9 432.1 55.5" fill="#a2ff00"/>
<polygon points="446.3 62.3 450.7 60.8 445.9 56.6 441.4 58.0" fill="#7dff00"/>
<polygon points="464.9 68.5 469.2 67.2 464.3 62.7 460.0 63.9" fill="#26ff00"/>
<polygon points="342.5 47.7 347.5 44.7 343.1 41.8 338.1 44.8" fill="#ffaa00"/>
<polygon points="389.8 50.3 394.6 48.0 390.0 44.5 385.2 46.8" fill="#ffd400"/>
<polygon points="399.2 51.6 404.0 49.5 399.3 45.8 394.6 48.0" fill="#ffe900"/>
<polygon points="418.1 55.1 422.7 53.2 418.0 49.3 413.4 51.2" fill="#e2ff00"/>
<polygon points="427.5 57.3 432.1 55.5 427.3 51.5 422.7 53.2" fill="#c4ff00"/>
<polygon points="474.2 71.9 478.4 70.8 473.5 66.1 469.2 67.2" fill="#00ff0b"/>
<polygon points="327.9 51.3 333.0 48.0 328.7 45.2 323.6 48.6" fill="#ffce00"/>
<polygon points="356.4 50.8 361.4 47.9 356.9 44.8 351.9 47.7" fill="#ffc600"/>
<polygon points="375.4 51.8 380.3 49.2 375.8 45.9 370.9 48.4" fill="#ffd700"/>
<polygon points="441.8 64.0 446.3 62.3 441.4 58.0 436.9 59.7" fill="#7aff00"/>
<polygon points="460.5 69.8 464.9 68.5 460.0 63.9 455.6 65.3" fill="#27ff00"/>
<polygon points="488.4 80.6 492.6 79.6 487.6 74.6 483.4 75.6" fill="#00ff7b"/>
<polygon points="337.4 50.9 342.5 47.7 338.1 44.8 333.0 48.0" fill="#ffc700"/>
<polygon points="346.9 50.7 351.9 47.7 347.5 44.7 342.5 47.7" fill="#ffc400"/>
<polygon points="365.9 51.2 370.9 48.4 366.3 45.2 361.4 47.9" fill="#ffcc00"/>
<polygon points="394.4 53.9 399.2 51.6 394.6 48.0 389.8 50.3" fill="#fff800"/>
<polygon points="403.9 55.4 408.7 53.2 404.0 49.5 399.2 51.6" fill="#f1ff00"/>
<polygon points="413.4 57.1 418.1 55.1 413.4 51.2 408.7 53.2" fill="#d9ff00"/>
<polygon points="422.9 59.1 427.5 57.3 422.7 53.2 418.1 55.1" fill="#bdff00"/>
<polygon points="451.1 66.8 455.6 65.3 450.7 60.8 446.3 62.3" fill="#52ff00"/>
<polygon points="469.8 73.2 474.2 71.9 469.2 67.2 464.9 68.5" fill="#00ff08"/>
<polygon points="479.1 76.7 483.4 75.6 478.4 70.8 474.2 71.9" fill="#00ff3f"/>
<polygon points="384.9 52.7 389.8 50.3 385.2 46.8 380.3 49.2" fill="#ffe500"/>
<polygon points="432.3 61.4 436.9 59.7 432.1 55.5 427.5 57.3" fill="#9dff00"/>
<polygon points="322.7 54.8 327.9 51.3 323.6 48.6 318.4 52.0" fill="#ffee00"/>
<polygon points="341.8 53.9 346.9 50.7 342.5 47.7 337.4 50.9" fill="#ffe000"/>
<polygon points="351.4 53.8 356.4 50.8 351.9 47.7 346.9 50.7" fill="#ffe000"/>
<polygon points="370.5 54.5 375.4 51.8 370.9 48.4 365.9 51.2" fill="#ffec00"/>
<polygon points="399.1 57.7 403.9 55.4 399.2 51.6 394.4 53.9" fill="#e4ff00"/>
<polygon points="418.2 61.2 422.9 59.1 418.1 55.1 413.4 57.1" fill="#b4ff00"/>
<polygon points="446.6 68.4 451.1 66.8 446.3 62.3 441.8 64.0" fill="#50ff00"/>
<polygon points="465.5 74.5 469.8 73.2 464.9 68.5 460.5 69.8" fill="#00ff06"/>
<polygon points="474.8 78.0 479.1 76.7 474.2 71.9 469.8 73.2" fill="#00ff3c"/>
<polygon points="493.4 85.7 497.6 84.7 492.6 79.6 488.4 80.6" fill="#00ffb2"/>
<polygon points="332.3 54.2 337.4 50.9 333.0 48.0 327.9 51.3" fill="#ffe500"/>
<polygon points="360.9 54.0 365.9 51.2 361.4 47.9 356.4 50.8" fill="#ffe400"/>
<polygon points="380.0 55.3 384.9 52.7 380.3 49.2 375.4 51.8" fill="#fff800"/>
<polygon points="389.6 56.4 394.4 53.9 389.8 50.3 384.9 52.7" fill="#f7ff00"/>
<polygon points="427.7 63.3 432.3 61.4 427.5 57.3 422.9 59.1" fill="#97ff00"/>
<polygon points="437.2 65.7 441.8 64.0 436.9 59.7 432.3 61.4" fill="#75ff00"/>
<polygon points="456.1 71.3 460.5 69.8 455.6 65.3 451.1 66.8" fill="#27ff00"/>
<polygon points="484.1 81.7 488.4 80.6 483.4 75.6 479.1 76.7" fill="#00ff75"/>
<polygon points="408.7 59.3 413.4 57.1 408.7 53.2 403.9 55.4" fill="#ceff00"/>
<polygon points="317.5 58.4 322.7 54.8 318.4 52.0 313.2 55.6" fill="#efff00"/>
<polygon points="346.3 57.0 351.4 53.8 346.9 50.7 341.8 53.9" fill="#fffb00"/>
<polygon points="470.5 79.3 474.8 78.0 469.8 73.2 465.5 74.5" fill="#00ff39"/>
<polygon points="498.5 90.9 502.6 89.9 497.6 84.7 493.4 85.7" fill="#00ffeb"/>
<polygon points="336.7 57.2 341.8 53.9 337.4 50.9 332.3 54.2" fill="#fffe00"/>
<polygon points="365.5 57.4 370.5 54.5 365.9 51.2 360.9 54.0" fill="#fcff00"/>
<polygon points="384.7 59.0 389.6 56.4 384.9 52.7 380.0 55.3" fill="#e6ff00"/>
<polygon points="394.3 60.2 399.1 57.7 394.4 53.9 389.6 56.4" fill="#d6ff00"/>
<polygon points="423.0 65.3 427.7 63.3 422.9 59.1 418.2 61.2" fill="#8eff00"/>
<polygon points="432.6 67.6 437.2 65.7 432.3 61.4 427.7 63.3" fill="#6fff00"/>
<polygon points="451.6 72.9 456.1 71.3 451.1 66.8 446.6 68.4" fill="#25ff00"/>
<polygon points="479.8 82.9 484.1 81.7 479.1 76.7 474.8 78.0" fill="#00ff71"/>
<polygon points="327.1 57.6 332.3 54.2 327.9 51.3 322.7 54.8" fill="#f9ff00"/>
<polygon points="355.9 57.1 360.9 54.0 356.4 50.8 351.4 53.8" fill="#fffd00"/>
<polygon points="375.1 58.1 380.0 55.3 375.4 51.8 370.5 54.5" fill="#f3ff00"/>
<polygon points="403.9 61.6 408.7 59.3 403.9 55.4 399.1 57.7" fill="#c2ff00"/>
<polygon points="413.5 63.3 418.2 61.2 413.4 57.1 408.7 59.3" fill="#aaff00"/>
<polygon points="442.1 70.1 446.6 68.4 441.8 64.0 437.2 65.7" fill="#4cff00"/>
<polygon points="461.0 76.0 465.5 74.5 460.5 69.8 456.1 71.3" fill="#00ff06"/>
<polygon points="489.2 86.8 493.4 85.7 488.4 80.6 484.1 81.7" fill="#00ffac"/>
<polygon points="312.3 62.1 317.5 58.4 313.2 55.6 308.0 59.4" fill="#cfff00"/>
<polygon points="341.1 60.3 346.3 57.0 341.8 53.9 336.7 57.2" fill="#e8ff00"/>
<polygon points="389.4 62.7 394.3 60.2 389.6 56.4 384.7 59.0" fill="#c6ff00"/>
<polygon points="427.9 69.6 432.6 67.6 427.7 63.3 423.0 65.3" fill="#67ff00"/>
<polygon points="475.5 84.3 479.8 82.9 474.8 78.0 470.5 79.3" fill="#00ff6e"/>
<polygon points="503.6 96.2 507.7 95.2 502.6 89.9 498.5 90.9" fill="#00d7ff"/>
<polygon points="321.9 61.3 327.1 57.6 322.7 54.8 317.5 58.4" fill="#dbff00"/>
<polygon points="331.5 60.6 336.7 57.2 332.3 54.2 327.1 57.6" fill="#e4ff00"/>
<polygon points="350.8 60.2 355.9 57.1 351.4 53.8 346.3 57.0" fill="#e9ff00"/>
<polygon points="360.4 60.4 365.5 57.4 360.9 54.0 355.9 57.1" fill="#e6ff00"/>
<polygon points="379.8 61.7 384.7 59.0 380.0 55.3 375.1 58.1" fill="#d4ff00"/>
<polygon points="408.7 65.6 413.5 63.3 408.7 59.3 403.9 61.6" fill="#9eff00"/>
<polygon points="437.5 72.0 442.1 70.1 437.2 65.7 432.6 67.6" fill="#46ff00"/>
<polygon points="456.6 77.6 461.0 76.0 456.1 71.3 451.6 72.9" fill="#00ff08"/>
<polygon points="466.0 80.8 470.5 79.3 465.5 74.5 461.0 76.0" fill="#00ff39"/>
<polygon points="484.9 88.0 489.2 86.8 484.1 81.7 479.8 82.9" fill="#00ffa7"/>
<polygon points="494.3 92.0 498.5 90.9 493.4 85.7 489.2 86.8" fill="#00ffe4"/>
<polygon points="370.1 60.9 375.1 58.1 370.5 54.5 365.5 57.4" fill="#dfff00"/>
<polygon points="399.1 64.1 403.9 61.6 399.1 57.7 394.3 60.2" fill="#b4ff00"/>
<polygon points="418.3 67.5 423.0 65.3 418.2 61.2 413.5 63.3" fill="#85ff00"/>
<polygon points="447.0 74.7 451.6 72.9 446.6 68.4 442.1 70.1" fill="#21ff00"/>
<polygon points="306.9 66.1 312.3 62.1 308.0 59.4 302.7 63.3" fill="#aeff00"/>
<polygon points="326.3 64.3 331.5 60.6 327.1 57.6 321.9 61.3" fill="#c6ff00"/>
<polygon points="335.9 63.8 341.1 60.3 336.7 57.2 331.5 60.6" fill="#cdff00"/>
<polygon points="355.3 63.6 360.4 60.4 355.9 57.1 350.8 60.2" fill="#ceff00"/>
<polygon points="384.5 65.5 389.4 62.7 384.7 59.0 379.8 61.7" fill="#b5ff00"/>
<polygon points="432.8 74.1 437.5 72.0 432.6 67.6 427.9 69.6" fill="#3fff00"/>
<polygon points="461.6 82.5 466.0 80.8 461.0 76.0 456.6 77.6" fill="#00ff3a"/>
<polygon points="480.6 89.4 484.9 88.0 479.8 82.9 475.5 84.3" fill="#00ffa4"/>
<polygon points="490.0 93.3 494.3 92.0 489.2 86.8 484.9 88.0" fill="#00ffdf"/>
<polygon points="508.7 101.7 512.9 100.7 507.7 95.2 503.6 96.2" fill="#009aff"/>
<polygon points="316.6 65.0 321.9 61.3 317.5 58.4 312.3 62.1" fill="#bcff00"/>
<polygon points="345.6 63.5 350.8 60.2 346.3 57.0 341.1 60.3" fill="#cfff00"/>
<polygon points="374.8 64.6 379.8 61.7 375.1 58.1 370.1 60.9" fill="#c1ff00"/>
<polygon points="394.2 66.6 399.1 64.1 394.3 60.2 389.4 62.7" fill="#a5ff00"/>
<polygon points="403.8 68.1 408.7 65.6 403.9 61.6 399.1 64.1" fill="#91ff00"/>
<polygon points="413.5 69.8 418.3 67.5 413.5 63.3 408.7 65.6" fill="#79ff00"/>
<polygon points="423.2 71.8 427.9 69.6 423.0 65.3 418.3 67.5" fill="#5eff00"/>
<polygon points="442.4 76.6 447.0 74.7 442.1 70.1 437.5 72.0" fill="#1cff00"/>
<polygon points="471.1 85.8 475.5 84.3 470.5 79.3 466.0 80.8" fill="#00ff6d"/>
<polygon points="499.4 97.4 503.6 96.2 498.5 90.9 494.3 92.0" fill="#00dfff"/>
<polygon points="365.0 64.0 370.1 60.9 365.5 57.4 360.4 60.4" fill="#caff00"/>
<polygon points="452.0 79.4 456.6 77.6 451.6 72.9 447.0 74.7" fill="#00ff0c"/>
<polygon points="330.7 67.4 335.9 63.8 331.5 60.6 326.3 64.3" fill="#b0ff00"/>
<polygon points="485.7 94.6 490.0 93.3 484.9 88.0 480.6 89.4" fill="#00ffdb"/>
<polygon points="321.0 68.0 326.3 64.3 321.9 61.3 316.6 65.0" fill="#a7ff00"/>
<polygon points="350.2 66.9 355.3 63.6 350.8 60.2 345.6 63.5" fill="#b5ff00"/>
<polygon points="379.5 68.3 384.5 65.5 379.8 61.7 374.8 64.6" fill="#a2ff00"/>
<polygon points="399.0 70.7 403.8 68.1 399.1 64.1 394.2 66.6" fill="#82ff00"/>
<polygon points="418.4 74.1 423.2 71.8 418.3 67.5 413.5 69.8" fill="#53ff00"/>
<polygon points="437.8 78.6 442.4 76.6 437.5 72.0 432.8 74.1" fill="#15ff00"/>
<polygon points="466.6 87.5 471.1 85.8 466.0 80.8 461.6 82.5" fill="#00ff6e"/>
<polygon points="495.1 98.6 499.4 97.4 494.3 92.0 490.0 93.3" fill="#00e5ff"/>
<polygon points="311.3 68.9 316.6 65.0 312.3 62.1 306.9 66.1" fill="#9bff00"/>
<polygon points="340.4 67.0 345.6 63.5 341.1 60.3 335.9 63.8" fill="#b4ff00"/>
<polygon points="359.9 67.1 365.0 64.0 360.4 60.4 355.3 63.6" fill="#b3ff00"/>
<polygon points="369.7 67.6 374.8 64.6 370.1 60.9 365.0 64.0" fill="#acff00"/>
<polygon points="389.2 69.4 394.2 66.6 389.4 62.7 384.5 65.5" fill="#94ff00"/>
<polygon points="408.7 72.3 413.5 69.8 408.7 65.6 403.8 68.1" fill="#6cff00"/>
<polygon points="428.1 76.2 432.8 74.1 427.9 69.6 423.2 71.8" fill="#36ff00"/>
<polygon points="447.4 81.3 452.0 79.4 447.0 74.7 442.4 76.6" fill="#00ff11"/>
<polygon points="457.0 84.3 461.6 82.5 456.6 77.6 452.0 79.4" fill="#00ff3e"/>
<polygon points="476.2 90.9 480.6 89.4 475.5 84.3 471.1 85.8" fill="#00ffa3"/>
<polygon points="504.6 102.9 508.7 101.7 503.6 96.2 499.4 97.4" fill="#00a2ff"/>
<polygon points="325.4 71.2 330.7 67.4 326.3 64.3 321.0 68.0" fill="#91ff00"/>
<polygon points="490.8 100.0 495.1 98.6 490.0 93.3 485.7 94.6" fill="#00e9ff"/>
<polygon points="315.7 71.9 321.0 68.0 316.6 65.0 311.3 68.9" fill="#86ff00"/>
<polygon points="335.2 70.6 340.4 67.0 335.9 63.8 330.7 67.4" fill="#98ff00"/>
<polygon points="345.0 70.4 350.2 66.9 345.6 63.5 340.4 67.0" fill="#9bff00"/>
<polygon points="364.6 70.8 369.7 67.6 365.0 64.0 359.9 67.1" fill="#95ff00"/>
<polygon points="374.4 71.4 379.5 68.3 374.8 64.6 369.7 67.6" fill="#8dff00"/>
<polygon points="394.0 73.4 399.0 70.7 394.2 66.6 389.2 69.4" fill="#71ff00"/>
<polygon points="403.8 74.9 408.7 72.3 403.8 68.1 399.0 70.7" fill="#5eff00"/>
<polygon points="413.6 76.6 418.4 74.1 413.5 69.8 408.7 72.3" fill="#46ff00"/>
<polygon points="423.3 78.6 428.1 76.2 423.2 71.8 418.4 74.1" fill="#2bff00"/>
<polygon points="442.8 83.4 447.4 81.3 442.4 76.6 437.8 78.6" fill="#00ff18"/>
<polygon points="452.5 86.2 457.0 84.3 452.0 79.4 447.4 81.3" fill="#00ff42"/>
<polygon points="471.7 92.6 476.2 90.9 471.1 85.8 466.6 87.5" fill="#00ffa3"/>
<polygon points="481.3 96.2 485.7 94.6 480.6 89.4 476.2 90.9" fill="#00ffda"/>
<polygon points="500.3 104.1 504.6 102.9 499.4 97.4 495.1 98.6" fill="#00a8ff"/>
<polygon points="354.8 70.4 359.9 67.1 355.3 63.6 350.2 66.9" fill="#9aff00"/>
<polygon points="384.2 72.3 389.2 69.4 384.5 65.5 379.5 68.3" fill="#81ff00"/>
<polygon points="433.1 80.8 437.8 78.6 432.8 74.1 428.1 76.2" fill="#0cff00"/>
<polygon points="462.1 89.2 466.6 87.5 461.6 82.5 457.0 84.3" fill="#00ff71"/>
<polygon points="320.1 75.1 325.4 71.2 321.0 68.0 315.7 71.9" fill="#71ff00"/>
<polygon points="339.8 74.0 345.0 70.4 340.4 67.0 335.2 70.6" fill="#7eff00"/>
<polygon points="369.3 74.6 374.4 71.4 369.7 67.6 364.6 70.8" fill="#77ff00"/>
<polygon points="408.7 79.2 413.6 76.6 408.7 72.3 403.8 74.9" fill="#38ff00"/>
<polygon points="447.8 88.2 452.5 86.2 447.4 81.3 442.8 83.4" fill="#00ff49"/>
<polygon points="476.9 97.8 481.3 96.2 476.2 90.9 471.7 92.6" fill="#00ffda"/>
<polygon points="496.0 105.5 500.3 104.1 495.1 98.6 490.8 100.0" fill="#00adff"/>
<polygon points="329.9 74.4 335.2 70.6 330.7 67.4 325.4 71.2" fill="#79ff00"/>
<polygon points="359.5 74.1 364.6 70.8 359.9 67.1 354.8 70.4" fill="#7dff00"/>
<polygon points="389.0 76.3 394.0 73.4 389.2 69.4 384.2 72.3" fill="#5fff00"/>
<polygon points="398.9 77.6 403.8 74.9 399.0 70.7 394.0 73.4" fill="#4eff00"/>
<polygon points="418.5 81.0 423.3 78.6 418.4 74.1 413.6 76.6" fill="#1fff00"/>
<polygon points="428.3 83.1 433.1 80.8 428.1 76.2 423.3 78.6" fill="#02ff00"/>
<polygon points="457.5 91.1 462.1 89.2 457.0 84.3 452.5 86.2" fill="#00ff75"/>
<polygon points="486.5 101.5 490.8 100.0 485.7 94.6 481.3 96.2" fill="#00ebff"/>
<polygon points="349.6 73.9 354.8 70.4 350.2 66.9 345.0 70.4" fill="#80ff00"/>
<polygon points="379.2 75.3 384.2 72.3 379.5 68.3 374.4 71.4" fill="#6dff00"/>
<polygon points="438.1 85.5 442.8 83.4 437.8 78.6 433.1 80.8" fill="#00ff21"/>
<polygon points="467.2 94.3 471.7 92.6 466.6 87.5 462.1 89.2" fill="#00ffa5"/>
<polygon points="334.5 77.8 339.8 74.0 335.2 70.6 329.9 74.4" fill="#61ff00"/>
<polygon points="364.2 77.9 369.3 74.6 364.6 70.8 359.5 74.1" fill="#5fff00"/>
<polygon points="403.8 81.9 408.7 79.2 403.8 74.9 398.9 77.6" fill="#29ff00"/>
<polygon points="413.6 83.6 418.5 81.0 413.6 76.6 408.7 79.2" fill="#12ff00"/>
<polygon points="452.9 93.2 457.5 91.1 452.5 86.2 447.8 88.2" fill="#00ff7b"/>
<polygon points="482.0 103.2 486.5 101.5 481.3 96.2 476.9 97.8" fill="#00ecff"/>
<polygon points="324.6 78.3 329.9 74.4 325.4 71.2 320.1 75.1" fill="#5aff00"/>
<polygon points="344.4 77.6 349.6 73.9 345.0 70.4 339.8 74.0" fill="#64ff00"/>
<polygon points="354.3 77.6 359.5 74.1 354.8 70.4 349.6 73.9" fill="#63ff00"/>
<polygon points="374.1 78.5 379.2 75.3 374.4 71.4 369.3 74.6" fill="#57ff00"/>
<polygon points="384.0 79.3 389.0 76.3 384.2 72.3 379.2 75.3" fill="#4bff00"/>
<polygon points="393.9 80.5 398.9 77.6 394.0 73.4 389.0 76.3" fill="#3cff00"/>
<polygon points="423.5 85.6 428.3 83.1 423.3 78.6 418.5 81.0" fill="#00ff0a"/>
<polygon points="433.3 87.9 438.1 85.5 433.1 80.8 428.3 83.1" fill="#00ff2c"/>
<polygon points="443.1 90.4 447.8 88.2 442.8 83.4 438.1 85.5" fill="#00ff51"/>
<polygon points="462.7 96.3 467.2 94.3 462.1 89.2 457.5 91.1" fill="#00ffa9"/>
<polygon points="472.4 99.6 476.9 97.8 471.7 92.6 467.2 94.3" fill="#00ffdb"/>
<polygon points="491.7 107.1 496.0 105.5 490.8 100.0 486.5 101.5" fill="#00b0ff"/>
<polygon points="329.1 81.8 334.5 77.8 329.9 74.4 324.6 78.3" fill="#41ff00"/>
<polygon points="349.0 81.2 354.3 77.6 349.6 73.9 344.4 77.6" fill="#48ff00"/>
<polygon points="359.0 81.4 364.2 77.9 359.5 74.1 354.3 77.6" fill="#46ff00"/>
<polygon points="378.9 82.5 384.0 79.3 379.2 75.3 374.1 78.5" fill="#36ff00"/>
<polygon points="398.8 84.8 403.8 81.9 398.9 77.6 393.9 80.5" fill="#17ff00"/>
<polygon points="408.7 86.4 413.6 83.6 408.7 79.2 403.8 81.9" fill="#02ff00"/>
<polygon points="418.6 88.2 423.5 85.6 418.5 81.0 413.6 83.6" fill="#00ff19"/>
<polygon points="438.4 92.7 443.1 90.4 438.1 85.5 433.3 87.9" fill="#00ff5c"/>
<polygon points="458.0 98.3 462.7 96.3 457.5 91.1 452.9 93.2" fill="#00ffaf"/>
<polygon points="467.8 101.5 472.4 99.6 467.2 94.3 462.7 96.3" fill="#00ffdf"/>
<polygon points="487.3 108.7 491.7 107.1 486.5 101.5 482.0 103.2" fill="#00b1ff"/>
<polygon points="339.1 81.3 344.4 77.6 339.8 74.0 334.5 77.8" fill="#46ff00"/>
<polygon points="368.9 81.8 374.1 78.5 369.3 74.6 364.2 77.9" fill="#40ff00"/>
<polygon points="388.8 83.5 393.9 80.5 389.0 76.3 384.0 79.3" fill="#29ff00"/>
<polygon points="428.5 90.3 433.3 87.9 428.3 83.1 423.5 85.6" fill="#00ff38"/>
<polygon points="448.2 95.4 452.9 93.2 447.8 88.2 443.1 90.4" fill="#00ff83"/>
<polygon points="477.6 105.0 482.0 103.2 476.9 97.8 472.4 99.6" fill="#00ebff"/>
<polygon points="353.7 85.0 359.0 81.4 354.3 77.6 349.0 81.2" fill="#2bff00"/>
<polygon points="463.2 103.6 467.8 101.5 462.7 96.3 458.0 98.3" fill="#00ffe4"/>
<polygon points="343.7 85.0 349.0 81.2 344.4 77.6 339.1 81.3" fill="#2bff00"/>
<polygon points="373.7 85.9 378.9 82.5 374.1 78.5 368.9 81.8" fill="#1fff00"/>
<polygon points="383.7 86.7 388.8 83.5 384.0 79.3 378.9 82.5" fill="#14ff00"/>
<polygon points="393.7 87.9 398.8 84.8 393.9 80.5 388.8 83.5" fill="#04ff00"/>
<polygon points="403.7 89.3 408.7 86.4 403.8 81.9 398.8 84.8" fill="#00ff10"/>
<polygon points="413.7 91.0 418.6 88.2 413.6 83.6 408.7 86.4" fill="#00ff29"/>
<polygon points="423.6 92.9 428.5 90.3 423.5 85.6 418.6 88.2" fill="#00ff46"/>
<polygon points="433.6 95.2 438.4 92.7 433.3 87.9 428.5 90.3" fill="#00ff67"/>
<polygon points="443.5 97.7 448.2 95.4 443.1 90.4 438.4 92.7" fill="#00ff8d"/>
<polygon points="473.0 106.9 477.6 105.0 472.4 99.6 467.8 101.5" fill="#00e8ff"/>
<polygon points="333.7 85.3 339.1 81.3 334.5 77.8 329.1 81.8" fill="#27ff00"/>
<polygon points="363.7 85.3 368.9 81.8 364.2 77.9 359.0 81.4" fill="#27ff00"/>
<polygon points="453.4 100.5 458.0 98.3 452.9 93.2 448.2 95.4" fill="#00ffb6"/>
<polygon points="482.8 110.5 487.3 108.7 482.0 103.2 477.6 105.0" fill="#00b0ff"/>
<polygon points="348.4 88.8 353.7 85.0 349.0 81.2 343.7 85.0" fill="#0eff00"/>
<polygon points="388.6 91.1 393.7 87.9 388.8 83.5 383.7 86.7" fill="#00ff12"/>
<polygon points="428.7 97.8 433.6 95.2 428.5 90.3 423.6 92.9" fill="#00ff75"/>
<polygon points="468.4 109.0 473.0 106.9 467.8 101.5 463.2 103.6" fill="#00e3ff"/>
<polygon points="338.3 89.0 343.7 85.0 339.1 81.3 333.7 85.3" fill="#0cff00"/>
<polygon points="358.4 88.9 363.7 85.3 359.0 81.4 353.7 85.0" fill="#0cff00"/>
<polygon points="368.5 89.4 373.7 85.9 368.9 81.8 363.7 85.3" fill="#07ff00"/>
<polygon points="378.6 90.1 383.7 86.7 378.9 82.5 373.7 85.9" fill="#00ff03"/>
<polygon points="398.7 92.3 403.7 89.3 398.8 84.8 393.7 87.9" fill="#00ff24"/>
<polygon points="408.7 93.9 413.7 91.0 408.7 86.4 403.7 89.3" fill="#00ff3b"/>
<polygon points="418.7 95.7 423.6 92.9 418.6 88.2 413.7 91.0" fill="#00ff56"/>
<polygon points="438.7 100.2 443.5 97.7 438.4 92.7 433.6 95.2" fill="#00ff98"/>
<polygon points="448.6 102.9 453.4 100.5 448.2 95.4 443.5 97.7" fill="#00ffbf"/>
<polygon points="458.6 105.8 463.2 103.6 458.0 98.3 453.4 100.5" fill="#00ffeb"/>
<polygon points="478.3 112.5 482.8 110.5 477.6 105.0 473.0 106.9" fill="#00adff"/>
<polygon points="343.0 92.8 348.4 88.8 343.7 85.0 338.3 89.0" fill="#00ff11"/>
<polygon points="363.2 93.0 368.5 89.4 363.7 85.3 358.4 88.9" fill="#00ff15"/>
<polygon points="383.5 94.4 388.6 91.1 383.7 86.7 378.6 90.1" fill="#00ff2a"/>
<polygon points="393.6 95.5 398.7 92.3 393.7 87.9 388.6 91.1" fill="#00ff3a"/>
<polygon points="423.8 100.6 428.7 97.8 423.6 92.9 418.7 95.7" fill="#00ff84"/>
<polygon points="433.8 102.8 438.7 100.2 433.6 95.2 428.7 97.8" fill="#00ffa5"/>
<polygon points="453.8 108.2 458.6 105.8 453.4 100.5 448.6 102.9" fill="#00fff4"/>
<polygon points="473.7 114.6 478.3 112.5 473.0 106.9 468.4 109.0" fill="#00a9ff"/>
<polygon points="353.1 92.8 358.4 88.9 353.7 85.0 348.4 88.8" fill="#00ff11"/>
<polygon points="373.4 93.6 378.6 90.1 373.7 85.9 368.5 89.4" fill="#00ff1e"/>
<polygon points="403.7 96.9 408.7 93.9 403.7 89.3 398.7 92.3" fill="#00ff4f"/>
<polygon points="413.7 98.6 418.7 95.7 413.7 91.0 408.7 93.9" fill="#00ff68"/>
<polygon points="443.8 105.4 448.6 102.9 443.5 97.7 438.7 100.2" fill="#00ffca"/>
<polygon points="463.8 111.2 468.4 109.0 463.2 103.6 458.6 105.8" fill="#00dcff"/>
<polygon points="357.9 96.8 363.2 93.0 358.4 88.9 353.1 92.8" fill="#00ff34"/>
<polygon points="368.1 97.2 373.4 93.6 368.5 89.4 363.2 93.0" fill="#00ff3a"/>
<polygon points="378.3 97.9 383.5 94.4 378.6 90.1 373.4 93.6" fill="#00ff44"/>
<polygon points="388.4 98.9 393.6 95.5 388.6 91.1 383.5 94.4" fill="#00ff52"/>
<polygon points="398.6 100.2 403.7 96.9 398.7 92.3 393.6 95.5" fill="#00ff64"/>
<polygon points="418.8 103.5 423.8 100.6 418.7 95.7 413.7 98.6" fill="#00ff95"/>
<polygon points="428.9 105.6 433.8 102.8 428.7 97.8 423.8 100.6" fill="#00ffb4"/>
<polygon points="439.0 108.0 443.8 105.4 438.7 100.2 433.8 102.8" fill="#00ffd7"/>
<polygon points="449.1 110.7 453.8 108.2 448.6 102.9 443.8 105.4" fill="#00fffe"/>
<polygon points="459.1 113.6 463.8 111.2 458.6 105.8 453.8 108.2" fill="#00d3ff"/>
<polygon points="347.8 96.7 353.1 92.8 348.4 88.8 343.0 92.8" fill="#00ff32"/>
<polygon points="408.7 101.7 413.7 98.6 408.7 93.9 403.7 96.9" fill="#00ff7b"/>
<polygon points="469.1 116.8 473.7 114.6 468.4 109.0 463.8 111.2" fill="#00a3ff"/>
<polygon points="373.0 101.6 378.3 97.9 373.4 93.6 368.1 97.2" fill="#00ff60"/>
<polygon points="444.2 113.3 449.1 110.7 443.8 105.4 439.0 108.0" fill="#00f3ff"/>
<polygon points="352.6 100.8 357.9 96.8 353.1 92.8 347.8 96.7" fill="#00ff54"/>
<polygon points="362.8 101.1 368.1 97.2 363.2 93.0 357.9 96.8" fill="#00ff58"/>
<polygon points="383.2 102.4 388.4 98.9 383.5 94.4 378.3 97.9" fill="#00ff6c"/>
<polygon points="393.4 103.5 398.6 100.2 393.6 95.5 388.4 98.9" fill="#00ff7c"/>
<polygon points="403.6 104.9 408.7 101.7 403.7 96.9 398.6 100.2" fill="#00ff90"/>
<polygon points="413.8 106.6 418.8 103.5 413.7 98.6 408.7 101.7" fill="#00ffa8"/>
<polygon points="424.0 108.6 428.9 105.6 423.8 100.6 418.8 103.5" fill="#00ffc5"/>
<polygon points="434.1 110.8 439.0 108.0 433.8 102.8 428.9 105.6" fill="#00ffe5"/>
<polygon points="454.3 116.1 459.1 113.6 453.8 108.2 449.1 110.7" fill="#00c9ff"/>
<polygon points="464.4 119.2 469.1 116.8 463.8 111.2 459.1 113.6" fill="#009bff"/>
<polygon points="357.4 105.0 362.8 101.1 357.9 96.8 352.6 100.8" fill="#00ff77"/>
<polygon points="367.7 105.4 373.0 101.6 368.1 97.2 362.8 101.1" fill="#00ff7d"/>
<polygon points="377.9 106.1 383.2 102.4 378.3 97.9 373.0 101.6" fill="#00ff87"/>
<polygon points="388.2 107.1 393.4 103.5 388.4 98.9 383.2 102.4" fill="#00ff95"/>
<polygon points="398.5 108.3 403.6 104.9 398.6 100.2 393.4 103.5" fill="#00ffa7"/>
<polygon points="408.7 109.8 413.8 106.6 408.7 101.7 403.6 104.9" fill="#00ffbd"/>
<polygon points="418.9 111.6 424.0 108.6 418.8 103.5 413.8 106.6" fill="#00ffd7"/>
<polygon points="429.1 113.7 434.1 110.8 428.9 105.6 424.0 108.6" fill="#00fff6"/>
<polygon points="439.3 116.1 444.2 113.3 439.0 108.0 434.1 110.8" fill="#00e5ff"/>
<polygon points="449.5 118.8 454.3 116.1 449.1 110.7 444.2 113.3" fill="#00bdff"/>
<polygon points="459.6 121.7 464.4 119.2 459.1 113.6 454.3 116.1" fill="#0091ff"/>
<polygon points="362.3 109.4 367.7 105.4 362.8 101.1 357.4 105.0" fill="#00ff9c"/>
<polygon points="372.6 109.9 377.9 106.1 373.0 101.6 367.7 105.4" fill="#00ffa4"/>
<polygon points="382.9 110.8 388.2 107.1 383.2 102.4 377.9 106.1" fill="#00ffaf"/>
<polygon points="403.6 113.2 408.7 109.8 403.6 104.9 398.5 108.3" fill="#00ffd3"/>
<polygon points="413.8 114.9 418.9 111.6 413.8 106.6 408.7 109.8" fill="#00ffeb"/>
<polygon points="434.4 119.1 439.3 116.1 434.1 110.8 429.1 113.7" fill="#00d5ff"/>
<polygon points="444.6 121.6 449.5 118.8 444.2 113.3 439.3 116.1" fill="#00afff"/>
<polygon points="454.8 124.4 459.6 121.7 454.3 116.1 449.5 118.8" fill="#0085ff"/>
<polygon points="393.3 111.8 398.5 108.3 393.4 103.5 388.2 107.1" fill="#00ffbf"/>
<polygon points="424.1 116.8 429.1 113.7 424.0 108.6 418.9 111.6" fill="#00f6ff"/>
<polygon points="367.3 114.0 372.6 109.9 367.7 105.4 362.3 109.4" fill="#00ffc2"/>
<polygon points="377.6 114.6 382.9 110.8 377.9 106.1 372.6 109.9" fill="#00ffcc"/>
<polygon points="388.0 115.5 393.3 111.8 388.2 107.1 382.9 110.8" fill="#00ffda"/>
<polygon points="398.4 116.8 403.6 113.2 398.5 108.3 393.3 111.8" fill="#00ffeb"/>
<polygon points="408.7 118.3 413.8 114.9 408.7 109.8 403.6 113.2" fill="#00fdff"/>
<polygon points="419.0 120.1 424.1 116.8 418.9 111.6 413.8 114.9" fill="#00e2ff"/>
<polygon points="429.4 122.2 434.4 119.1 429.1 113.7 424.1 116.8" fill="#00c3ff"/>
<polygon points="439.6 124.6 444.6 121.6 439.3 116.1 434.4 119.1" fill="#009fff"/>
<polygon points="449.9 127.2 454.8 124.4 449.5 118.8 444.6 121.6" fill="#0078ff"/>
<polygon points="393.1 120.5 398.4 116.8 393.3 111.8 388.0 115.5" fill="#00f9ff"/>
<polygon points="424.3 125.5 429.4 122.2 424.1 116.8 419.0 120.1" fill="#00afff"/>
<polygon points="372.3 118.6 377.6 114.6 372.6 109.9 367.3 114.0" fill="#00ffea"/>
<polygon points="382.7 119.4 388.0 115.5 382.9 110.8 377.6 114.6" fill="#00fff6"/>
<polygon points="403.5 121.9 408.7 118.3 403.6 113.2 398.4 116.8" fill="#00e4ff"/>
<polygon points="413.9 123.5 419.0 120.1 413.8 114.9 408.7 118.3" fill="#00ccff"/>
<polygon points="434.6 127.7 439.6 124.6 434.4 119.1 429.4 122.2" fill="#008eff"/>
<polygon points="445.0 130.2 449.9 127.2 444.6 121.6 439.6 124.6" fill="#0068ff"/>
<polygon points="377.3 123.4 382.7 119.4 377.6 114.6 372.3 118.6" fill="#00eaff"/>
<polygon points="387.8 124.4 393.1 120.5 388.0 115.5 382.7 119.4" fill="#00dcff"/>
<polygon points="398.3 125.6 403.5 121.9 398.4 116.8 393.1 120.5" fill="#00caff"/>
<polygon points="408.7 127.1 413.9 123.5 408.7 118.3 403.5 121.9" fill="#00b4ff"/>
<polygon points="419.2 128.9 424.3 125.5 419.0 120.1 413.9 123.5" fill="#0099ff"/>
<polygon points="429.6 131.0 434.6 127.7 429.4 122.2 424.3 125.5" fill="#007aff"/>
<polygon points="440.0 133.3 445.0 130.2 439.6 124.6 434.6 127.7" fill="#0057ff"/>
<polygon points="382.4 128.4 387.8 124.4 382.7 119.4 377.3 123.4" fill="#00beff"/>
<polygon points="392.9 129.5 398.3 125.6 393.1 120.5 387.8 124.4" fill="#00aeff"/>
<polygon points="403.5 130.8 408.7 127.1 403.5 121.9 398.3 125.6" fill="#009aff"/>
<polygon points="414.0 132.5 419.2 128.9 413.9 123.5 408.7 127.1" fill="#0082ff"/>
<polygon points="424.4 134.4 429.6 131.0 424.3 125.5 419.2 128.9" fill="#0065ff"/>
<polygon points="434.9 136.6 440.0 133.3 434.6 127.7 429.6 131.0" fill="#0044ff"/>
<polygon points="387.6 133.5 392.9 129.5 387.8 124.4 382.4 128.4" fill="#0090ff"/>
<polygon points="398.2 134.8 403.5 130.8 398.3 125.6 392.9 129.5" fill="#007fff"/>
<polygon points="408.7 136.2 414.0 132.5 408.7 127.1 403.5 130.8" fill="#0069ff"/>
<polygon points="419.3 138.0 424.4 134.4 419.2 128.9 414.0 132.5" fill="#004eff"/>
<polygon points="429.8 140.1 434.9 136.6 429.6 131.0 424.4 134.4" fill="#0030ff"/>
<polygon points="403.4 140.2 408.7 136.2 403.5 130.8 398.2 134.8" fill="#004eff"/>
<polygon points="414.0 141.8 419.3 138.0 414.0 132.5 408.7 136.2" fill="#0036ff"/>
<polygon points="392.8 138.8 398.2 134.8 392.9 129.5 387.6 133.5" fill="#0061ff"/>
<polygon points="424.6 143.7 429.8 140.1 424.4 134.4 419.3 138.0" fill="#0019ff"/>
<polygon points="398.0 144.3 403.4 140.2 398.2 134.8 392.8 138.8" fill="#0031ff"/>
<polygon points="408.7 145.7 414.0 141.8 408.7 136.2 403.4 140.2" fill="#001bff"/>
<polygon points="419.4 147.5 424.6 143.7 419.3 138.0 414.0 141.8" fill="#0001ff"/>
<polygon points="403.4 149.9 408.7 145.7 403.4 140.2 398.0 144.3" fill="#0000ff"/>
<polygon points="414.1 151.5 419.4 147.5 414.0 141.8 408.7 145.7" fill="#0000ff"/>
<polygon points="408.7 155.6 414.1 151.5 408.7 145.7 403.4 149.9" fill="#0000ff"/>
</g>
<circle cx="302.7" cy="63.9" r="2.1" fill="#fde4e0" stroke="#2a1010" stroke-width="1.1"/>
<circle cx="408.7" cy="62.3" r="2.1" fill="#e00000" stroke="#400" stroke-width="0.9"/>
<circle cx="408.7" cy="67.0" r="2.1" fill="#e00000" stroke="#400" stroke-width="0.9"/>
<circle cx="408.7" cy="150.6" r="2.1" fill="#e00000" stroke="#400" stroke-width="0.9"/>
<circle cx="512.8" cy="101.2" r="2.1" fill="#e00000" stroke="#400" stroke-width="0.9"/>
<text transform="translate(273 104.0) rotate(-90)" font-size="10.3" text-anchor="middle" fill="#222">W/H</text>
<text x="265.2" y="217.9" font-size="10.3" fill="#222" textLength="107.6">C: scanning speed (mm/s)</text>
<text x="459.2" y="217.9" font-size="10.3" fill="#222" textLength="79.8">A: laser power (W)</text>
<line x1="306.3" y1="390.6" x2="301.1" y2="284.5" stroke="#111" stroke-width="1.45"/>
<line x1="408.7" y1="356.1" x2="408.7" y2="260.6" stroke="#111" stroke-width="1.45"/>
<line x1="331.9" y1="382.0" x2="328.0" y2="278.6" stroke="#111" stroke-width="1.45"/>
<line x1="434.3" y1="364.7" x2="435.6" y2="266.6" stroke="#111" stroke-width="1.45"/>
<line x1="357.5" y1="373.3" x2="354.9" y2="272.6" stroke="#111" stroke-width="1.45"/>
<line x1="459.9" y1="373.3" x2="462.5" y2="272.6" stroke="#111" stroke-width="1.45"/>
<line x1="383.1" y1="364.7" x2="381.8" y2="266.6" stroke="#111" stroke-width="1.45"/>
<line x1="485.5" y1="382.0" x2="489.3" y2="278.6" stroke="#111" stroke-width="1.45"/>
<line x1="408.7" y1="356.1" x2="408.7" y2="260.6" stroke="#111" stroke-width="1.45"/>
<line x1="511.1" y1="390.6" x2="516.2" y2="284.5" stroke="#111" stroke-width="1.45"/>
<line x1="306.3" y1="390.6" x2="408.7" y2="356.1" stroke="#111" stroke-width="1.45"/>
<line x1="408.7" y1="356.1" x2="511.1" y2="390.6" stroke="#111" stroke-width="1.45"/>
<line x1="305.4" y1="372.9" x2="408.7" y2="340.2" stroke="#111" stroke-width="1.45"/>
<line x1="408.7" y1="340.2" x2="511.9" y2="372.9" stroke="#111" stroke-width="1.45"/>
<line x1="304.6" y1="355.3" x2="408.7" y2="324.2" stroke="#111" stroke-width="1.45"/>
<line x1="408.7" y1="324.2" x2="512.8" y2="355.2" stroke="#111" stroke-width="1.45"/>
<line x1="303.7" y1="337.6" x2="408.7" y2="308.3" stroke="#111" stroke-width="1.45"/>
<line x1="408.7" y1="308.3" x2="513.7" y2="337.6" stroke="#111" stroke-width="1.45"/>
<line x1="302.8" y1="319.9" x2="408.7" y2="292.4" stroke="#111" stroke-width="1.45"/>
<line x1="408.7" y1="292.4" x2="514.5" y2="319.9" stroke="#111" stroke-width="1.45"/>
<line x1="302.0" y1="302.2" x2="408.7" y2="276.5" stroke="#111" stroke-width="1.45"/>
<line x1="408.7" y1="276.5" x2="515.4" y2="302.2" stroke="#111" stroke-width="1.45"/>
<line x1="301.1" y1="284.5" x2="408.7" y2="260.6" stroke="#111" stroke-width="1.45"/>
<line x1="408.7" y1="260.6" x2="516.2" y2="284.5" stroke="#111" stroke-width="1.45"/>
<polygon points="307.9 423.5 408.7 472.0 509.5 423.5 408.7 385.6" fill="#6a6a6a" stroke="#111" stroke-width="1.7" stroke-linejoin="round"/>
<path d="M394.2 465.0 398.0 463.5 401.6 462.1 405.3 460.6 407.7 459.7 411.3 458.2 414.8 456.8 418.3 455.4 421.8 454.0 424.0 453.0 427.4 451.6 430.8 450.2 434.1 448.8 437.3 447.4 440.5 445.9 443.7 444.5 446.8 443.1 449.9 441.8 453.0 440.4 456.0 439.0 459.0 437.6 461.9 436.2 464.8 434.8 467.7 433.5 470.5 432.1 473.3 430.7 476.0 429.4 478.7 428.0 481.4 426.7 484.0 425.3 486.6 424.0 489.1 422.6 490.8 421.7 493.3 420.4 495.7 419.1 496.5 418.6" fill="none" stroke="#00e0ff" stroke-width="3"/>
<path d="M378.9 457.6 382.6 456.2 386.3 454.8 390.0 453.4 392.4 452.5 395.9 451.1 399.4 449.8 402.9 448.4 406.3 447.0 409.7 445.6 412.0 444.7 415.3 443.3 418.6 442.0 421.8 440.6 425.0 439.2 428.2 437.9 431.3 436.5 434.3 435.2 437.4 433.8 440.4 432.5 443.3 431.1 446.2 429.8 449.1 428.4 451.9 427.1 454.7 425.8 457.5 424.4 460.2 423.1 462.8 421.8 464.6 420.9 467.2 419.6 469.8 418.3 472.3 416.9 474.8 415.6 476.4 414.8 478.8 413.4 480.4 412.6" fill="none" stroke="#00e890" stroke-width="3"/>
<path d="M362.2 449.6 365.9 448.3 369.6 446.9 373.2 445.6 375.6 444.7 379.1 443.4 382.6 442.0 386.1 440.7 389.5 439.4 392.9 438.1 395.1 437.2 398.4 435.9 401.6 434.5 404.8 433.2 408.0 431.9 411.1 430.6 414.2 429.3 417.3 427.9 420.3 426.6 423.2 425.3 426.1 424.0 429.0 422.7 431.8 421.4 434.4 420.2 436.5 419.2 439.2 417.9 441.9 416.6 444.5 415.3 447.1 414.0 449.2 412.9 451.3 411.9 453.8 410.6 456.3 409.3 458.2 408.2 460.3 407.2 462.6 405.9" fill="none" stroke="#22e822" stroke-width="3"/>
<path d="M346.4 442.0 350.1 440.7 353.8 439.4 356.2 438.6 359.7 437.3 363.2 436.0 366.7 434.7 370.1 433.5 373.5 432.2 375.7 431.3 379.1 430.0 382.3 428.8 385.5 427.5 388.7 426.2 391.8 424.9 394.9 423.6 398.0 422.3 401.0 421.1 403.9 419.8 406.8 418.5 409.7 417.2 411.6 416.4 414.4 415.1 417.1 413.8 419.9 412.5 422.5 411.3 425.1 410.0 426.9 409.1 429.4 407.9 431.9 406.6 433.9 405.6 436.0 404.5 438.4 403.2 440.4 402.1 442.3 401.1 444.5 399.8 445.3 399.4" fill="none" stroke="#c0f020" stroke-width="3"/>
<path d="M330.5 434.4 333.2 433.5 336.6 432.3 340.2 431.1 343.7 429.8 347.2 428.6 350.1 427.6 352.9 426.5 356.3 425.3 359.6 424.0 362.8 422.8 366.1 421.6 369.2 420.3 372.4 419.1 375.4 417.8 378.5 416.6 381.5 415.3 384.4 414.1 387.3 412.8 389.6 411.8 392.0 410.7 394.8 409.5 397.5 408.2 400.2 407.0 402.0 406.1 404.6 404.9 407.1 403.6 409.6 402.3 411.3 401.5 413.7 400.2 415.7 399.2 417.6 398.1 419.9 396.9 421.4 396.0 423.7 394.7 425.1 393.9 427.2 392.6" fill="none" stroke="#ffa81e" stroke-width="3"/>
<polygon points="307.9 423.5 408.7 472.0 509.5 423.5 408.7 385.6" fill="none" stroke="#111" stroke-width="1.7" stroke-linejoin="round"/>
<line x1="307.9" y1="423.5" x2="305.9" y2="424.2" stroke="#111" stroke-width="1.6"/>
<text x="303.9" y="431.7" font-size="8.4" text-anchor="end" fill="#222">5</text>
<line x1="408.7" y1="472.0" x2="410.7" y2="472.9" stroke="#111" stroke-width="1.6"/>
<text x="414.1" y="480.2" font-size="8.4" text-anchor="start" fill="#222">16</text>
<line x1="333.1" y1="435.6" x2="331.1" y2="436.4" stroke="#111" stroke-width="1.6"/>
<text x="329.1" y="443.8" font-size="8.4" text-anchor="end" fill="#222">4.5</text>
<line x1="433.9" y1="459.8" x2="435.9" y2="460.7" stroke="#111" stroke-width="1.6"/>
<text x="439.3" y="468.0" font-size="8.4" text-anchor="start" fill="#222">17</text>
<line x1="358.3" y1="447.7" x2="356.3" y2="448.6" stroke="#111" stroke-width="1.6"/>
<text x="354.3" y="455.9" font-size="8.4" text-anchor="end" fill="#222">4</text>
<line x1="459.1" y1="447.7" x2="461.1" y2="448.6" stroke="#111" stroke-width="1.6"/>
<text x="464.5" y="455.9" font-size="8.4" text-anchor="start" fill="#222">18</text>
<line x1="383.5" y1="459.8" x2="381.5" y2="460.8" stroke="#111" stroke-width="1.6"/>
<text x="379.5" y="468.0" font-size="8.4" text-anchor="end" fill="#222">3.5</text>
<line x1="484.3" y1="435.6" x2="486.3" y2="436.4" stroke="#111" stroke-width="1.6"/>
<text x="489.7" y="443.8" font-size="8.4" text-anchor="start" fill="#222">19</text>
<line x1="408.7" y1="472.0" x2="406.7" y2="472.9" stroke="#111" stroke-width="1.6"/>
<text x="404.7" y="480.2" font-size="8.4" text-anchor="end" fill="#222">3</text>
<line x1="509.5" y1="423.5" x2="511.5" y2="424.2" stroke="#111" stroke-width="1.6"/>
<text x="514.9" y="431.7" font-size="8.4" text-anchor="start" fill="#222">20</text>
<line x1="307.9" y1="423.5" x2="301.1" y2="284.5" stroke="#111" stroke-width="1.6"/>
<line x1="509.5" y1="423.5" x2="516.2" y2="284.5" stroke="#111" stroke-width="1.5"/>
<circle cx="306.3" cy="390.6" r="1.1" fill="#111"/>
<text x="301.7" y="388.2" font-size="8.2" text-anchor="end" fill="#222">3</text>
<circle cx="305.4" cy="372.9" r="1.1" fill="#111"/>
<text x="300.8" y="370.5" font-size="8.2" text-anchor="end" fill="#222">3.5</text>
<circle cx="304.6" cy="355.3" r="1.1" fill="#111"/>
<text x="300.0" y="352.9" font-size="8.2" text-anchor="end" fill="#222">4</text>
<circle cx="303.7" cy="337.6" r="1.1" fill="#111"/>
<text x="299.1" y="335.2" font-size="8.2" text-anchor="end" fill="#222">4.5</text>
<circle cx="302.8" cy="319.9" r="1.1" fill="#111"/>
<text x="298.2" y="317.5" font-size="8.2" text-anchor="end" fill="#222">5</text>
<circle cx="302.0" cy="302.2" r="1.1" fill="#111"/>
<text x="297.4" y="299.8" font-size="8.2" text-anchor="end" fill="#222">5.5</text>
<circle cx="301.1" cy="284.5" r="1.1" fill="#111"/>
<text x="296.5" y="282.1" font-size="8.2" text-anchor="end" fill="#222">6</text>
<g stroke="#0a0a0a" stroke-width="1" stroke-linejoin="round">
<polygon points="408.7 280.7 413.0 280.1 408.7 277.3 404.3 277.8" fill="#ff5c00"/>
<polygon points="404.3 281.3 408.7 280.7 404.3 277.8 400.0 278.4" fill="#ff5600"/>
<polygon points="413.0 283.7 417.3 283.2 413.0 280.1 408.7 280.7" fill="#ff7400"/>
<polygon points="399.9 281.9 404.3 281.3 400.0 278.4 395.6 279.0" fill="#ff5000"/>
<polygon points="417.4 287.0 421.7 286.3 417.3 283.2 413.0 283.7" fill="#ff8e00"/>
<polygon points="408.7 284.4 413.0 283.7 408.7 280.7 404.3 281.3" fill="#ff6e00"/>
<polygon points="395.4 282.6 399.9 281.9 395.6 279.0 391.1 279.6" fill="#ff4a00"/>
<polygon points="421.8 290.3 426.1 289.7 421.7 286.3 417.4 287.0" fill="#ffa900"/>
<polygon points="404.3 285.0 408.7 284.4 404.3 281.3 399.9 281.9" fill="#ff6800"/>
<polygon points="413.1 287.6 417.4 287.0 413.0 283.7 408.7 284.4" fill="#ff8800"/>
<polygon points="390.9 283.3 395.4 282.6 391.1 279.6 386.6 280.3" fill="#ff4500"/>
<polygon points="399.8 285.8 404.3 285.0 399.9 281.9 395.4 282.6" fill="#ff6300"/>
<polygon points="408.7 288.3 413.1 287.6 408.7 284.4 404.3 285.0" fill="#ff8200"/>
<polygon points="417.5 291.0 421.8 290.3 417.4 287.0 413.1 287.6" fill="#ffa300"/>
<polygon points="426.3 293.8 430.6 293.1 426.1 289.7 421.8 290.3" fill="#ffc600"/>
<polygon points="386.4 284.1 390.9 283.3 386.6 280.3 382.1 281.0" fill="#ff4100"/>
<polygon points="404.2 289.1 408.7 288.3 404.3 285.0 399.8 285.8" fill="#ff7d00"/>
<polygon points="413.1 291.7 417.5 291.0 413.1 287.6 408.7 288.3" fill="#ff9e00"/>
<polygon points="430.8 297.5 435.1 296.8 430.6 293.1 426.3 293.8" fill="#ffe500"/>
<polygon points="395.3 286.5 399.8 285.8 395.4 282.6 390.9 283.3" fill="#ff5e00"/>
<polygon points="422.0 294.6 426.3 293.8 421.8 290.3 417.5 291.0" fill="#ffc000"/>
<polygon points="408.7 292.5 413.1 291.7 408.7 288.3 404.2 289.1" fill="#ff9900"/>
<polygon points="381.8 284.9 386.4 284.1 382.1 281.0 377.5 281.8" fill="#ff3c00"/>
<polygon points="390.8 287.3 395.3 286.5 390.9 283.3 386.4 284.1" fill="#ff5900"/>
<polygon points="399.7 289.8 404.2 289.1 399.8 285.8 395.3 286.5" fill="#ff7800"/>
<polygon points="417.6 295.3 422.0 294.6 417.5 291.0 413.1 291.7" fill="#ffbb00"/>
<polygon points="426.5 298.3 430.8 297.5 426.3 293.8 422.0 294.6" fill="#ffdf00"/>
<polygon points="435.3 301.3 439.6 300.6 435.1 296.8 430.8 297.5" fill="#faff00"/>
<polygon points="377.1 285.7 381.8 284.9 377.5 281.8 372.8 282.6" fill="#ff3800"/>
<polygon points="395.2 290.7 399.7 289.8 395.3 286.5 390.8 287.3" fill="#ff7400"/>
<polygon points="404.2 293.3 408.7 292.5 404.2 289.1 399.7 289.8" fill="#ff9400"/>
<polygon points="413.1 296.1 417.6 295.3 413.1 291.7 408.7 292.5" fill="#ffb600"/>
<polygon points="422.1 299.1 426.5 298.3 422.0 294.6 417.6 295.3" fill="#ffda00"/>
<polygon points="439.9 305.3 444.2 304.5 439.6 300.6 435.3 301.3" fill="#dcff00"/>
<polygon points="386.2 288.1 390.8 287.3 386.4 284.1 381.8 284.9" fill="#ff5500"/>
<polygon points="431.0 302.1 435.3 301.3 430.8 297.5 426.5 298.3" fill="#ffff00"/>
<polygon points="372.4 286.6 377.1 285.7 372.8 282.6 368.1 283.5" fill="#ff3500"/>
<polygon points="399.6 294.2 404.2 293.3 399.7 289.8 395.2 290.7" fill="#ff9000"/>
<polygon points="417.7 299.9 422.1 299.1 417.6 295.3 413.1 296.1" fill="#ffd500"/>
<polygon points="444.5 309.5 448.8 308.6 444.2 304.5 439.9 305.3" fill="#bdff00"/>
<polygon points="381.5 289.0 386.2 288.1 381.8 284.9 377.1 285.7" fill="#ff5200"/>
<polygon points="390.6 291.5 395.2 290.7 390.8 287.3 386.2 288.1" fill="#ff7000"/>
<polygon points="408.7 297.0 413.1 296.1 408.7 292.5 404.2 293.3" fill="#ffb200"/>
<polygon points="426.6 303.0 431.0 302.1 426.5 298.3 422.1 299.1" fill="#fffa00"/>
<polygon points="435.6 306.2 439.9 305.3 435.3 301.3 431.0 302.1" fill="#e1ff00"/>
<polygon points="367.7 287.6 372.4 286.6 368.1 283.5 363.3 284.4" fill="#ff3200"/>
<polygon points="376.8 289.9 381.5 289.0 377.1 285.7 372.4 286.6" fill="#ff4e00"/>
<polygon points="385.9 292.5 390.6 291.5 386.2 288.1 381.5 289.0" fill="#ff6d00"/>
<polygon points="395.1 295.1 399.6 294.2 395.2 290.7 390.6 291.5" fill="#ff8c00"/>
<polygon points="404.1 297.9 408.7 297.0 404.2 293.3 399.6 294.2" fill="#ffae00"/>
<polygon points="413.2 300.8 417.7 299.9 413.1 296.1 408.7 297.0" fill="#ffd100"/>
<polygon points="422.2 303.9 426.6 303.0 422.1 299.1 417.7 299.9" fill="#fff600"/>
<polygon points="431.2 307.0 435.6 306.2 431.0 302.1 426.6 303.0" fill="#e5ff00"/>
<polygon points="440.2 310.3 444.5 309.5 439.9 305.3 435.6 306.2" fill="#c2ff00"/>
<polygon points="449.2 313.8 453.4 312.9 448.8 308.6 444.5 309.5" fill="#9dff00"/>
<polygon points="362.9 288.5 367.7 287.6 363.3 284.4 358.5 285.3" fill="#ff3000"/>
<polygon points="381.2 293.4 385.9 292.5 381.5 289.0 376.8 289.9" fill="#ff6900"/>
<polygon points="390.4 296.1 395.1 295.1 390.6 291.5 385.9 292.5" fill="#ff8900"/>
<polygon points="408.7 301.8 413.2 300.8 408.7 297.0 404.1 297.9" fill="#ffcd00"/>
<polygon points="426.8 308.0 431.2 307.0 426.6 303.0 422.2 303.9" fill="#e9ff00"/>
<polygon points="435.9 311.3 440.2 310.3 435.6 306.2 431.2 307.0" fill="#c6ff00"/>
<polygon points="453.9 318.3 458.1 317.3 453.4 312.9 449.2 313.8" fill="#7bff00"/>
<polygon points="372.1 290.9 376.8 289.9 372.4 286.6 367.7 287.6" fill="#ff4c00"/>
<polygon points="399.6 298.8 404.1 297.9 399.6 294.2 395.1 295.1" fill="#ffaa00"/>
<polygon points="417.8 304.8 422.2 303.9 417.7 299.9 413.2 300.8" fill="#fff100"/>
<polygon points="444.9 314.7 449.2 313.8 444.5 309.5 440.2 310.3" fill="#a1ff00"/>
<polygon points="385.7 297.1 390.4 296.1 385.9 292.5 381.2 293.4" fill="#ff8600"/>
<polygon points="431.5 312.2 435.9 311.3 431.2 307.0 426.8 308.0" fill="#caff00"/>
<polygon points="358.0 289.6 362.9 288.5 358.5 285.3 353.6 286.3" fill="#ff2d00"/>
<polygon points="458.6 322.9 462.8 321.9 458.1 317.3 453.9 318.3" fill="#58ff00"/>
<polygon points="367.3 291.9 372.1 290.9 367.7 287.6 362.9 288.5" fill="#ff4900"/>
<polygon points="376.5 294.4 381.2 293.4 376.8 289.9 372.1 290.9" fill="#ff6700"/>
<polygon points="394.9 299.8 399.6 298.8 395.1 295.1 390.4 296.1" fill="#ffa700"/>
<polygon points="404.1 302.7 408.7 301.8 404.1 297.9 399.6 298.8" fill="#ffc900"/>
<polygon points="413.2 305.8 417.8 304.8 413.2 300.8 408.7 301.8" fill="#ffee00"/>
<polygon points="422.4 308.9 426.8 308.0 422.2 303.9 417.8 304.8" fill="#edff00"/>
<polygon points="440.5 315.7 444.9 314.7 440.2 310.3 435.9 311.3" fill="#a5ff00"/>
<polygon points="449.6 319.2 453.9 318.3 449.2 313.8 444.9 314.7" fill="#7fff00"/>
<polygon points="353.1 290.6 358.0 289.6 353.6 286.3 348.7 287.3" fill="#ff2c00"/>
<polygon points="463.3 327.7 467.5 326.7 462.8 321.9 458.6 322.9" fill="#33ff00"/>
<polygon points="371.7 295.5 376.5 294.4 372.1 290.9 367.3 291.9" fill="#ff6500"/>
<polygon points="381.0 298.1 385.7 297.1 381.2 293.4 376.5 294.4" fill="#ff8300"/>
<polygon points="390.2 300.9 394.9 299.8 390.4 296.1 385.7 297.1" fill="#ffa400"/>
<polygon points="399.5 303.8 404.1 302.7 399.6 298.8 394.9 299.8" fill="#ffc600"/>
<polygon points="417.9 310.0 422.4 308.9 417.8 304.8 413.2 305.8" fill="#f0ff00"/>
<polygon points="427.0 313.3 431.5 312.2 426.8 308.0 422.4 308.9" fill="#cdff00"/>
<polygon points="436.1 316.7 440.5 315.7 435.9 311.3 431.5 312.2" fill="#a9ff00"/>
<polygon points="445.2 320.2 449.6 319.2 444.9 314.7 440.5 315.7" fill="#83ff00"/>
<polygon points="362.4 293.0 367.3 291.9 362.9 288.5 358.0 289.6" fill="#ff4700"/>
<polygon points="454.3 323.9 458.6 322.9 453.9 318.3 449.6 319.2" fill="#5cff00"/>
<polygon points="408.7 306.8 413.2 305.8 408.7 301.8 404.1 302.7" fill="#ffea00"/>
<polygon points="348.1 291.8 353.1 290.6 348.7 287.3 343.7 288.4" fill="#ff2a00"/>
<polygon points="376.2 299.2 381.0 298.1 376.5 294.4 371.7 295.5" fill="#ff8100"/>
<polygon points="394.8 304.9 399.5 303.8 394.9 299.8 390.2 300.9" fill="#ffc400"/>
<polygon points="422.5 314.3 427.0 313.3 422.4 308.9 417.9 310.0" fill="#d0ff00"/>
<polygon points="440.9 321.3 445.2 320.2 440.5 315.7 436.1 316.7" fill="#87ff00"/>
<polygon points="468.1 332.7 472.3 331.6 467.5 326.7 463.3 327.7" fill="#0dff00"/>
<polygon points="357.5 294.1 362.4 293.0 358.0 289.6 353.1 290.6" fill="#ff4600"/>
<polygon points="366.8 296.6 371.7 295.5 367.3 291.9 362.4 293.0" fill="#ff6300"/>
<polygon points="450.0 324.9 454.3 323.9 449.6 319.2 445.2 320.2" fill="#60ff00"/>
<polygon points="459.1 328.7 463.3 327.7 458.6 322.9 454.3 323.9" fill="#37ff00"/>
<polygon points="385.5 302.0 390.2 300.9 385.7 297.1 381.0 298.1" fill="#ffa200"/>
<polygon points="404.0 307.9 408.7 306.8 404.1 302.7 399.5 303.8" fill="#ffe700"/>
<polygon points="413.3 311.0 417.9 310.0 413.2 305.8 408.7 306.8" fill="#f3ff00"/>
<polygon points="431.7 317.7 436.1 316.7 431.5 312.2 427.0 313.3" fill="#acff00"/>
<polygon points="343.1 292.9 348.1 291.8 343.7 288.4 338.7 289.6" fill="#ff2a00"/>
<polygon points="361.9 297.7 366.8 296.6 362.4 293.0 357.5 294.1" fill="#ff6100"/>
<polygon points="371.3 300.4 376.2 299.2 371.7 295.5 366.8 296.6" fill="#ff8000"/>
<polygon points="445.6 326.0 450.0 324.9 445.2 320.2 440.9 321.3" fill="#63ff00"/>
<polygon points="454.8 329.8 459.1 328.7 454.3 323.9 450.0 324.9" fill="#3bff00"/>
<polygon points="472.9 337.8 477.1 336.7 472.3 331.6 468.1 332.7" fill="#00ff1d"/>
<polygon points="352.5 295.3 357.5 294.1 353.1 290.6 348.1 291.8" fill="#ff4500"/>
<polygon points="380.7 303.1 385.5 302.0 381.0 298.1 376.2 299.2" fill="#ffa000"/>
<polygon points="390.0 306.0 394.8 304.9 390.2 300.9 385.5 302.0" fill="#ffc200"/>
<polygon points="399.4 309.0 404.0 307.9 399.5 303.8 394.8 304.9" fill="#ffe500"/>
<polygon points="408.7 312.1 413.3 311.0 408.7 306.8 404.0 307.9" fill="#f5ff00"/>
<polygon points="418.0 315.4 422.5 314.3 417.9 310.0 413.3 311.0" fill="#d3ff00"/>
<polygon points="427.2 318.8 431.7 317.7 427.0 313.3 422.5 314.3" fill="#afff00"/>
<polygon points="436.4 322.4 440.9 321.3 436.1 316.7 431.7 317.7" fill="#8aff00"/>
<polygon points="463.9 333.8 468.1 332.7 463.3 327.7 459.1 328.7" fill="#11ff00"/>
<polygon points="366.4 301.5 371.3 300.4 366.8 296.6 361.9 297.7" fill="#ff7e00"/>
<polygon points="450.4 331.0 454.8 329.8 450.0 324.9 445.6 326.0" fill="#3eff00"/>
<polygon points="338.0 294.2 343.1 292.9 338.7 289.6 333.6 290.7" fill="#ff2900"/>
<polygon points="356.9 298.9 361.9 297.7 357.5 294.1 352.5 295.3" fill="#ff6000"/>
<polygon points="385.2 307.2 390.0 306.0 385.5 302.0 380.7 303.1" fill="#ffc000"/>
<polygon points="404.0 313.3 408.7 312.1 404.0 307.9 399.4 309.0" fill="#f7ff00"/>
<polygon points="413.3 316.6 418.0 315.4 413.3 311.0 408.7 312.1" fill="#d5ff00"/>
<polygon points="431.9 323.5 436.4 322.4 431.7 317.7 427.2 318.8" fill="#8dff00"/>
<polygon points="459.6 334.9 463.9 333.8 459.1 328.7 454.8 329.8" fill="#14ff00"/>
<polygon points="477.8 343.1 482.0 342.0 477.1 336.7 472.9 337.8" fill="#00ff4a"/>
<polygon points="347.5 296.5 352.5 295.3 348.1 291.8 343.1 292.9" fill="#ff4400"/>
<polygon points="375.8 304.3 380.7 303.1 376.2 299.2 371.3 300.4" fill="#ff9e00"/>
<polygon points="441.2 327.2 445.6 326.0 440.9 321.3 436.4 322.4" fill="#66ff00"/>
<polygon points="468.7 338.9 472.9 337.8 468.1 332.7 463.9 333.8" fill="#00ff19"/>
<polygon points="394.6 310.2 399.4 309.0 394.8 304.9 390.0 306.0" fill="#ffe300"/>
<polygon points="422.7 320.0 427.2 318.8 422.5 314.3 418.0 315.4" fill="#b2ff00"/>
<polygon points="332.8 295.4 338.0 294.2 333.6 290.7 328.5 292.0" fill="#ff2900"/>
<polygon points="361.4 302.8 366.4 301.5 361.9 297.7 356.9 298.9" fill="#ff7e00"/>
<polygon points="408.7 317.8 413.3 316.6 408.7 312.1 404.0 313.3" fill="#d7ff00"/>
<polygon points="455.2 336.1 459.6 334.9 454.8 329.8 450.4 331.0" fill="#18ff00"/>
<polygon points="482.7 348.6 486.9 347.4 482.0 342.0 477.8 343.1" fill="#00ff78"/>
<polygon points="351.9 300.2 356.9 298.9 352.5 295.3 347.5 296.5" fill="#ff6000"/>
<polygon points="370.9 305.5 375.8 304.3 371.3 300.4 366.4 301.5" fill="#ff9d00"/>
<polygon points="380.4 308.4 385.2 307.2 380.7 303.1 375.8 304.3" fill="#ffbe00"/>
<polygon points="436.7 328.4 441.2 327.2 436.4 322.4 431.9 323.5" fill="#69ff00"/>
<polygon points="446.0 332.2 450.4 331.0 445.6 326.0 441.2 327.2" fill="#41ff00"/>
<polygon points="464.4 340.1 468.7 338.9 463.9 333.8 459.6 334.9" fill="#00ff15"/>
<polygon points="342.4 297.7 347.5 296.5 343.1 292.9 338.0 294.2" fill="#ff4400"/>
<polygon points="389.9 311.4 394.6 310.2 390.0 306.0 385.2 307.2" fill="#ffe100"/>
<polygon points="399.3 314.5 404.0 313.3 399.4 309.0 394.6 310.2" fill="#f9ff00"/>
<polygon points="418.0 321.2 422.7 320.0 418.0 315.4 413.3 316.6" fill="#b4ff00"/>
<polygon points="427.4 324.7 431.9 323.5 427.2 318.8 422.7 320.0" fill="#8fff00"/>
<polygon points="473.6 344.3 477.8 343.1 472.9 337.8 468.7 338.9" fill="#00ff46"/>
<polygon points="327.6 296.8 332.8 295.4 328.5 292.0 323.3 293.3" fill="#ff2a00"/>
<polygon points="356.4 304.1 361.4 302.8 356.9 298.9 351.9 300.2" fill="#ff7d00"/>
<polygon points="375.5 309.7 380.4 308.4 375.8 304.3 370.9 305.5" fill="#ffbd00"/>
<polygon points="441.5 333.4 446.0 332.2 441.2 327.2 436.7 328.4" fill="#43ff00"/>
<polygon points="460.1 341.4 464.4 340.1 459.6 334.9 455.2 336.1" fill="#00ff12"/>
<polygon points="487.6 354.2 491.8 353.0 486.9 347.4 482.7 348.6" fill="#00ffa8"/>
<polygon points="337.2 299.1 342.4 297.7 338.0 294.2 332.8 295.4" fill="#ff4400"/>
<polygon points="346.8 301.5 351.9 300.2 347.5 296.5 342.4 297.7" fill="#ff6000"/>
<polygon points="366.0 306.8 370.9 305.5 366.4 301.5 361.4 302.8" fill="#ff9c00"/>
<polygon points="394.5 315.8 399.3 314.5 394.6 310.2 389.9 311.4" fill="#faff00"/>
<polygon points="404.0 319.0 408.7 317.8 404.0 313.3 399.3 314.5" fill="#d9ff00"/>
<polygon points="413.4 322.4 418.0 321.2 413.3 316.6 408.7 317.8" fill="#b6ff00"/>
<polygon points="422.8 326.0 427.4 324.7 422.7 320.0 418.0 321.2" fill="#91ff00"/>
<polygon points="450.8 337.3 455.2 336.1 450.4 331.0 446.0 332.2" fill="#1aff00"/>
<polygon points="469.3 345.5 473.6 344.3 468.7 338.9 464.4 340.1" fill="#00ff42"/>
<polygon points="478.5 349.8 482.7 348.6 477.8 343.1 473.6 344.3" fill="#00ff74"/>
<polygon points="385.0 312.6 389.9 311.4 385.2 307.2 380.4 308.4" fill="#ffe000"/>
<polygon points="432.2 329.6 436.7 328.4 431.9 323.5 427.4 324.7" fill="#6bff00"/>
<polygon points="322.3 298.1 327.6 296.8 323.3 293.3 318.0 294.6" fill="#ff2a00"/>
<polygon points="341.7 302.9 346.8 301.5 342.4 297.7 337.2 299.1" fill="#ff6000"/>
<polygon points="351.3 305.4 356.4 304.1 351.9 300.2 346.8 301.5" fill="#ff7d00"/>
<polygon points="370.5 311.0 375.5 309.7 370.9 305.5 366.0 306.8" fill="#ffbd00"/>
<polygon points="399.2 320.3 404.0 319.0 399.3 314.5 394.5 315.8" fill="#daff00"/>
<polygon points="418.1 327.3 422.8 326.0 418.0 321.2 413.4 322.4" fill="#93ff00"/>
<polygon points="446.3 338.6 450.8 337.3 446.0 332.2 441.5 333.4" fill="#1dff00"/>
<polygon points="465.0 346.8 469.3 345.5 464.4 340.1 460.1 341.4" fill="#00ff3f"/>
<polygon points="474.2 351.1 478.5 349.8 473.6 344.3 469.3 345.5" fill="#00ff71"/>
<polygon points="492.6 360.0 496.7 358.8 491.8 353.0 487.6 354.2" fill="#00ffd9"/>
<polygon points="332.0 300.4 337.2 299.1 332.8 295.4 327.6 296.8" fill="#ff4400"/>
<polygon points="360.9 308.1 366.0 306.8 361.4 302.8 356.4 304.1" fill="#ff9c00"/>
<polygon points="380.1 314.0 385.0 312.6 380.4 308.4 375.5 309.7" fill="#ffdf00"/>
<polygon points="389.7 317.1 394.5 315.8 389.9 311.4 385.0 312.6" fill="#fbff00"/>
<polygon points="427.6 330.9 432.2 329.6 427.4 324.7 422.8 326.0" fill="#6dff00"/>
<polygon points="437.0 334.7 441.5 333.4 436.7 328.4 432.2 329.6" fill="#46ff00"/>
<polygon points="455.7 342.7 460.1 341.4 455.2 336.1 450.8 337.3" fill="#00ff0f"/>
<polygon points="483.4 355.5 487.6 354.2 482.7 348.6 478.5 349.8" fill="#00ffa4"/>
<polygon points="408.7 323.7 413.4 322.4 408.7 317.8 404.0 319.0" fill="#b7ff00"/>
<polygon points="317.0 299.6 322.3 298.1 318.0 294.6 312.7 296.0" fill="#ff2c00"/>
<polygon points="346.2 306.8 351.3 305.4 346.8 301.5 341.7 302.9" fill="#ff7e00"/>
<polygon points="469.9 352.4 474.2 351.1 469.3 345.5 465.0 346.8" fill="#00ff6e"/>
<polygon points="497.6 366.0 501.7 364.7 496.7 358.8 492.6 360.0" fill="#00f2ff"/>
<polygon points="336.5 304.3 341.7 302.9 337.2 299.1 332.0 300.4" fill="#ff6100"/>
<polygon points="365.5 312.4 370.5 311.0 366.0 306.8 360.9 308.1" fill="#ffbd00"/>
<polygon points="384.8 318.5 389.7 317.1 385.0 312.6 380.1 314.0" fill="#fcff00"/>
<polygon points="394.4 321.7 399.2 320.3 394.5 315.8 389.7 317.1" fill="#dbff00"/>
<polygon points="422.9 332.3 427.6 330.9 422.8 326.0 418.1 327.3" fill="#6eff00"/>
<polygon points="432.4 336.0 437.0 334.7 432.2 329.6 427.6 330.9" fill="#47ff00"/>
<polygon points="451.2 344.0 455.7 342.7 450.8 337.3 446.3 338.6" fill="#00ff0c"/>
<polygon points="479.2 356.9 483.4 355.5 478.5 349.8 474.2 351.1" fill="#00ffa1"/>
<polygon points="326.8 301.8 332.0 300.4 327.6 296.8 322.3 298.1" fill="#ff4500"/>
<polygon points="355.9 309.5 360.9 308.1 356.4 304.1 351.3 305.4" fill="#ff9c00"/>
<polygon points="375.2 315.3 380.1 314.0 375.5 309.7 370.5 311.0" fill="#ffdf00"/>
<polygon points="403.9 325.1 408.7 323.7 404.0 319.0 399.2 320.3" fill="#b8ff00"/>
<polygon points="413.4 328.6 418.1 327.3 413.4 322.4 408.7 323.7" fill="#94ff00"/>
<polygon points="441.8 340.0 446.3 338.6 441.5 333.4 437.0 334.7" fill="#1fff00"/>
<polygon points="460.6 348.2 465.0 346.8 460.1 341.4 455.7 342.7" fill="#00ff3c"/>
<polygon points="488.4 361.4 492.6 360.0 487.6 354.2 483.4 355.5" fill="#00ffd6"/>
<polygon points="311.6 301.0 317.0 299.6 312.7 296.0 307.3 297.4" fill="#ff2d00"/>
<polygon points="341.0 308.3 346.2 306.8 341.7 302.9 336.5 304.3" fill="#ff7e00"/>
<polygon points="389.5 323.1 394.4 321.7 389.7 317.1 384.8 318.5" fill="#dbff00"/>
<polygon points="427.8 337.4 432.4 336.0 427.6 330.9 422.9 332.3" fill="#49ff00"/>
<polygon points="474.8 358.2 479.2 356.9 474.2 351.1 469.9 352.4" fill="#00ff9e"/>
<polygon points="502.6 372.2 506.7 370.8 501.7 364.7 497.6 366.0" fill="#00bcff"/>
<polygon points="321.4 303.3 326.8 301.8 322.3 298.1 317.0 299.6" fill="#ff4700"/>
<polygon points="331.2 305.7 336.5 304.3 332.0 300.4 326.8 301.8" fill="#ff6200"/>
<polygon points="350.7 311.0 355.9 309.5 351.3 305.4 346.2 306.8" fill="#ff9d00"/>
<polygon points="360.4 313.8 365.5 312.4 360.9 308.1 355.9 309.5" fill="#ffbd00"/>
<polygon points="379.8 319.9 384.8 318.5 380.1 314.0 375.2 315.3" fill="#fcff00"/>
<polygon points="408.7 330.0 413.4 328.6 408.7 323.7 403.9 325.1" fill="#95ff00"/>
<polygon points="437.3 341.3 441.8 340.0 437.0 334.7 432.4 336.0" fill="#20ff00"/>
<polygon points="456.1 349.5 460.6 348.2 455.7 342.7 451.2 344.0" fill="#00ff3a"/>
<polygon points="465.5 353.8 469.9 352.4 465.0 346.8 460.6 348.2" fill="#00ff6b"/>
<polygon points="484.1 362.8 488.4 361.4 483.4 355.5 479.2 356.9" fill="#00ffd2"/>
<polygon points="493.4 367.4 497.6 366.0 492.6 360.0 488.4 361.4" fill="#00f5ff"/>
<polygon points="370.1 316.8 375.2 315.3 370.5 311.0 365.5 312.4" fill="#ffdf00"/>
<polygon points="399.1 326.5 403.9 325.1 399.2 320.3 394.4 321.7" fill="#b9ff00"/>
<polygon points="418.2 333.7 422.9 332.3 418.1 327.3 413.4 328.6" fill="#70ff00"/>
<polygon points="446.7 345.4 451.2 344.0 446.3 338.6 441.8 340.0" fill="#00ff0a"/>
<polygon points="306.2 302.6 311.6 301.0 307.3 297.4 301.8 298.9" fill="#ff2f00"/>
<polygon points="325.9 307.2 331.2 305.7 326.8 301.8 321.4 303.3" fill="#ff6300"/>
<polygon points="335.7 309.8 341.0 308.3 336.5 304.3 331.2 305.7" fill="#ff8000"/>
<polygon points="355.3 315.3 360.4 313.8 355.9 309.5 350.7 311.0" fill="#ffbe00"/>
<polygon points="384.5 324.6 389.5 323.1 384.8 318.5 379.8 319.9" fill="#dbff00"/>
<polygon points="432.6 342.8 437.3 341.3 432.4 336.0 427.8 337.4" fill="#22ff00"/>
<polygon points="461.1 355.3 465.5 353.8 460.6 348.2 456.1 349.5" fill="#00ff69"/>
<polygon points="479.8 364.2 484.1 362.8 479.2 356.9 474.8 358.2" fill="#00ffd0"/>
<polygon points="489.1 368.9 493.4 367.4 488.4 361.4 484.1 362.8" fill="#00f8ff"/>
<polygon points="507.6 378.5 511.7 377.1 506.7 370.8 502.6 372.2" fill="#0084ff"/>
<polygon points="316.0 304.8 321.4 303.3 317.0 299.6 311.6 301.0" fill="#ff4800"/>
<polygon points="345.5 312.4 350.7 311.0 346.2 306.8 341.0 308.3" fill="#ff9e00"/>
<polygon points="374.8 321.3 379.8 319.9 375.2 315.3 370.1 316.8" fill="#fcff00"/>
<polygon points="394.2 328.0 399.1 326.5 394.4 321.7 389.5 323.1" fill="#b9ff00"/>
<polygon points="403.9 331.5 408.7 330.0 403.9 325.1 399.1 326.5" fill="#95ff00"/>
<polygon points="413.5 335.1 418.2 333.7 413.4 328.6 408.7 330.0" fill="#70ff00"/>
<polygon points="423.1 338.9 427.8 337.4 422.9 332.3 418.2 333.7" fill="#4aff00"/>
<polygon points="442.2 346.8 446.7 345.4 441.8 340.0 437.3 341.3" fill="#00ff09"/>
<polygon points="470.5 359.7 474.8 358.2 469.9 352.4 465.5 353.8" fill="#00ff9b"/>
<polygon points="498.4 373.6 502.6 372.2 497.6 366.0 493.4 367.4" fill="#00bfff"/>
<polygon points="365.1 318.2 370.1 316.8 365.5 312.4 360.4 313.8" fill="#ffdf00"/>
<polygon points="451.6 351.0 456.1 349.5 451.2 344.0 446.7 345.4" fill="#00ff38"/>
<polygon points="330.4 311.3 335.7 309.8 331.2 305.7 325.9 307.2" fill="#ff8100"/>
<polygon points="484.9 370.4 489.1 368.9 484.1 362.8 479.8 364.2" fill="#00fbff"/>
<polygon points="320.5 308.8 325.9 307.2 321.4 303.3 316.0 304.8" fill="#ff6500"/>
<polygon points="350.1 316.8 355.3 315.3 350.7 311.0 345.5 312.4" fill="#ffbf00"/>
<polygon points="379.5 326.1 384.5 324.6 379.8 319.9 374.8 321.3" fill="#dbff00"/>
<polygon points="399.0 333.0 403.9 331.5 399.1 326.5 394.2 328.0" fill="#96ff00"/>
<polygon points="418.3 340.4 423.1 338.9 418.2 333.7 413.5 335.1" fill="#4aff00"/>
<polygon points="437.6 348.3 442.2 346.8 437.3 341.3 432.6 342.8" fill="#00ff08"/>
<polygon points="466.1 361.2 470.5 359.7 465.5 353.8 461.1 355.3" fill="#00ff99"/>
<polygon points="494.2 375.1 498.4 373.6 493.4 367.4 489.1 368.9" fill="#00c2ff"/>
<polygon points="310.6 306.4 316.0 304.8 311.6 301.0 306.2 302.6" fill="#ff4b00"/>
<polygon points="340.3 314.0 345.5 312.4 341.0 308.3 335.7 309.8" fill="#ff9f00"/>
<polygon points="359.9 319.8 365.1 318.2 360.4 313.8 355.3 315.3" fill="#ffe000"/>
<polygon points="369.7 322.9 374.8 321.3 370.1 316.8 365.1 318.2" fill="#fbff00"/>
<polygon points="389.3 329.5 394.2 328.0 389.5 323.1 384.5 324.6" fill="#b9ff00"/>
<polygon points="408.7 336.6 413.5 335.1 408.7 330.0 403.9 331.5" fill="#71ff00"/>
<polygon points="428.0 344.3 432.6 342.8 427.8 337.4 423.1 338.9" fill="#23ff00"/>
<polygon points="447.1 352.5 451.6 351.0 446.7 345.4 442.2 346.8" fill="#00ff37"/>
<polygon points="456.6 356.8 461.1 355.3 456.1 349.5 451.6 351.0" fill="#00ff67"/>
<polygon points="475.5 365.7 479.8 364.2 474.8 358.2 470.5 359.7" fill="#00ffcd"/>
<polygon points="503.5 380.0 507.6 378.5 502.6 372.2 498.4 373.6" fill="#0087ff"/>
<polygon points="325.0 312.9 330.4 311.3 325.9 307.2 320.5 308.8" fill="#ff8300"/>
<polygon points="489.9 376.7 494.2 375.1 489.1 368.9 484.9 370.4" fill="#00c4ff"/>
<polygon points="315.0 310.4 320.5 308.8 316.0 304.8 310.6 306.4" fill="#ff6800"/>
<polygon points="334.9 315.6 340.3 314.0 335.7 309.8 330.4 311.3" fill="#ffa100"/>
<polygon points="344.9 318.4 350.1 316.8 345.5 312.4 340.3 314.0" fill="#ffc000"/>
<polygon points="364.6 324.4 369.7 322.9 365.1 318.2 359.9 319.8" fill="#faff00"/>
<polygon points="374.5 327.7 379.5 326.1 374.8 321.3 369.7 322.9" fill="#daff00"/>
<polygon points="394.1 334.5 399.0 333.0 394.2 328.0 389.3 329.5" fill="#95ff00"/>
<polygon points="403.8 338.2 408.7 336.6 403.9 331.5 399.0 333.0" fill="#71ff00"/>
<polygon points="413.5 341.9 418.3 340.4 413.5 335.1 408.7 336.6" fill="#4bff00"/>
<polygon points="423.2 345.8 428.0 344.3 423.1 338.9 418.3 340.4" fill="#23ff00"/>
<polygon points="442.5 354.0 447.1 352.5 442.2 346.8 437.6 348.3" fill="#00ff35"/>
<polygon points="452.1 358.3 456.6 356.8 451.6 351.0 447.1 352.5" fill="#00ff66"/>
<polygon points="471.1 367.3 475.5 365.7 470.5 359.7 466.1 361.2" fill="#00ffcc"/>
<polygon points="480.5 371.9 484.9 370.4 479.8 364.2 475.5 365.7" fill="#00fdff"/>
<polygon points="499.3 381.6 503.5 380.0 498.4 373.6 494.2 375.1" fill="#008aff"/>
<polygon points="354.7 321.3 359.9 319.8 355.3 315.3 350.1 316.8" fill="#ffe200"/>
<polygon points="384.3 331.0 389.3 329.5 384.5 324.6 379.5 326.1" fill="#b9ff00"/>
<polygon points="432.9 349.9 437.6 348.3 432.6 342.8 428.0 344.3" fill="#00ff07"/>
<polygon points="461.6 362.7 466.1 361.2 461.1 355.3 456.6 356.8" fill="#00ff98"/>
<polygon points="319.5 314.6 325.0 312.9 320.5 308.8 315.0 310.4" fill="#ff8600"/>
<polygon points="339.5 320.1 344.9 318.4 340.3 314.0 334.9 315.6" fill="#ffc200"/>
<polygon points="369.3 329.3 374.5 327.7 369.7 322.9 364.6 324.4" fill="#d9ff00"/>
<polygon points="408.7 343.5 413.5 341.9 408.7 336.6 403.8 338.2" fill="#4bff00"/>
<polygon points="447.5 359.9 452.1 358.3 447.1 352.5 442.5 354.0" fill="#00ff65"/>
<polygon points="476.1 373.5 480.5 371.9 475.5 365.7 471.1 367.3" fill="#00ffff"/>
<polygon points="495.0 383.2 499.3 381.6 494.2 375.1 489.9 376.7" fill="#008cff"/>
<polygon points="329.5 317.3 334.9 315.6 330.4 311.3 325.0 312.9" fill="#ffa300"/>
<polygon points="359.4 326.1 364.6 324.4 359.9 319.8 354.7 321.3" fill="#f9ff00"/>
<polygon points="389.1 336.1 394.1 334.5 389.3 329.5 384.3 331.0" fill="#95ff00"/>
<polygon points="398.9 339.8 403.8 338.2 399.0 333.0 394.1 334.5" fill="#70ff00"/>
<polygon points="418.4 347.4 423.2 345.8 418.3 340.4 413.5 341.9" fill="#23ff00"/>
<polygon points="428.2 351.5 432.9 349.9 428.0 344.3 423.2 345.8" fill="#00ff06"/>
<polygon points="457.1 364.3 461.6 362.7 456.6 356.8 452.1 358.3" fill="#00ff97"/>
<polygon points="485.6 378.3 489.9 376.7 484.9 370.4 480.5 371.9" fill="#00c6ff"/>
<polygon points="349.5 323.0 354.7 321.3 350.1 316.8 344.9 318.4" fill="#ffe300"/>
<polygon points="379.2 332.6 384.3 331.0 379.5 326.1 374.5 327.7" fill="#b8ff00"/>
<polygon points="437.8 355.6 442.5 354.0 437.6 348.3 432.9 349.9" fill="#00ff35"/>
<polygon points="466.6 368.9 471.1 367.3 466.1 361.2 461.6 362.7" fill="#00ffca"/>
<polygon points="334.2 321.8 339.5 320.1 334.9 315.6 329.5 317.3" fill="#ffc500"/>
<polygon points="364.2 331.0 369.3 329.3 364.6 324.4 359.4 326.1" fill="#d8ff00"/>
<polygon points="403.8 345.2 408.7 343.5 403.8 338.2 398.9 339.8" fill="#4aff00"/>
<polygon points="413.6 349.1 418.4 347.4 413.5 341.9 408.7 343.5" fill="#23ff00"/>
<polygon points="452.5 366.0 457.1 364.3 452.1 358.3 447.5 359.9" fill="#00ff96"/>
<polygon points="481.2 379.9 485.6 378.3 480.5 371.9 476.1 373.5" fill="#00c8ff"/>
<polygon points="324.1 319.0 329.5 317.3 325.0 312.9 319.5 314.6" fill="#ffa600"/>
<polygon points="344.2 324.7 349.5 323.0 344.9 318.4 339.5 320.1" fill="#ffe500"/>
<polygon points="354.2 327.8 359.4 326.1 354.7 321.3 349.5 323.0" fill="#f7ff00"/>
<polygon points="374.1 334.3 379.2 332.6 374.5 327.7 369.3 329.3" fill="#b7ff00"/>
<polygon points="384.0 337.8 389.1 336.1 384.3 331.0 379.2 332.6" fill="#94ff00"/>
<polygon points="393.9 341.4 398.9 339.8 394.1 334.5 389.1 336.1" fill="#70ff00"/>
<polygon points="423.4 353.1 428.2 351.5 423.2 345.8 418.4 347.4" fill="#00ff06"/>
<polygon points="433.1 357.3 437.8 355.6 432.9 349.9 428.2 351.5" fill="#00ff34"/>
<polygon points="442.8 361.6 447.5 359.9 442.5 354.0 437.8 355.6" fill="#00ff64"/>
<polygon points="462.1 370.5 466.6 368.9 461.6 362.7 457.1 364.3" fill="#00ffc9"/>
<polygon points="471.7 375.2 476.1 373.5 471.1 367.3 466.6 368.9" fill="#00fffe"/>
<polygon points="490.7 384.9 495.0 383.2 489.9 376.7 485.6 378.3" fill="#008eff"/>
<polygon points="328.7 323.5 334.2 321.8 329.5 317.3 324.1 319.0" fill="#ffc800"/>
<polygon points="348.9 329.5 354.2 327.8 349.5 323.0 344.2 324.7" fill="#f5ff00"/>
<polygon points="358.9 332.7 364.2 331.0 359.4 326.1 354.2 327.8" fill="#d6ff00"/>
<polygon points="378.9 339.5 384.0 337.8 379.2 332.6 374.1 334.3" fill="#93ff00"/>
<polygon points="398.8 346.9 403.8 345.2 398.9 339.8 393.9 341.4" fill="#49ff00"/>
<polygon points="408.7 350.8 413.6 349.1 408.7 343.5 403.8 345.2" fill="#22ff00"/>
<polygon points="418.5 354.8 423.4 353.1 418.4 347.4 413.6 349.1" fill="#00ff07"/>
<polygon points="438.1 363.3 442.8 361.6 437.8 355.6 433.1 357.3" fill="#00ff64"/>
<polygon points="457.6 372.2 462.1 370.5 457.1 364.3 452.5 366.0" fill="#00ffc8"/>
<polygon points="467.2 376.9 471.7 375.2 466.6 368.9 462.1 370.5" fill="#00fffd"/>
<polygon points="486.3 386.6 490.7 384.9 485.6 378.3 481.2 379.9" fill="#0090ff"/>
<polygon points="338.8 326.4 344.2 324.7 339.5 320.1 334.2 321.8" fill="#ffe800"/>
<polygon points="368.9 336.1 374.1 334.3 369.3 329.3 364.2 331.0" fill="#b5ff00"/>
<polygon points="388.9 343.2 393.9 341.4 389.1 336.1 384.0 337.8" fill="#6fff00"/>
<polygon points="428.4 359.0 433.1 357.3 428.2 351.5 423.4 353.1" fill="#00ff35"/>
<polygon points="447.9 367.7 452.5 366.0 447.5 359.9 442.8 361.6" fill="#00ff95"/>
<polygon points="476.8 381.7 481.2 379.9 476.1 373.5 471.7 375.2" fill="#00c9ff"/>
<polygon points="353.6 334.5 358.9 332.7 354.2 327.8 348.9 329.5" fill="#d4ff00"/>
<polygon points="462.7 378.6 467.2 376.9 462.1 370.5 457.6 372.2" fill="#00fffc"/>
<polygon points="343.5 331.3 348.9 329.5 344.2 324.7 338.8 326.4" fill="#f3ff00"/>
<polygon points="373.8 341.3 378.9 339.5 374.1 334.3 368.9 336.1" fill="#91ff00"/>
<polygon points="383.8 344.9 388.9 343.2 384.0 337.8 378.9 339.5" fill="#6dff00"/>
<polygon points="393.8 348.7 398.8 346.9 393.9 341.4 388.9 343.2" fill="#48ff00"/>
<polygon points="403.7 352.6 408.7 350.8 403.8 345.2 398.8 346.9" fill="#21ff00"/>
<polygon points="413.7 356.6 418.5 354.8 413.6 349.1 408.7 350.8" fill="#00ff07"/>
<polygon points="423.5 360.7 428.4 359.0 423.4 353.1 418.5 354.8" fill="#00ff35"/>
<polygon points="433.4 365.0 438.1 363.3 433.1 357.3 428.4 359.0" fill="#00ff64"/>
<polygon points="443.2 369.4 447.9 367.7 442.8 361.6 438.1 363.3" fill="#00ff95"/>
<polygon points="472.3 383.4 476.8 381.7 471.7 375.2 467.2 376.9" fill="#00caff"/>
<polygon points="333.4 328.3 338.8 326.4 334.2 321.8 328.7 323.5" fill="#ffeb00"/>
<polygon points="363.7 337.8 368.9 336.1 364.2 331.0 358.9 332.7" fill="#b3ff00"/>
<polygon points="452.9 374.0 457.6 372.2 452.5 366.0 447.9 367.7" fill="#00ffc8"/>
<polygon points="481.9 388.3 486.3 386.6 481.2 379.9 476.8 381.7" fill="#0091ff"/>
<polygon points="348.2 336.4 353.6 334.5 348.9 329.5 343.5 331.3" fill="#d1ff00"/>
<polygon points="388.7 350.5 393.8 348.7 388.9 343.2 383.8 344.9" fill="#47ff00"/>
<polygon points="428.6 366.9 433.4 365.0 428.4 359.0 423.5 360.7" fill="#00ff65"/>
<polygon points="467.8 385.3 472.3 383.4 467.2 376.9 462.7 378.6" fill="#00caff"/>
<polygon points="338.1 333.2 343.5 331.3 338.8 326.4 333.4 328.3" fill="#f0ff00"/>
<polygon points="358.4 339.7 363.7 337.8 358.9 332.7 353.6 334.5" fill="#b1ff00"/>
<polygon points="368.5 343.2 373.8 341.3 368.9 336.1 363.7 337.8" fill="#8fff00"/>
<polygon points="378.6 346.8 383.8 344.9 378.9 339.5 373.8 341.3" fill="#6bff00"/>
<polygon points="398.7 354.4 403.7 352.6 398.8 346.9 393.8 348.7" fill="#20ff00"/>
<polygon points="408.7 358.4 413.7 356.6 408.7 350.8 403.7 352.6" fill="#00ff09"/>
<polygon points="418.7 362.6 423.5 360.7 418.5 354.8 413.7 356.6" fill="#00ff36"/>
<polygon points="438.4 371.3 443.2 369.4 438.1 363.3 433.4 365.0" fill="#00ff96"/>
<polygon points="448.3 375.8 452.9 374.0 447.9 367.7 443.2 369.4" fill="#00ffc8"/>
<polygon points="458.0 380.5 462.7 378.6 457.6 372.2 452.9 374.0" fill="#00fffc"/>
<polygon points="477.5 390.2 481.9 388.3 476.8 381.7 472.3 383.4" fill="#0091ff"/>
<polygon points="342.8 338.3 348.2 336.4 343.5 331.3 338.1 333.2" fill="#ceff00"/>
<polygon points="363.2 345.1 368.5 343.2 363.7 337.8 358.4 339.7" fill="#8dff00"/>
<polygon points="383.5 352.4 388.7 350.5 383.8 344.9 378.6 346.8" fill="#45ff00"/>
<polygon points="393.6 356.3 398.7 354.4 393.8 348.7 388.7 350.5" fill="#1eff00"/>
<polygon points="423.7 368.7 428.6 366.9 423.5 360.7 418.7 362.6" fill="#00ff66"/>
<polygon points="433.6 373.2 438.4 371.3 433.4 365.0 428.6 366.9" fill="#00ff97"/>
<polygon points="453.4 382.4 458.0 380.5 452.9 374.0 448.3 375.8" fill="#00fffc"/>
<polygon points="472.9 392.1 477.5 390.2 472.3 383.4 467.8 385.3" fill="#0092ff"/>
<polygon points="353.0 341.6 358.4 339.7 353.6 334.5 348.2 336.4" fill="#aeff00"/>
<polygon points="373.4 348.7 378.6 346.8 373.8 341.3 368.5 343.2" fill="#69ff00"/>
<polygon points="403.7 360.3 408.7 358.4 403.7 352.6 398.7 354.4" fill="#00ff0a"/>
<polygon points="413.7 364.5 418.7 362.6 413.7 356.6 408.7 358.4" fill="#00ff37"/>
<polygon points="443.5 377.7 448.3 375.8 443.2 369.4 438.4 371.3" fill="#00ffc9"/>
<polygon points="463.2 387.1 467.8 385.3 462.7 378.6 458.0 380.5" fill="#00caff"/>
<polygon points="357.9 347.0 363.2 345.1 358.4 339.7 353.0 341.6" fill="#8aff00"/>
<polygon points="368.1 350.6 373.4 348.7 368.5 343.2 363.2 345.1" fill="#67ff00"/>
<polygon points="378.3 354.4 383.5 352.4 378.6 346.8 373.4 348.7" fill="#42ff00"/>
<polygon points="388.5 358.2 393.6 356.3 388.7 350.5 383.5 352.4" fill="#1cff00"/>
<polygon points="398.6 362.3 403.7 360.3 398.7 354.4 393.6 356.3" fill="#00ff0c"/>
<polygon points="418.8 370.7 423.7 368.7 418.7 362.6 413.7 364.5" fill="#00ff68"/>
<polygon points="428.8 375.1 433.6 373.2 428.6 366.9 423.7 368.7" fill="#00ff98"/>
<polygon points="438.7 379.6 443.5 377.7 438.4 371.3 433.6 373.2" fill="#00ffca"/>
<polygon points="448.7 384.3 453.4 382.4 448.3 375.8 443.5 377.7" fill="#00fffd"/>
<polygon points="458.5 389.1 463.2 387.1 458.0 380.5 453.4 382.4" fill="#00caff"/>
<polygon points="347.6 343.6 353.0 341.6 348.2 336.4 342.8 338.3" fill="#abff00"/>
<polygon points="408.7 366.4 413.7 364.5 408.7 358.4 403.7 360.3" fill="#00ff39"/>
<polygon points="468.4 394.0 472.9 392.1 467.8 385.3 463.2 387.1" fill="#0091ff"/>
<polygon points="373.0 356.4 378.3 354.4 373.4 348.7 368.1 350.6" fill="#40ff00"/>
<polygon points="443.9 386.3 448.7 384.3 443.5 377.7 438.7 379.6" fill="#00fffe"/>
<polygon points="352.4 349.1 357.9 347.0 353.0 341.6 347.6 343.6" fill="#87ff00"/>
<polygon points="362.8 352.7 368.1 350.6 363.2 345.1 357.9 347.0" fill="#64ff00"/>
<polygon points="383.3 360.3 388.5 358.2 383.5 352.4 378.3 354.4" fill="#1aff00"/>
<polygon points="393.5 364.3 398.6 362.3 393.6 356.3 388.5 358.2" fill="#00ff0f"/>
<polygon points="403.6 368.4 408.7 366.4 403.7 360.3 398.6 362.3" fill="#00ff3b"/>
<polygon points="413.8 372.7 418.8 370.7 413.7 364.5 408.7 366.4" fill="#00ff6a"/>
<polygon points="423.8 377.1 428.8 375.1 423.7 368.7 418.8 370.7" fill="#00ff99"/>
<polygon points="433.9 381.6 438.7 379.6 433.6 373.2 428.8 375.1" fill="#00ffcb"/>
<polygon points="453.8 391.1 458.5 389.1 453.4 382.4 448.7 384.3" fill="#00c9ff"/>
<polygon points="463.7 396.0 468.4 394.0 463.2 387.1 458.5 389.1" fill="#0091ff"/>
<polygon points="357.3 354.7 362.8 352.7 357.9 347.0 352.4 349.1" fill="#61ff00"/>
<polygon points="367.7 358.5 373.0 356.4 368.1 350.6 362.8 352.7" fill="#3dff00"/>
<polygon points="378.0 362.3 383.3 360.3 378.3 354.4 373.0 356.4" fill="#17ff00"/>
<polygon points="388.3 366.3 393.5 364.3 388.5 358.2 383.3 360.3" fill="#00ff11"/>
<polygon points="398.5 370.5 403.6 368.4 398.6 362.3 393.5 364.3" fill="#00ff3e"/>
<polygon points="408.7 374.8 413.8 372.7 408.7 366.4 403.6 368.4" fill="#00ff6c"/>
<polygon points="418.9 379.2 423.8 377.1 418.8 370.7 413.8 372.7" fill="#00ff9c"/>
<polygon points="429.0 383.7 433.9 381.6 428.8 375.1 423.8 377.1" fill="#00ffcd"/>
<polygon points="439.0 388.4 443.9 386.3 438.7 379.6 433.9 381.6" fill="#00feff"/>
<polygon points="449.1 393.2 453.8 391.1 448.7 384.3 443.9 386.3" fill="#00c8ff"/>
<polygon points="459.0 398.1 463.7 396.0 458.5 389.1 453.8 391.1" fill="#0090ff"/>
<polygon points="362.3 360.6 367.7 358.5 362.8 352.7 357.3 354.7" fill="#39ff00"/>
<polygon points="372.7 364.5 378.0 362.3 373.0 356.4 367.7 358.5" fill="#14ff00"/>
<polygon points="383.0 368.5 388.3 366.3 383.3 360.3 378.0 362.3" fill="#00ff15"/>
<polygon points="403.6 376.9 408.7 374.8 403.6 368.4 398.5 370.5" fill="#00ff6f"/>
<polygon points="413.8 381.3 418.9 379.2 413.8 372.7 408.7 374.8" fill="#00ff9e"/>
<polygon points="434.1 390.5 439.0 388.4 433.9 381.6 429.0 383.7" fill="#00fcff"/>
<polygon points="444.2 395.3 449.1 393.2 443.9 386.3 439.0 388.4" fill="#00c6ff"/>
<polygon points="454.3 400.2 459.0 398.1 453.8 391.1 449.1 393.2" fill="#008eff"/>
<polygon points="393.3 372.6 398.5 370.5 393.5 364.3 388.3 366.3" fill="#00ff41"/>
<polygon points="424.0 385.8 429.0 383.7 423.8 377.1 418.9 379.2" fill="#00ffcf"/>
<polygon points="367.3 366.7 372.7 364.5 367.7 358.5 362.3 360.6" fill="#10ff00"/>
<polygon points="377.7 370.7 383.0 368.5 378.0 362.3 372.7 364.5" fill="#00ff18"/>
<polygon points="388.1 374.8 393.3 372.6 388.3 366.3 383.0 368.5" fill="#00ff44"/>
<polygon points="398.4 379.1 403.6 376.9 398.5 370.5 393.3 372.6" fill="#00ff72"/>
<polygon points="408.7 383.5 413.8 381.3 408.7 374.8 403.6 376.9" fill="#00ffa1"/>
<polygon points="419.0 388.0 424.0 385.8 418.9 379.2 413.8 381.3" fill="#00ffd2"/>
<polygon points="429.2 392.7 434.1 390.5 429.0 383.7 424.0 385.8" fill="#00faff"/>
<polygon points="439.3 397.5 444.2 395.3 439.0 388.4 434.1 390.5" fill="#00c4ff"/>
<polygon points="449.5 402.4 454.3 400.2 449.1 393.2 444.2 395.3" fill="#008cff"/>
<polygon points="393.2 381.3 398.4 379.1 393.3 372.6 388.1 374.8" fill="#00ff75"/>
<polygon points="424.2 394.9 429.2 392.7 424.0 385.8 419.0 388.0" fill="#00f7ff"/>
<polygon points="372.3 372.9 377.7 370.7 372.7 364.5 367.3 366.7" fill="#00ff1c"/>
<polygon points="382.7 377.1 388.1 374.8 383.0 368.5 377.7 370.7" fill="#00ff48"/>
<polygon points="403.5 385.7 408.7 383.5 403.6 376.9 398.4 379.1" fill="#00ffa4"/>
<polygon points="413.9 390.3 419.0 388.0 413.8 381.3 408.7 383.5" fill="#00ffd5"/>
<polygon points="434.4 399.7 439.3 397.5 434.1 390.5 429.2 392.7" fill="#00c1ff"/>
<polygon points="444.6 404.7 449.5 402.4 444.2 395.3 439.3 397.5" fill="#008aff"/>
<polygon points="377.4 379.4 382.7 377.1 377.7 370.7 372.3 372.9" fill="#00ff4c"/>
<polygon points="387.9 383.7 393.2 381.3 388.1 374.8 382.7 377.1" fill="#00ff79"/>
<polygon points="398.3 388.1 403.5 385.7 398.4 379.1 393.2 381.3" fill="#00ffa8"/>
<polygon points="408.7 392.6 413.9 390.3 408.7 383.5 403.5 385.7" fill="#00ffd8"/>
<polygon points="419.1 397.3 424.2 394.9 419.0 388.0 413.9 390.3" fill="#00f4ff"/>
<polygon points="429.4 402.1 434.4 399.7 429.2 392.7 424.2 394.9" fill="#00beff"/>
<polygon points="439.7 407.0 444.6 404.7 439.3 397.5 434.4 399.7" fill="#0087ff"/>
<polygon points="382.5 386.1 387.9 383.7 382.7 377.1 377.4 379.4" fill="#00ff7d"/>
<polygon points="393.0 390.5 398.3 388.1 393.2 381.3 387.9 383.7" fill="#00ffac"/>
<polygon points="403.5 395.0 408.7 392.6 403.5 385.7 398.3 388.1" fill="#00ffdc"/>
<polygon points="413.9 399.6 419.1 397.3 413.9 390.3 408.7 392.6" fill="#00f0ff"/>
<polygon points="424.3 404.4 429.4 402.1 424.2 394.9 419.1 397.3" fill="#00bbff"/>
<polygon points="434.7 409.4 439.7 407.0 434.4 399.7 429.4 402.1" fill="#0084ff"/>
<polygon points="387.6 392.9 393.0 390.5 387.9 383.7 382.5 386.1" fill="#00ffb0"/>
<polygon points="398.2 397.4 403.5 395.0 398.3 388.1 393.0 390.5" fill="#00ffe0"/>
<polygon points="408.7 402.1 413.9 399.6 408.7 392.6 403.5 395.0" fill="#00ecff"/>
<polygon points="419.2 406.9 424.3 404.4 419.1 397.3 413.9 399.6" fill="#00b7ff"/>
<polygon points="429.6 411.8 434.7 409.4 429.4 402.1 424.3 404.4" fill="#0081ff"/>
<polygon points="403.4 404.6 408.7 402.1 403.5 395.0 398.2 397.4" fill="#00e7ff"/>
<polygon points="414.0 409.4 419.2 406.9 413.9 399.6 408.7 402.1" fill="#00b3ff"/>
<polygon points="392.8 400.0 398.2 397.4 393.0 390.5 387.6 392.9" fill="#00ffe5"/>
<polygon points="424.5 414.3 429.6 411.8 424.3 404.4 419.2 406.9" fill="#007dff"/>
<polygon points="398.1 407.2 403.4 404.6 398.2 397.4 392.8 400.0" fill="#00e2ff"/>
<polygon points="408.7 412.0 414.0 409.4 408.7 402.1 403.4 404.6" fill="#00aeff"/>
<polygon points="419.3 416.9 424.5 414.3 419.2 406.9 414.0 409.4" fill="#0078ff"/>
<polygon points="403.4 414.7 408.7 412.0 403.4 404.6 398.1 407.2" fill="#00a9ff"/>
<polygon points="414.0 419.6 419.3 416.9 414.0 409.4 408.7 412.0" fill="#0074ff"/>
<polygon points="408.7 422.3 414.0 419.6 408.7 412.0 403.4 414.7" fill="#006eff"/>
</g>
<circle cx="301.7" cy="297.3" r="2.1" fill="#e00000" stroke="#400" stroke-width="0.9"/>
<circle cx="408.7" cy="273.4" r="2.1" fill="#e00000" stroke="#400" stroke-width="0.9"/>
<circle cx="408.7" cy="322.7" r="2.1" fill="#e00000" stroke="#400" stroke-width="0.9"/>
<circle cx="408.7" cy="327.8" r="2.1" fill="#e00000" stroke="#400" stroke-width="0.9"/>
<circle cx="408.7" cy="329.3" r="2.1" fill="#e00000" stroke="#400" stroke-width="0.9"/>
<circle cx="408.7" cy="425.4" r="2.1" fill="#fde4e0" stroke="#2a1010" stroke-width="1.1"/>
<circle cx="511.7" cy="378.1" r="2.1" fill="#fde4e0" stroke="#2a1010" stroke-width="1.1"/>
<text transform="translate(273 357.0) rotate(-90)" font-size="10.3" text-anchor="middle" fill="#222">W/H</text>
<text x="265.2" y="470.9" font-size="10.3" fill="#222" textLength="107.6">C: scanning speed (mm/s)</text>
<text x="453.3" y="470.9" font-size="10.3" fill="#222" textLength="89.8">B: feeding rate (mg/s)</text>
<text class="p" y="21.9" font-size="19.5" fill="#222" x="1.9">(</text>
<text class="p" y="21.9" font-size="19" font-weight="bold" fill="#222" x="9.3">a</text>
<text class="p" y="21.9" font-size="19.5" fill="#222" x="18.9">)</text>
<text class="p" y="22.0" font-size="19.5" fill="#222" x="254.4">(</text>
<text class="p" y="22.0" font-size="19" font-weight="bold" fill="#222" x="260.7" textLength="12.2" lengthAdjust="spacingAndGlyphs">b</text>
<text class="p" y="22.0" font-size="19.5" fill="#222" x="273.6">)</text>
<text class="p" y="275.9" font-size="19.5" fill="#222" x="2.4">(</text>
<text class="p" y="275.9" font-size="19" font-weight="bold" fill="#222" x="9.2">c</text>
<text class="p" y="275.9" font-size="19.5" fill="#222" x="18.2">)</text>
<text class="p" y="276.1" font-size="19.5" fill="#222" x="254.0">(</text>
<text class="p" y="276.1" font-size="19" font-weight="bold" fill="#222" x="261.1" textLength="11.8" lengthAdjust="spacingAndGlyphs">d</text>
<text class="p" y="276.1" font-size="19.5" fill="#222" x="272.9">)</text>
</svg>
</body></html>
